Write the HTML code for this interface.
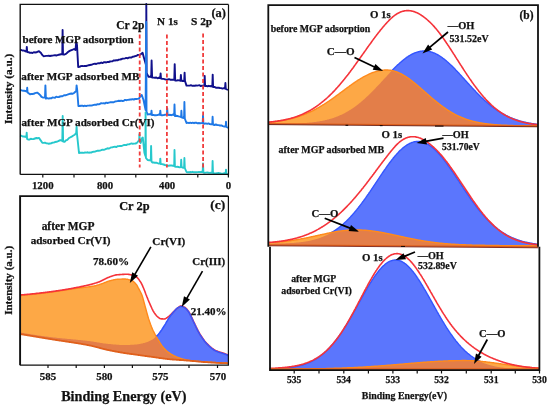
<!DOCTYPE html>
<html><head><meta charset="utf-8"><style>
html,body{margin:0;padding:0;background:#fff;}
svg{display:block;will-change:transform;}
text{font-family:"Liberation Serif",serif;font-weight:bold;fill:#111;stroke:#111;stroke-width:0.25px;}
</style></head><body>
<svg width="550" height="408" viewBox="0 0 550 408">
<rect width="550" height="408" fill="#fff"/>
<g>
<polygon points="268.5,124.2 268.5,123.7 269.0,123.7 269.5,123.7 270.0,123.7 270.5,123.7 271.0,123.7 271.5,123.7 272.0,123.7 272.5,123.7 273.0,123.7 273.5,123.7 274.0,123.7 274.5,123.7 275.0,123.7 275.5,123.7 276.0,123.7 276.5,123.7 277.0,123.7 277.5,123.7 278.0,123.7 278.5,123.7 279.0,123.7 279.5,123.7 280.0,123.7 280.5,123.7 281.0,123.7 281.5,123.7 282.0,123.7 282.5,123.7 283.0,123.7 283.5,123.7 284.0,123.7 284.5,123.7 285.0,123.7 285.5,123.7 286.0,123.7 286.5,123.7 287.0,123.7 287.5,123.6 288.0,123.6 288.5,123.6 289.0,123.6 289.5,123.6 290.0,123.6 290.5,123.6 291.0,123.6 291.5,123.6 292.0,123.6 292.5,123.5 293.0,123.5 293.5,123.5 294.0,123.5 294.5,123.5 295.0,123.5 295.5,123.5 296.0,123.4 296.5,123.4 297.0,123.4 297.5,123.4 298.0,123.4 298.5,123.3 299.0,123.3 299.5,123.3 300.0,123.3 300.5,123.2 301.0,123.2 301.5,123.2 302.0,123.2 302.5,123.1 303.0,123.1 303.5,123.1 304.0,123.0 304.5,123.0 305.0,123.0 305.5,122.9 306.0,122.9 306.5,122.9 307.0,122.8 307.5,122.8 308.0,122.7 308.5,122.7 309.0,122.7 309.5,122.6 310.0,122.6 310.5,122.5 311.0,122.5 311.5,122.4 312.0,122.4 312.5,122.3 313.0,122.2 313.5,122.2 314.0,122.1 314.5,122.1 315.0,122.0 315.5,121.9 316.0,121.9 316.5,121.8 317.0,121.7 317.5,121.6 318.0,121.6 318.5,121.5 319.0,121.4 319.5,121.3 320.0,121.2 320.5,121.1 321.0,121.1 321.5,121.0 322.0,120.9 322.5,120.8 323.0,120.7 323.5,120.6 324.0,120.5 324.5,120.4 325.0,120.2 325.5,120.1 326.0,120.0 326.5,119.9 327.0,119.8 327.5,119.6 328.0,119.5 328.5,119.4 329.0,119.2 329.5,119.1 330.0,119.0 330.5,118.8 331.0,118.7 331.5,118.5 332.0,118.4 332.5,118.2 333.0,118.0 333.5,117.9 334.0,117.7 334.5,117.5 335.0,117.3 335.5,117.2 336.0,117.0 336.5,116.8 337.0,116.6 337.5,116.4 338.0,116.2 338.5,116.0 339.0,115.8 339.5,115.6 340.0,115.3 340.5,115.1 341.0,114.9 341.5,114.7 342.0,114.4 342.5,114.2 343.0,113.9 343.5,113.7 344.0,113.4 344.5,113.2 345.0,112.9 345.5,112.6 346.0,112.4 346.5,112.1 347.0,111.8 347.5,111.5 348.0,111.2 348.5,110.9 349.0,110.6 349.5,110.3 350.0,110.0 350.5,109.7 351.0,109.4 351.5,109.1 352.0,108.7 352.5,108.4 353.0,108.1 353.5,107.7 354.0,107.4 354.5,107.0 355.0,106.7 355.5,106.3 356.0,105.9 356.5,105.6 357.0,105.2 357.5,104.8 358.0,104.4 358.5,104.0 359.0,103.6 359.5,103.2 360.0,102.8 360.5,102.4 361.0,102.0 361.5,101.6 362.0,101.1 362.5,100.7 363.0,100.3 363.5,99.8 364.0,99.4 364.5,98.9 365.0,98.5 365.5,98.0 366.0,97.6 366.5,97.1 367.0,96.6 367.5,96.2 368.0,95.7 368.5,95.2 369.0,94.7 369.5,94.3 370.0,93.8 370.5,93.3 371.0,92.8 371.5,92.3 372.0,91.8 372.5,91.3 373.0,90.8 373.5,90.2 374.0,89.7 374.5,89.2 375.0,88.7 375.5,88.2 376.0,87.6 376.5,87.1 377.0,86.6 377.5,86.1 378.0,85.5 378.5,85.0 379.0,84.5 379.5,83.9 380.0,83.4 380.5,82.9 381.0,82.3 381.5,81.8 382.0,81.2 382.5,80.7 383.0,80.2 383.5,79.6 384.0,79.1 384.5,78.5 385.0,78.0 385.5,77.4 386.0,76.9 386.5,76.4 387.0,75.8 387.5,75.3 388.0,74.8 388.5,74.2 389.0,73.7 389.5,73.2 390.0,72.6 390.5,72.1 391.0,71.6 391.5,71.1 392.0,70.6 392.5,70.0 393.0,69.5 393.5,69.0 394.0,68.5 394.5,68.0 395.0,67.5 395.5,67.0 396.0,66.5 396.5,66.1 397.0,65.6 397.5,65.1 398.0,64.6 398.5,64.2 399.0,63.7 399.5,63.3 400.0,62.8 400.5,62.4 401.0,61.9 401.5,61.5 402.0,61.1 402.5,60.7 403.0,60.3 403.5,59.9 404.0,59.5 404.5,59.1 405.0,58.7 405.5,58.3 406.0,57.9 406.5,57.6 407.0,57.2 407.5,56.9 408.0,56.6 408.5,56.2 409.0,55.9 409.5,55.6 410.0,55.3 410.5,55.0 411.0,54.7 411.5,54.5 412.0,54.2 412.5,54.0 413.0,53.7 413.5,53.5 414.0,53.3 414.5,53.0 415.0,52.8 415.5,52.6 416.0,52.5 416.5,52.3 417.0,52.1 417.5,52.0 418.0,51.8 418.5,51.7 419.0,51.6 419.5,51.5 420.0,51.4 420.5,51.3 421.0,51.2 421.5,51.1 422.0,51.1 422.5,51.0 423.0,51.0 423.5,51.0 424.0,51.0 424.5,51.0 425.0,51.0 425.5,51.0 426.0,51.0 426.5,51.1 427.0,51.1 427.5,51.2 428.0,51.2 428.5,51.3 429.0,51.4 429.5,51.5 430.0,51.6 430.5,51.8 431.0,51.9 431.5,52.1 432.0,52.2 432.5,52.4 433.0,52.6 433.5,52.8 434.0,53.0 434.5,53.2 435.0,53.4 435.5,53.6 436.0,53.9 436.5,54.1 437.0,54.4 437.5,54.7 438.0,55.0 438.5,55.2 439.0,55.5 439.5,55.9 440.0,56.2 440.5,56.5 441.0,56.8 441.5,57.2 442.0,57.5 442.5,57.9 443.0,58.3 443.5,58.6 444.0,59.0 444.5,59.4 445.0,59.8 445.5,60.2 446.0,60.6 446.5,61.1 447.0,61.5 447.5,61.9 448.0,62.4 448.5,62.8 449.0,63.3 449.5,63.7 450.0,64.2 450.5,64.7 451.0,65.1 451.5,65.6 452.0,66.1 452.5,66.6 453.0,67.1 453.5,67.6 454.0,68.1 454.5,68.6 455.0,69.1 455.5,69.6 456.0,70.2 456.5,70.7 457.0,71.2 457.5,71.7 458.0,72.3 458.5,72.8 459.0,73.3 459.5,73.9 460.0,74.4 460.5,75.0 461.0,75.5 461.5,76.1 462.0,76.6 462.5,77.2 463.0,77.7 463.5,78.3 464.0,78.8 464.5,79.4 465.0,79.9 465.5,80.5 466.0,81.0 466.5,81.6 467.0,82.1 467.5,82.7 468.0,83.2 468.5,83.8 469.0,84.3 469.5,84.9 470.0,85.4 470.5,86.0 471.0,86.5 471.5,87.1 472.0,87.6 472.5,88.2 473.0,88.7 473.5,89.2 474.0,89.8 474.5,90.3 475.0,90.8 475.5,91.3 476.0,91.9 476.5,92.4 477.0,92.9 477.5,93.4 478.0,93.9 478.5,94.4 479.0,94.9 479.5,95.4 480.0,95.9 480.5,96.4 481.0,96.9 481.5,97.4 482.0,97.9 482.5,98.3 483.0,98.8 483.5,99.3 484.0,99.8 484.5,100.2 485.0,100.7 485.5,101.1 486.0,101.6 486.5,102.0 487.0,102.4 487.5,102.9 488.0,103.3 488.5,103.7 489.0,104.1 489.5,104.6 490.0,105.0 490.5,105.4 491.0,105.8 491.5,106.2 492.0,106.6 492.5,106.9 493.0,107.3 493.5,107.7 494.0,108.1 494.5,108.4 495.0,108.8 495.5,109.2 496.0,109.5 496.5,109.9 497.0,110.2 497.5,110.5 498.0,110.9 498.5,111.2 499.0,111.5 499.5,111.8 500.0,112.1 500.5,112.4 501.0,112.7 501.5,113.0 502.0,113.3 502.5,113.6 503.0,113.9 503.5,114.2 504.0,114.5 504.5,114.7 505.0,115.0 505.5,115.2 506.0,115.5 506.5,115.8 507.0,116.0 507.5,116.2 508.0,116.5 508.5,116.7 509.0,116.9 509.5,117.2 510.0,117.4 510.5,117.6 511.0,117.8 511.5,118.0 512.0,118.2 512.5,118.4 513.0,118.6 513.5,118.8 514.0,119.0 514.5,119.2 515.0,119.4 515.5,119.5 516.0,119.7 516.5,119.9 517.0,120.0 517.5,120.2 518.0,120.4 518.5,120.5 519.0,120.7 519.5,120.8 520.0,121.0 520.5,121.1 521.0,121.2 521.5,121.4 522.0,121.5 522.5,121.6 523.0,121.8 523.5,121.9 524.0,122.0 524.5,122.1 525.0,122.2 525.5,122.3 526.0,122.4 526.5,122.6 527.0,122.7 527.5,122.8 528.0,122.9 528.5,123.0 529.0,123.1 529.5,123.1 530.0,123.2 530.5,123.3 531.0,123.4 531.5,123.5 532.0,123.6 532.5,123.6 533.0,123.7 533.5,123.8 534.0,123.9 534.5,123.9 535.0,124.0 535.5,124.1 536.0,124.1 536.5,124.2 537.0,124.3 537.5,124.3 537.8,126.4" fill="#5B76FD"/>
<polyline points="268.5,123.7 269.0,123.7 269.5,123.7 270.0,123.7 270.5,123.7 271.0,123.7 271.5,123.7 272.0,123.7 272.5,123.7 273.0,123.7 273.5,123.7 274.0,123.7 274.5,123.7 275.0,123.7 275.5,123.7 276.0,123.7 276.5,123.7 277.0,123.7 277.5,123.7 278.0,123.7 278.5,123.7 279.0,123.7 279.5,123.7 280.0,123.7 280.5,123.7 281.0,123.7 281.5,123.7 282.0,123.7 282.5,123.7 283.0,123.7 283.5,123.7 284.0,123.7 284.5,123.7 285.0,123.7 285.5,123.7 286.0,123.7 286.5,123.7 287.0,123.7 287.5,123.6 288.0,123.6 288.5,123.6 289.0,123.6 289.5,123.6 290.0,123.6 290.5,123.6 291.0,123.6 291.5,123.6 292.0,123.6 292.5,123.5 293.0,123.5 293.5,123.5 294.0,123.5 294.5,123.5 295.0,123.5 295.5,123.5 296.0,123.4 296.5,123.4 297.0,123.4 297.5,123.4 298.0,123.4 298.5,123.3 299.0,123.3 299.5,123.3 300.0,123.3 300.5,123.2 301.0,123.2 301.5,123.2 302.0,123.2 302.5,123.1 303.0,123.1 303.5,123.1 304.0,123.0 304.5,123.0 305.0,123.0 305.5,122.9 306.0,122.9 306.5,122.9 307.0,122.8 307.5,122.8 308.0,122.7 308.5,122.7 309.0,122.7 309.5,122.6 310.0,122.6 310.5,122.5 311.0,122.5 311.5,122.4 312.0,122.4 312.5,122.3 313.0,122.2 313.5,122.2 314.0,122.1 314.5,122.1 315.0,122.0 315.5,121.9 316.0,121.9 316.5,121.8 317.0,121.7 317.5,121.6 318.0,121.6 318.5,121.5 319.0,121.4 319.5,121.3 320.0,121.2 320.5,121.1 321.0,121.1 321.5,121.0 322.0,120.9 322.5,120.8 323.0,120.7 323.5,120.6 324.0,120.5 324.5,120.4 325.0,120.2 325.5,120.1 326.0,120.0 326.5,119.9 327.0,119.8 327.5,119.6 328.0,119.5 328.5,119.4 329.0,119.2 329.5,119.1 330.0,119.0 330.5,118.8 331.0,118.7 331.5,118.5 332.0,118.4 332.5,118.2 333.0,118.0 333.5,117.9 334.0,117.7 334.5,117.5 335.0,117.3 335.5,117.2 336.0,117.0 336.5,116.8 337.0,116.6 337.5,116.4 338.0,116.2 338.5,116.0 339.0,115.8 339.5,115.6 340.0,115.3 340.5,115.1 341.0,114.9 341.5,114.7 342.0,114.4 342.5,114.2 343.0,113.9 343.5,113.7 344.0,113.4 344.5,113.2 345.0,112.9 345.5,112.6 346.0,112.4 346.5,112.1 347.0,111.8 347.5,111.5 348.0,111.2 348.5,110.9 349.0,110.6 349.5,110.3 350.0,110.0 350.5,109.7 351.0,109.4 351.5,109.1 352.0,108.7 352.5,108.4 353.0,108.1 353.5,107.7 354.0,107.4 354.5,107.0 355.0,106.7 355.5,106.3 356.0,105.9 356.5,105.6 357.0,105.2 357.5,104.8 358.0,104.4 358.5,104.0 359.0,103.6 359.5,103.2 360.0,102.8 360.5,102.4 361.0,102.0 361.5,101.6 362.0,101.1 362.5,100.7 363.0,100.3 363.5,99.8 364.0,99.4 364.5,98.9 365.0,98.5 365.5,98.0 366.0,97.6 366.5,97.1 367.0,96.6 367.5,96.2 368.0,95.7 368.5,95.2 369.0,94.7 369.5,94.3 370.0,93.8 370.5,93.3 371.0,92.8 371.5,92.3 372.0,91.8 372.5,91.3 373.0,90.8 373.5,90.2 374.0,89.7 374.5,89.2 375.0,88.7 375.5,88.2 376.0,87.6 376.5,87.1 377.0,86.6 377.5,86.1 378.0,85.5 378.5,85.0 379.0,84.5 379.5,83.9 380.0,83.4 380.5,82.9 381.0,82.3 381.5,81.8 382.0,81.2 382.5,80.7 383.0,80.2 383.5,79.6 384.0,79.1 384.5,78.5 385.0,78.0 385.5,77.4 386.0,76.9 386.5,76.4 387.0,75.8 387.5,75.3 388.0,74.8 388.5,74.2 389.0,73.7 389.5,73.2 390.0,72.6 390.5,72.1 391.0,71.6 391.5,71.1 392.0,70.6 392.5,70.0 393.0,69.5 393.5,69.0 394.0,68.5 394.5,68.0 395.0,67.5 395.5,67.0 396.0,66.5 396.5,66.1 397.0,65.6 397.5,65.1 398.0,64.6 398.5,64.2 399.0,63.7 399.5,63.3 400.0,62.8 400.5,62.4 401.0,61.9 401.5,61.5 402.0,61.1 402.5,60.7 403.0,60.3 403.5,59.9 404.0,59.5 404.5,59.1 405.0,58.7 405.5,58.3 406.0,57.9 406.5,57.6 407.0,57.2 407.5,56.9 408.0,56.6 408.5,56.2 409.0,55.9 409.5,55.6 410.0,55.3 410.5,55.0 411.0,54.7 411.5,54.5 412.0,54.2 412.5,54.0 413.0,53.7 413.5,53.5 414.0,53.3 414.5,53.0 415.0,52.8 415.5,52.6 416.0,52.5 416.5,52.3 417.0,52.1 417.5,52.0 418.0,51.8 418.5,51.7 419.0,51.6 419.5,51.5 420.0,51.4 420.5,51.3 421.0,51.2 421.5,51.1 422.0,51.1 422.5,51.0 423.0,51.0 423.5,51.0 424.0,51.0 424.5,51.0 425.0,51.0 425.5,51.0 426.0,51.0 426.5,51.1 427.0,51.1 427.5,51.2 428.0,51.2 428.5,51.3 429.0,51.4 429.5,51.5 430.0,51.6 430.5,51.8 431.0,51.9 431.5,52.1 432.0,52.2 432.5,52.4 433.0,52.6 433.5,52.8 434.0,53.0 434.5,53.2 435.0,53.4 435.5,53.6 436.0,53.9 436.5,54.1 437.0,54.4 437.5,54.7 438.0,55.0 438.5,55.2 439.0,55.5 439.5,55.9 440.0,56.2 440.5,56.5 441.0,56.8 441.5,57.2 442.0,57.5 442.5,57.9 443.0,58.3 443.5,58.6 444.0,59.0 444.5,59.4 445.0,59.8 445.5,60.2 446.0,60.6 446.5,61.1 447.0,61.5 447.5,61.9 448.0,62.4 448.5,62.8 449.0,63.3 449.5,63.7 450.0,64.2 450.5,64.7 451.0,65.1 451.5,65.6 452.0,66.1 452.5,66.6 453.0,67.1 453.5,67.6 454.0,68.1 454.5,68.6 455.0,69.1 455.5,69.6 456.0,70.2 456.5,70.7 457.0,71.2 457.5,71.7 458.0,72.3 458.5,72.8 459.0,73.3 459.5,73.9 460.0,74.4 460.5,75.0 461.0,75.5 461.5,76.1 462.0,76.6 462.5,77.2 463.0,77.7 463.5,78.3 464.0,78.8 464.5,79.4 465.0,79.9 465.5,80.5 466.0,81.0 466.5,81.6 467.0,82.1 467.5,82.7 468.0,83.2 468.5,83.8 469.0,84.3 469.5,84.9 470.0,85.4 470.5,86.0 471.0,86.5 471.5,87.1 472.0,87.6 472.5,88.2 473.0,88.7 473.5,89.2 474.0,89.8 474.5,90.3 475.0,90.8 475.5,91.3 476.0,91.9 476.5,92.4 477.0,92.9 477.5,93.4 478.0,93.9 478.5,94.4 479.0,94.9 479.5,95.4 480.0,95.9 480.5,96.4 481.0,96.9 481.5,97.4 482.0,97.9 482.5,98.3 483.0,98.8 483.5,99.3 484.0,99.8 484.5,100.2 485.0,100.7 485.5,101.1 486.0,101.6 486.5,102.0 487.0,102.4 487.5,102.9 488.0,103.3 488.5,103.7 489.0,104.1 489.5,104.6 490.0,105.0 490.5,105.4 491.0,105.8 491.5,106.2 492.0,106.6 492.5,106.9 493.0,107.3 493.5,107.7 494.0,108.1 494.5,108.4 495.0,108.8 495.5,109.2 496.0,109.5 496.5,109.9 497.0,110.2 497.5,110.5 498.0,110.9 498.5,111.2 499.0,111.5 499.5,111.8 500.0,112.1 500.5,112.4 501.0,112.7 501.5,113.0 502.0,113.3 502.5,113.6 503.0,113.9 503.5,114.2 504.0,114.5 504.5,114.7 505.0,115.0 505.5,115.2 506.0,115.5 506.5,115.8 507.0,116.0 507.5,116.2 508.0,116.5 508.5,116.7 509.0,116.9 509.5,117.2 510.0,117.4 510.5,117.6 511.0,117.8 511.5,118.0 512.0,118.2 512.5,118.4 513.0,118.6 513.5,118.8 514.0,119.0 514.5,119.2 515.0,119.4 515.5,119.5 516.0,119.7 516.5,119.9 517.0,120.0 517.5,120.2 518.0,120.4 518.5,120.5 519.0,120.7 519.5,120.8 520.0,121.0 520.5,121.1 521.0,121.2 521.5,121.4 522.0,121.5 522.5,121.6 523.0,121.8 523.5,121.9 524.0,122.0 524.5,122.1 525.0,122.2 525.5,122.3 526.0,122.4 526.5,122.6 527.0,122.7 527.5,122.8 528.0,122.9 528.5,123.0 529.0,123.1 529.5,123.1 530.0,123.2 530.5,123.3 531.0,123.4 531.5,123.5 532.0,123.6 532.5,123.6 533.0,123.7 533.5,123.8 534.0,123.9 534.5,123.9 535.0,124.0 535.5,124.1 536.0,124.1 536.5,124.2 537.0,124.3 537.5,124.3" fill="none" stroke="#3355FF" stroke-width="1.4"/>
<polygon points="268.5,124.2 268.5,122.3 269.0,122.2 269.5,122.2 270.0,122.1 270.5,122.1 271.0,122.0 271.5,122.0 272.0,121.9 272.5,121.9 273.0,121.8 273.5,121.8 274.0,121.7 274.5,121.7 275.0,121.6 275.5,121.5 276.0,121.5 276.5,121.4 277.0,121.4 277.5,121.3 278.0,121.2 278.5,121.1 279.0,121.1 279.5,121.0 280.0,120.9 280.5,120.8 281.0,120.8 281.5,120.7 282.0,120.6 282.5,120.5 283.0,120.4 283.5,120.3 284.0,120.2 284.5,120.2 285.0,120.1 285.5,120.0 286.0,119.9 286.5,119.8 287.0,119.7 287.5,119.5 288.0,119.4 288.5,119.3 289.0,119.2 289.5,119.1 290.0,119.0 290.5,118.9 291.0,118.7 291.5,118.6 292.0,118.5 292.5,118.4 293.0,118.2 293.5,118.1 294.0,117.9 294.5,117.8 295.0,117.7 295.5,117.5 296.0,117.4 296.5,117.2 297.0,117.1 297.5,116.9 298.0,116.7 298.5,116.6 299.0,116.4 299.5,116.2 300.0,116.1 300.5,115.9 301.0,115.7 301.5,115.5 302.0,115.4 302.5,115.2 303.0,115.0 303.5,114.8 304.0,114.6 304.5,114.4 305.0,114.2 305.5,114.0 306.0,113.8 306.5,113.6 307.0,113.4 307.5,113.1 308.0,112.9 308.5,112.7 309.0,112.5 309.5,112.3 310.0,112.0 310.5,111.8 311.0,111.5 311.5,111.3 312.0,111.1 312.5,110.8 313.0,110.6 313.5,110.3 314.0,110.0 314.5,109.8 315.0,109.5 315.5,109.3 316.0,109.0 316.5,108.7 317.0,108.4 317.5,108.2 318.0,107.9 318.5,107.6 319.0,107.3 319.5,107.0 320.0,106.7 320.5,106.4 321.0,106.1 321.5,105.8 322.0,105.5 322.5,105.2 323.0,104.9 323.5,104.6 324.0,104.3 324.5,104.0 325.0,103.6 325.5,103.3 326.0,103.0 326.5,102.7 327.0,102.3 327.5,102.0 328.0,101.7 328.5,101.3 329.0,101.0 329.5,100.6 330.0,100.3 330.5,100.0 331.0,99.6 331.5,99.3 332.0,98.9 332.5,98.6 333.0,98.2 333.5,97.8 334.0,97.5 334.5,97.1 335.0,96.8 335.5,96.4 336.0,96.0 336.5,95.7 337.0,95.3 337.5,94.9 338.0,94.6 338.5,94.2 339.0,93.8 339.5,93.5 340.0,93.1 340.5,92.7 341.0,92.4 341.5,92.0 342.0,91.6 342.5,91.3 343.0,90.9 343.5,90.5 344.0,90.1 344.5,89.8 345.0,89.4 345.5,89.0 346.0,88.7 346.5,88.3 347.0,87.9 347.5,87.5 348.0,87.2 348.5,86.8 349.0,86.5 349.5,86.1 350.0,85.7 350.5,85.4 351.0,85.0 351.5,84.7 352.0,84.3 352.5,83.9 353.0,83.6 353.5,83.2 354.0,82.9 354.5,82.6 355.0,82.2 355.5,81.9 356.0,81.5 356.5,81.2 357.0,80.9 357.5,80.6 358.0,80.2 358.5,79.9 359.0,79.6 359.5,79.3 360.0,79.0 360.5,78.7 361.0,78.4 361.5,78.1 362.0,77.8 362.5,77.5 363.0,77.2 363.5,76.9 364.0,76.6 364.5,76.4 365.0,76.1 365.5,75.8 366.0,75.6 366.5,75.3 367.0,75.1 367.5,74.8 368.0,74.6 368.5,74.3 369.0,74.1 369.5,73.9 370.0,73.7 370.5,73.5 371.0,73.3 371.5,73.0 372.0,72.9 372.5,72.7 373.0,72.5 373.5,72.3 374.0,72.1 374.5,72.0 375.0,71.8 375.5,71.7 376.0,71.5 376.5,71.4 377.0,71.2 377.5,71.1 378.0,71.0 378.5,70.9 379.0,70.8 379.5,70.7 380.0,70.6 380.5,70.5 381.0,70.4 381.5,70.3 382.0,70.3 382.5,70.2 383.0,70.2 383.5,70.1 384.0,70.1 384.5,70.0 385.0,70.0 385.5,70.0 386.0,70.0 386.5,70.0 387.0,70.0 387.5,70.0 388.0,70.0 388.5,70.1 389.0,70.1 389.5,70.1 390.0,70.2 390.5,70.3 391.0,70.4 391.5,70.4 392.0,70.5 392.5,70.6 393.0,70.8 393.5,70.9 394.0,71.0 394.5,71.2 395.0,71.3 395.5,71.5 396.0,71.6 396.5,71.8 397.0,72.0 397.5,72.2 398.0,72.4 398.5,72.6 399.0,72.8 399.5,73.1 400.0,73.3 400.5,73.5 401.0,73.8 401.5,74.0 402.0,74.3 402.5,74.6 403.0,74.9 403.5,75.2 404.0,75.5 404.5,75.8 405.0,76.1 405.5,76.4 406.0,76.7 406.5,77.0 407.0,77.4 407.5,77.7 408.0,78.0 408.5,78.4 409.0,78.7 409.5,79.1 410.0,79.5 410.5,79.8 411.0,80.2 411.5,80.6 412.0,81.0 412.5,81.4 413.0,81.8 413.5,82.2 414.0,82.6 414.5,83.0 415.0,83.4 415.5,83.8 416.0,84.2 416.5,84.6 417.0,85.0 417.5,85.5 418.0,85.9 418.5,86.3 419.0,86.7 419.5,87.2 420.0,87.6 420.5,88.0 421.0,88.5 421.5,88.9 422.0,89.4 422.5,89.8 423.0,90.2 423.5,90.7 424.0,91.1 424.5,91.6 425.0,92.0 425.5,92.4 426.0,92.9 426.5,93.3 427.0,93.8 427.5,94.2 428.0,94.6 428.5,95.1 429.0,95.5 429.5,95.9 430.0,96.4 430.5,96.8 431.0,97.2 431.5,97.7 432.0,98.1 432.5,98.5 433.0,98.9 433.5,99.4 434.0,99.8 434.5,100.2 435.0,100.6 435.5,101.0 436.0,101.4 436.5,101.8 437.0,102.2 437.5,102.6 438.0,103.0 438.5,103.4 439.0,103.8 439.5,104.2 440.0,104.6 440.5,105.0 441.0,105.4 441.5,105.7 442.0,106.1 442.5,106.5 443.0,106.8 443.5,107.2 444.0,107.5 444.5,107.9 445.0,108.2 445.5,108.6 446.0,108.9 446.5,109.3 447.0,109.6 447.5,109.9 448.0,110.3 448.5,110.6 449.0,110.9 449.5,111.2 450.0,111.5 450.5,111.8 451.0,112.1 451.5,112.4 452.0,112.7 452.5,113.0 453.0,113.3 453.5,113.5 454.0,113.8 454.5,114.1 455.0,114.3 455.5,114.6 456.0,114.9 456.5,115.1 457.0,115.4 457.5,115.6 458.0,115.8 458.5,116.1 459.0,116.3 459.5,116.5 460.0,116.8 460.5,117.0 461.0,117.2 461.5,117.4 462.0,117.6 462.5,117.8 463.0,118.0 463.5,118.2 464.0,118.4 464.5,118.6 465.0,118.8 465.5,119.0 466.0,119.1 466.5,119.3 467.0,119.5 467.5,119.6 468.0,119.8 468.5,120.0 469.0,120.1 469.5,120.3 470.0,120.4 470.5,120.6 471.0,120.7 471.5,120.9 472.0,121.0 472.5,121.1 473.0,121.3 473.5,121.4 474.0,121.5 474.5,121.6 475.0,121.7 475.5,121.9 476.0,122.0 476.5,122.1 477.0,122.2 477.5,122.3 478.0,122.4 478.5,122.5 479.0,122.6 479.5,122.7 480.0,122.8 480.5,122.9 481.0,123.0 481.5,123.0 482.0,123.1 482.5,123.2 483.0,123.3 483.5,123.4 484.0,123.4 484.5,123.5 485.0,123.6 485.5,123.7 486.0,123.7 486.5,123.8 487.0,123.9 487.5,123.9 488.0,124.0 488.5,124.0 489.0,124.1 489.5,124.2 490.0,124.2 490.5,124.3 491.0,124.3 491.5,124.4 492.0,124.4 492.5,124.5 493.0,124.5 493.5,124.5 494.0,124.6 494.5,124.6 495.0,124.7 495.5,124.7 496.0,124.7 496.5,124.8 497.0,124.8 497.5,124.9 498.0,124.9 498.5,124.9 499.0,124.9 499.5,125.0 500.0,125.0 500.5,125.0 501.0,125.1 501.5,125.1 502.0,125.1 502.5,125.1 503.0,125.2 503.5,125.2 504.0,125.2 504.5,125.2 505.0,125.3 505.5,125.3 506.0,125.3 506.5,125.3 507.0,125.3 507.5,125.4 508.0,125.4 508.5,125.4 509.0,125.4 509.5,125.4 510.0,125.5 510.5,125.5 511.0,125.5 511.5,125.5 512.0,125.5 512.5,125.5 513.0,125.5 513.5,125.6 514.0,125.6 514.5,125.6 515.0,125.6 515.5,125.6 516.0,125.6 516.5,125.6 517.0,125.6 517.5,125.7 518.0,125.7 518.5,125.7 519.0,125.7 519.5,125.7 520.0,125.7 520.5,125.7 521.0,125.7 521.5,125.7 522.0,125.7 522.5,125.7 523.0,125.8 523.5,125.8 524.0,125.8 524.5,125.8 525.0,125.8 525.5,125.8 526.0,125.8 526.5,125.8 527.0,125.8 527.5,125.8 528.0,125.8 528.5,125.8 529.0,125.8 529.5,125.9 530.0,125.9 530.5,125.9 531.0,125.9 531.5,125.9 532.0,125.9 532.5,125.9 533.0,125.9 533.5,125.9 534.0,125.9 534.5,125.9 535.0,125.9 535.5,125.9 536.0,125.9 536.5,125.9 537.0,125.9 537.5,125.9 537.8,126.4" fill="#FDA846"/>
<polygon points="268.5,124.2 268.5,123.7 269.0,123.7 269.5,123.7 270.0,123.7 270.5,123.7 271.0,123.7 271.5,123.7 272.0,123.7 272.5,123.7 273.0,123.7 273.5,123.7 274.0,123.7 274.5,123.7 275.0,123.7 275.5,123.7 276.0,123.7 276.5,123.7 277.0,123.7 277.5,123.7 278.0,123.7 278.5,123.7 279.0,123.7 279.5,123.7 280.0,123.7 280.5,123.7 281.0,123.7 281.5,123.7 282.0,123.7 282.5,123.7 283.0,123.7 283.5,123.7 284.0,123.7 284.5,123.7 285.0,123.7 285.5,123.7 286.0,123.7 286.5,123.7 287.0,123.7 287.5,123.6 288.0,123.6 288.5,123.6 289.0,123.6 289.5,123.6 290.0,123.6 290.5,123.6 291.0,123.6 291.5,123.6 292.0,123.6 292.5,123.5 293.0,123.5 293.5,123.5 294.0,123.5 294.5,123.5 295.0,123.5 295.5,123.5 296.0,123.4 296.5,123.4 297.0,123.4 297.5,123.4 298.0,123.4 298.5,123.3 299.0,123.3 299.5,123.3 300.0,123.3 300.5,123.2 301.0,123.2 301.5,123.2 302.0,123.2 302.5,123.1 303.0,123.1 303.5,123.1 304.0,123.0 304.5,123.0 305.0,123.0 305.5,122.9 306.0,122.9 306.5,122.9 307.0,122.8 307.5,122.8 308.0,122.7 308.5,122.7 309.0,122.7 309.5,122.6 310.0,122.6 310.5,122.5 311.0,122.5 311.5,122.4 312.0,122.4 312.5,122.3 313.0,122.2 313.5,122.2 314.0,122.1 314.5,122.1 315.0,122.0 315.5,121.9 316.0,121.9 316.5,121.8 317.0,121.7 317.5,121.6 318.0,121.6 318.5,121.5 319.0,121.4 319.5,121.3 320.0,121.2 320.5,121.1 321.0,121.1 321.5,121.0 322.0,120.9 322.5,120.8 323.0,120.7 323.5,120.6 324.0,120.5 324.5,120.4 325.0,120.2 325.5,120.1 326.0,120.0 326.5,119.9 327.0,119.8 327.5,119.6 328.0,119.5 328.5,119.4 329.0,119.2 329.5,119.1 330.0,119.0 330.5,118.8 331.0,118.7 331.5,118.5 332.0,118.4 332.5,118.2 333.0,118.0 333.5,117.9 334.0,117.7 334.5,117.5 335.0,117.3 335.5,117.2 336.0,117.0 336.5,116.8 337.0,116.6 337.5,116.4 338.0,116.2 338.5,116.0 339.0,115.8 339.5,115.6 340.0,115.3 340.5,115.1 341.0,114.9 341.5,114.7 342.0,114.4 342.5,114.2 343.0,113.9 343.5,113.7 344.0,113.4 344.5,113.2 345.0,112.9 345.5,112.6 346.0,112.4 346.5,112.1 347.0,111.8 347.5,111.5 348.0,111.2 348.5,110.9 349.0,110.6 349.5,110.3 350.0,110.0 350.5,109.7 351.0,109.4 351.5,109.1 352.0,108.7 352.5,108.4 353.0,108.1 353.5,107.7 354.0,107.4 354.5,107.0 355.0,106.7 355.5,106.3 356.0,105.9 356.5,105.6 357.0,105.2 357.5,104.8 358.0,104.4 358.5,104.0 359.0,103.6 359.5,103.2 360.0,102.8 360.5,102.4 361.0,102.0 361.5,101.6 362.0,101.1 362.5,100.7 363.0,100.3 363.5,99.8 364.0,99.4 364.5,98.9 365.0,98.5 365.5,98.0 366.0,97.6 366.5,97.1 367.0,96.6 367.5,96.2 368.0,95.7 368.5,95.2 369.0,94.7 369.5,94.3 370.0,93.8 370.5,93.3 371.0,92.8 371.5,92.3 372.0,91.8 372.5,91.3 373.0,90.8 373.5,90.2 374.0,89.7 374.5,89.2 375.0,88.7 375.5,88.2 376.0,87.6 376.5,87.1 377.0,86.6 377.5,86.1 378.0,85.5 378.5,85.0 379.0,84.5 379.5,83.9 380.0,83.4 380.5,82.9 381.0,82.3 381.5,81.8 382.0,81.2 382.5,80.7 383.0,80.2 383.5,79.6 384.0,79.1 384.5,78.5 385.0,78.0 385.5,77.4 386.0,76.9 386.5,76.4 387.0,75.8 387.5,75.3 388.0,74.8 388.5,74.2 389.0,73.7 389.5,73.2 390.0,72.6 390.5,72.1 391.0,71.6 391.5,71.1 392.0,70.6 392.5,70.6 393.0,70.8 393.5,70.9 394.0,71.0 394.5,71.2 395.0,71.3 395.5,71.5 396.0,71.6 396.5,71.8 397.0,72.0 397.5,72.2 398.0,72.4 398.5,72.6 399.0,72.8 399.5,73.1 400.0,73.3 400.5,73.5 401.0,73.8 401.5,74.0 402.0,74.3 402.5,74.6 403.0,74.9 403.5,75.2 404.0,75.5 404.5,75.8 405.0,76.1 405.5,76.4 406.0,76.7 406.5,77.0 407.0,77.4 407.5,77.7 408.0,78.0 408.5,78.4 409.0,78.7 409.5,79.1 410.0,79.5 410.5,79.8 411.0,80.2 411.5,80.6 412.0,81.0 412.5,81.4 413.0,81.8 413.5,82.2 414.0,82.6 414.5,83.0 415.0,83.4 415.5,83.8 416.0,84.2 416.5,84.6 417.0,85.0 417.5,85.5 418.0,85.9 418.5,86.3 419.0,86.7 419.5,87.2 420.0,87.6 420.5,88.0 421.0,88.5 421.5,88.9 422.0,89.4 422.5,89.8 423.0,90.2 423.5,90.7 424.0,91.1 424.5,91.6 425.0,92.0 425.5,92.4 426.0,92.9 426.5,93.3 427.0,93.8 427.5,94.2 428.0,94.6 428.5,95.1 429.0,95.5 429.5,95.9 430.0,96.4 430.5,96.8 431.0,97.2 431.5,97.7 432.0,98.1 432.5,98.5 433.0,98.9 433.5,99.4 434.0,99.8 434.5,100.2 435.0,100.6 435.5,101.0 436.0,101.4 436.5,101.8 437.0,102.2 437.5,102.6 438.0,103.0 438.5,103.4 439.0,103.8 439.5,104.2 440.0,104.6 440.5,105.0 441.0,105.4 441.5,105.7 442.0,106.1 442.5,106.5 443.0,106.8 443.5,107.2 444.0,107.5 444.5,107.9 445.0,108.2 445.5,108.6 446.0,108.9 446.5,109.3 447.0,109.6 447.5,109.9 448.0,110.3 448.5,110.6 449.0,110.9 449.5,111.2 450.0,111.5 450.5,111.8 451.0,112.1 451.5,112.4 452.0,112.7 452.5,113.0 453.0,113.3 453.5,113.5 454.0,113.8 454.5,114.1 455.0,114.3 455.5,114.6 456.0,114.9 456.5,115.1 457.0,115.4 457.5,115.6 458.0,115.8 458.5,116.1 459.0,116.3 459.5,116.5 460.0,116.8 460.5,117.0 461.0,117.2 461.5,117.4 462.0,117.6 462.5,117.8 463.0,118.0 463.5,118.2 464.0,118.4 464.5,118.6 465.0,118.8 465.5,119.0 466.0,119.1 466.5,119.3 467.0,119.5 467.5,119.6 468.0,119.8 468.5,120.0 469.0,120.1 469.5,120.3 470.0,120.4 470.5,120.6 471.0,120.7 471.5,120.9 472.0,121.0 472.5,121.1 473.0,121.3 473.5,121.4 474.0,121.5 474.5,121.6 475.0,121.7 475.5,121.9 476.0,122.0 476.5,122.1 477.0,122.2 477.5,122.3 478.0,122.4 478.5,122.5 479.0,122.6 479.5,122.7 480.0,122.8 480.5,122.9 481.0,123.0 481.5,123.0 482.0,123.1 482.5,123.2 483.0,123.3 483.5,123.4 484.0,123.4 484.5,123.5 485.0,123.6 485.5,123.7 486.0,123.7 486.5,123.8 487.0,123.9 487.5,123.9 488.0,124.0 488.5,124.0 489.0,124.1 489.5,124.2 490.0,124.2 490.5,124.3 491.0,124.3 491.5,124.4 492.0,124.4 492.5,124.5 493.0,124.5 493.5,124.5 494.0,124.6 494.5,124.6 495.0,124.7 495.5,124.7 496.0,124.7 496.5,124.8 497.0,124.8 497.5,124.9 498.0,124.9 498.5,124.9 499.0,124.9 499.5,125.0 500.0,125.0 500.5,125.0 501.0,125.1 501.5,125.1 502.0,125.1 502.5,125.1 503.0,125.2 503.5,125.2 504.0,125.2 504.5,125.2 505.0,125.3 505.5,125.3 506.0,125.3 506.5,125.3 507.0,125.3 507.5,125.4 508.0,125.4 508.5,125.4 509.0,125.4 509.5,125.4 510.0,125.5 510.5,125.5 511.0,125.5 511.5,125.5 512.0,125.5 512.5,125.5 513.0,125.5 513.5,125.6 514.0,125.6 514.5,125.6 515.0,125.6 515.5,125.6 516.0,125.6 516.5,125.6 517.0,125.6 517.5,125.7 518.0,125.7 518.5,125.7 519.0,125.7 519.5,125.7 520.0,125.7 520.5,125.7 521.0,125.7 521.5,125.7 522.0,125.7 522.5,125.7 523.0,125.8 523.5,125.8 524.0,125.8 524.5,125.8 525.0,125.8 525.5,125.8 526.0,125.8 526.5,125.8 527.0,125.8 527.5,125.8 528.0,125.8 528.5,125.8 529.0,125.8 529.5,125.9 530.0,125.9 530.5,125.9 531.0,125.9 531.5,125.9 532.0,125.9 532.5,125.9 533.0,125.9 533.5,125.9 534.0,125.9 534.5,125.9 535.0,125.9 535.5,125.9 536.0,125.9 536.5,125.9 537.0,125.9 537.5,125.9 537.8,126.4" fill="#E37E49"/>
<polyline points="268.5,122.3 269.0,122.2 269.5,122.2 270.0,122.1 270.5,122.1 271.0,122.0 271.5,122.0 272.0,121.9 272.5,121.9 273.0,121.8 273.5,121.8 274.0,121.7 274.5,121.7 275.0,121.6 275.5,121.5 276.0,121.5 276.5,121.4 277.0,121.4 277.5,121.3 278.0,121.2 278.5,121.1 279.0,121.1 279.5,121.0 280.0,120.9 280.5,120.8 281.0,120.8 281.5,120.7 282.0,120.6 282.5,120.5 283.0,120.4 283.5,120.3 284.0,120.2 284.5,120.2 285.0,120.1 285.5,120.0 286.0,119.9 286.5,119.8 287.0,119.7 287.5,119.5 288.0,119.4 288.5,119.3 289.0,119.2 289.5,119.1 290.0,119.0 290.5,118.9 291.0,118.7 291.5,118.6 292.0,118.5 292.5,118.4 293.0,118.2 293.5,118.1 294.0,117.9 294.5,117.8 295.0,117.7 295.5,117.5 296.0,117.4 296.5,117.2 297.0,117.1 297.5,116.9 298.0,116.7 298.5,116.6 299.0,116.4 299.5,116.2 300.0,116.1 300.5,115.9 301.0,115.7 301.5,115.5 302.0,115.4 302.5,115.2 303.0,115.0 303.5,114.8 304.0,114.6 304.5,114.4 305.0,114.2 305.5,114.0 306.0,113.8 306.5,113.6 307.0,113.4 307.5,113.1 308.0,112.9 308.5,112.7 309.0,112.5 309.5,112.3 310.0,112.0 310.5,111.8 311.0,111.5 311.5,111.3 312.0,111.1 312.5,110.8 313.0,110.6 313.5,110.3 314.0,110.0 314.5,109.8 315.0,109.5 315.5,109.3 316.0,109.0 316.5,108.7 317.0,108.4 317.5,108.2 318.0,107.9 318.5,107.6 319.0,107.3 319.5,107.0 320.0,106.7 320.5,106.4 321.0,106.1 321.5,105.8 322.0,105.5 322.5,105.2 323.0,104.9 323.5,104.6 324.0,104.3 324.5,104.0 325.0,103.6 325.5,103.3 326.0,103.0 326.5,102.7 327.0,102.3 327.5,102.0 328.0,101.7 328.5,101.3 329.0,101.0 329.5,100.6 330.0,100.3 330.5,100.0 331.0,99.6 331.5,99.3 332.0,98.9 332.5,98.6 333.0,98.2 333.5,97.8 334.0,97.5 334.5,97.1 335.0,96.8 335.5,96.4 336.0,96.0 336.5,95.7 337.0,95.3 337.5,94.9 338.0,94.6 338.5,94.2 339.0,93.8 339.5,93.5 340.0,93.1 340.5,92.7 341.0,92.4 341.5,92.0 342.0,91.6 342.5,91.3 343.0,90.9 343.5,90.5 344.0,90.1 344.5,89.8 345.0,89.4 345.5,89.0 346.0,88.7 346.5,88.3 347.0,87.9 347.5,87.5 348.0,87.2 348.5,86.8 349.0,86.5 349.5,86.1 350.0,85.7 350.5,85.4 351.0,85.0 351.5,84.7 352.0,84.3 352.5,83.9 353.0,83.6 353.5,83.2 354.0,82.9 354.5,82.6 355.0,82.2 355.5,81.9 356.0,81.5 356.5,81.2 357.0,80.9 357.5,80.6 358.0,80.2 358.5,79.9 359.0,79.6 359.5,79.3 360.0,79.0 360.5,78.7 361.0,78.4 361.5,78.1 362.0,77.8 362.5,77.5 363.0,77.2 363.5,76.9 364.0,76.6 364.5,76.4 365.0,76.1 365.5,75.8 366.0,75.6 366.5,75.3 367.0,75.1 367.5,74.8 368.0,74.6 368.5,74.3 369.0,74.1 369.5,73.9 370.0,73.7 370.5,73.5 371.0,73.3 371.5,73.0 372.0,72.9 372.5,72.7 373.0,72.5 373.5,72.3 374.0,72.1 374.5,72.0 375.0,71.8 375.5,71.7 376.0,71.5 376.5,71.4 377.0,71.2 377.5,71.1 378.0,71.0 378.5,70.9 379.0,70.8 379.5,70.7 380.0,70.6 380.5,70.5 381.0,70.4 381.5,70.3 382.0,70.3 382.5,70.2 383.0,70.2 383.5,70.1 384.0,70.1 384.5,70.0 385.0,70.0 385.5,70.0 386.0,70.0 386.5,70.0 387.0,70.0 387.5,70.0 388.0,70.0 388.5,70.1 389.0,70.1 389.5,70.1 390.0,70.2 390.5,70.3 391.0,70.4 391.5,70.4 392.0,70.5 392.5,70.6 393.0,70.8 393.5,70.9 394.0,71.0 394.5,71.2 395.0,71.3 395.5,71.5 396.0,71.6 396.5,71.8 397.0,72.0 397.5,72.2 398.0,72.4 398.5,72.6 399.0,72.8 399.5,73.1 400.0,73.3 400.5,73.5 401.0,73.8 401.5,74.0 402.0,74.3 402.5,74.6 403.0,74.9 403.5,75.2 404.0,75.5 404.5,75.8 405.0,76.1 405.5,76.4 406.0,76.7 406.5,77.0 407.0,77.4 407.5,77.7 408.0,78.0 408.5,78.4 409.0,78.7 409.5,79.1 410.0,79.5 410.5,79.8 411.0,80.2 411.5,80.6 412.0,81.0 412.5,81.4 413.0,81.8 413.5,82.2 414.0,82.6 414.5,83.0 415.0,83.4 415.5,83.8 416.0,84.2 416.5,84.6 417.0,85.0 417.5,85.5 418.0,85.9 418.5,86.3 419.0,86.7 419.5,87.2 420.0,87.6 420.5,88.0 421.0,88.5 421.5,88.9 422.0,89.4 422.5,89.8 423.0,90.2 423.5,90.7 424.0,91.1 424.5,91.6 425.0,92.0 425.5,92.4 426.0,92.9 426.5,93.3 427.0,93.8 427.5,94.2 428.0,94.6 428.5,95.1 429.0,95.5 429.5,95.9 430.0,96.4 430.5,96.8 431.0,97.2 431.5,97.7 432.0,98.1 432.5,98.5 433.0,98.9 433.5,99.4 434.0,99.8 434.5,100.2 435.0,100.6 435.5,101.0 436.0,101.4 436.5,101.8 437.0,102.2 437.5,102.6 438.0,103.0 438.5,103.4 439.0,103.8 439.5,104.2 440.0,104.6 440.5,105.0 441.0,105.4 441.5,105.7 442.0,106.1 442.5,106.5 443.0,106.8 443.5,107.2 444.0,107.5 444.5,107.9 445.0,108.2 445.5,108.6 446.0,108.9 446.5,109.3 447.0,109.6 447.5,109.9 448.0,110.3 448.5,110.6 449.0,110.9 449.5,111.2 450.0,111.5 450.5,111.8 451.0,112.1 451.5,112.4 452.0,112.7 452.5,113.0 453.0,113.3 453.5,113.5 454.0,113.8 454.5,114.1 455.0,114.3 455.5,114.6 456.0,114.9 456.5,115.1 457.0,115.4 457.5,115.6 458.0,115.8 458.5,116.1 459.0,116.3 459.5,116.5 460.0,116.8 460.5,117.0 461.0,117.2 461.5,117.4 462.0,117.6 462.5,117.8 463.0,118.0 463.5,118.2 464.0,118.4 464.5,118.6 465.0,118.8 465.5,119.0 466.0,119.1 466.5,119.3 467.0,119.5 467.5,119.6 468.0,119.8 468.5,120.0 469.0,120.1 469.5,120.3 470.0,120.4 470.5,120.6 471.0,120.7 471.5,120.9 472.0,121.0 472.5,121.1 473.0,121.3 473.5,121.4 474.0,121.5 474.5,121.6 475.0,121.7 475.5,121.9 476.0,122.0 476.5,122.1 477.0,122.2 477.5,122.3 478.0,122.4 478.5,122.5 479.0,122.6 479.5,122.7 480.0,122.8 480.5,122.9 481.0,123.0 481.5,123.0 482.0,123.1 482.5,123.2 483.0,123.3 483.5,123.4 484.0,123.4 484.5,123.5 485.0,123.6 485.5,123.7 486.0,123.7 486.5,123.8 487.0,123.9 487.5,123.9 488.0,124.0 488.5,124.0 489.0,124.1 489.5,124.2 490.0,124.2 490.5,124.3 491.0,124.3 491.5,124.4 492.0,124.4 492.5,124.5 493.0,124.5 493.5,124.5 494.0,124.6 494.5,124.6 495.0,124.7 495.5,124.7 496.0,124.7 496.5,124.8 497.0,124.8 497.5,124.9 498.0,124.9 498.5,124.9 499.0,124.9 499.5,125.0 500.0,125.0 500.5,125.0 501.0,125.1 501.5,125.1 502.0,125.1 502.5,125.1 503.0,125.2 503.5,125.2 504.0,125.2 504.5,125.2 505.0,125.3 505.5,125.3 506.0,125.3 506.5,125.3 507.0,125.3 507.5,125.4 508.0,125.4 508.5,125.4 509.0,125.4 509.5,125.4 510.0,125.5 510.5,125.5 511.0,125.5 511.5,125.5 512.0,125.5 512.5,125.5 513.0,125.5 513.5,125.6 514.0,125.6 514.5,125.6 515.0,125.6 515.5,125.6 516.0,125.6 516.5,125.6 517.0,125.6 517.5,125.7 518.0,125.7 518.5,125.7 519.0,125.7 519.5,125.7 520.0,125.7 520.5,125.7 521.0,125.7 521.5,125.7 522.0,125.7 522.5,125.7 523.0,125.8 523.5,125.8 524.0,125.8 524.5,125.8 525.0,125.8 525.5,125.8 526.0,125.8 526.5,125.8 527.0,125.8 527.5,125.8 528.0,125.8 528.5,125.8 529.0,125.8 529.5,125.9 530.0,125.9 530.5,125.9 531.0,125.9 531.5,125.9 532.0,125.9 532.5,125.9 533.0,125.9 533.5,125.9 534.0,125.9 534.5,125.9 535.0,125.9 535.5,125.9 536.0,125.9 536.5,125.9 537.0,125.9 537.5,125.9" fill="none" stroke="#FF8A1C" stroke-width="1.4"/>
<polyline points="268.5,122.2 269.0,122.1 269.5,122.1 270.0,122.0 270.5,122.0 271.0,121.9 271.5,121.9 272.0,121.8 272.5,121.7 273.0,121.7 273.5,121.6 274.0,121.6 274.5,121.5 275.0,121.4 275.5,121.4 276.0,121.3 276.5,121.2 277.0,121.2 277.5,121.1 278.0,121.0 278.5,120.9 279.0,120.9 279.5,120.8 280.0,120.7 280.5,120.6 281.0,120.5 281.5,120.4 282.0,120.4 282.5,120.3 283.0,120.2 283.5,120.1 284.0,120.0 284.5,119.9 285.0,119.8 285.5,119.6 286.0,119.5 286.5,119.4 287.0,119.3 287.5,119.2 288.0,119.1 288.5,118.9 289.0,118.8 289.5,118.7 290.0,118.6 290.5,118.4 291.0,118.3 291.5,118.1 292.0,118.0 292.5,117.9 293.0,117.7 293.5,117.6 294.0,117.4 294.5,117.2 295.0,117.1 295.5,116.9 296.0,116.7 296.5,116.6 297.0,116.4 297.5,116.2 298.0,116.0 298.5,115.8 299.0,115.7 299.5,115.5 300.0,115.3 300.5,115.1 301.0,114.9 301.5,114.6 302.0,114.4 302.5,114.2 303.0,114.0 303.5,113.8 304.0,113.5 304.5,113.3 305.0,113.1 305.5,112.8 306.0,112.6 306.5,112.3 307.0,112.1 307.5,111.8 308.0,111.5 308.5,111.3 309.0,111.0 309.5,110.7 310.0,110.4 310.5,110.2 311.0,109.9 311.5,109.6 312.0,109.3 312.5,109.0 313.0,108.7 313.5,108.3 314.0,108.0 314.5,107.7 315.0,107.4 315.5,107.0 316.0,106.7 316.5,106.4 317.0,106.0 317.5,105.7 318.0,105.3 318.5,104.9 319.0,104.6 319.5,104.2 320.0,103.8 320.5,103.4 321.0,103.0 321.5,102.6 322.0,102.2 322.5,101.8 323.0,101.4 323.5,101.0 324.0,100.6 324.5,100.2 325.0,99.7 325.5,99.3 326.0,98.9 326.5,98.4 327.0,98.0 327.5,97.5 328.0,97.0 328.5,96.6 329.0,96.1 329.5,95.6 330.0,95.1 330.5,94.6 331.0,94.2 331.5,93.7 332.0,93.2 332.5,92.6 333.0,92.1 333.5,91.6 334.0,91.1 334.5,90.6 335.0,90.0 335.5,89.5 336.0,88.9 336.5,88.4 337.0,87.8 337.5,87.3 338.0,86.7 338.5,86.1 339.0,85.6 339.5,85.0 340.0,84.4 340.5,83.8 341.0,83.2 341.5,82.6 342.0,82.0 342.5,81.4 343.0,80.8 343.5,80.2 344.0,79.6 344.5,79.0 345.0,78.3 345.5,77.7 346.0,77.1 346.5,76.4 347.0,75.8 347.5,75.2 348.0,74.5 348.5,73.9 349.0,73.2 349.5,72.5 350.0,71.9 350.5,71.2 351.0,70.6 351.5,69.9 352.0,69.2 352.5,68.5 353.0,67.9 353.5,67.2 354.0,66.5 354.5,65.8 355.0,65.1 355.5,64.4 356.0,63.7 356.5,63.0 357.0,62.3 357.5,61.6 358.0,60.9 358.5,60.2 359.0,59.5 359.5,58.8 360.0,58.1 360.5,57.4 361.0,56.7 361.5,56.0 362.0,55.3 362.5,54.6 363.0,53.9 363.5,53.2 364.0,52.5 364.5,51.8 365.0,51.1 365.5,50.4 366.0,49.7 366.5,48.9 367.0,48.2 367.5,47.5 368.0,46.8 368.5,46.1 369.0,45.4 369.5,44.7 370.0,44.0 370.5,43.4 371.0,42.7 371.5,42.0 372.0,41.3 372.5,40.6 373.0,39.9 373.5,39.2 374.0,38.6 374.5,37.9 375.0,37.2 375.5,36.6 376.0,35.9 376.5,35.2 377.0,34.6 377.5,33.9 378.0,33.3 378.5,32.6 379.0,32.0 379.5,31.4 380.0,30.7 380.5,30.1 381.0,29.5 381.5,28.9 382.0,28.3 382.5,27.7 383.0,27.1 383.5,26.5 384.0,25.9 384.5,25.3 385.0,24.8 385.5,24.2 386.0,23.6 386.5,23.1 387.0,22.5 387.5,22.0 388.0,21.5 388.5,21.0 389.0,20.4 389.5,19.9 390.0,19.4 390.5,18.9 391.0,18.5 391.5,18.0 392.0,17.6 392.5,17.1 393.0,16.7 393.5,16.3 394.0,15.9 394.5,15.5 395.0,15.1 395.5,14.8 396.0,14.5 396.5,14.1 397.0,13.8 397.5,13.5 398.0,13.2 398.5,13.0 399.0,12.7 399.5,12.5 400.0,12.2 400.5,12.0 401.0,11.8 401.5,11.7 402.0,11.5 402.5,11.3 403.0,11.2 403.5,11.1 404.0,11.0 404.5,10.9 405.0,10.8 405.5,10.7 406.0,10.7 406.5,10.6 407.0,10.6 407.5,10.6 408.0,10.6 408.5,10.6 409.0,10.6 409.5,10.7 410.0,10.7 410.5,10.8 411.0,10.9 411.5,11.0 412.0,11.1 412.5,11.2 413.0,11.3 413.5,11.5 414.0,11.6 414.5,11.8 415.0,12.0 415.5,12.2 416.0,12.4 416.5,12.6 417.0,12.8 417.5,13.1 418.0,13.3 418.5,13.6 419.0,13.8 419.5,14.1 420.0,14.4 420.5,14.7 421.0,15.0 421.5,15.4 422.0,15.7 422.5,16.0 423.0,16.4 423.5,16.8 424.0,17.1 424.5,17.5 425.0,17.9 425.5,18.3 426.0,18.7 426.5,19.1 427.0,19.5 427.5,20.0 428.0,20.4 428.5,20.9 429.0,21.3 429.5,21.8 430.0,22.2 430.5,22.7 431.0,23.2 431.5,23.7 432.0,24.2 432.5,24.8 433.0,25.3 433.5,25.9 434.0,26.4 434.5,27.0 435.0,27.6 435.5,28.1 436.0,28.7 436.5,29.3 437.0,29.9 437.5,30.6 438.0,31.2 438.5,31.8 439.0,32.5 439.5,33.1 440.0,33.8 440.5,34.5 441.0,35.1 441.5,35.8 442.0,36.5 442.5,37.2 443.0,37.9 443.5,38.6 444.0,39.3 444.5,40.0 445.0,40.8 445.5,41.5 446.0,42.2 446.5,43.0 447.0,43.7 447.5,44.4 448.0,45.2 448.5,45.9 449.0,46.7 449.5,47.5 450.0,48.2 450.5,49.0 451.0,49.8 451.5,50.5 452.0,51.3 452.5,52.1 453.0,52.9 453.5,53.7 454.0,54.4 454.5,55.2 455.0,56.0 455.5,56.8 456.0,57.6 456.5,58.4 457.0,59.2 457.5,59.9 458.0,60.7 458.5,61.5 459.0,62.3 459.5,63.1 460.0,63.9 460.5,64.7 461.0,65.4 461.5,66.2 462.0,67.0 462.5,67.8 463.0,68.5 463.5,69.3 464.0,70.1 464.5,70.9 465.0,71.6 465.5,72.4 466.0,73.1 466.5,73.9 467.0,74.7 467.5,75.4 468.0,76.1 468.5,76.9 469.0,77.6 469.5,78.4 470.0,79.1 470.5,79.8 471.0,80.5 471.5,81.2 472.0,82.0 472.5,82.7 473.0,83.4 473.5,84.1 474.0,84.8 474.5,85.4 475.0,86.1 475.5,86.8 476.0,87.5 476.5,88.1 477.0,88.8 477.5,89.4 478.0,90.1 478.5,90.7 479.0,91.4 479.5,92.0 480.0,92.6 480.5,93.2 481.0,93.8 481.5,94.4 482.0,95.0 482.5,95.6 483.0,96.2 483.5,96.8 484.0,97.3 484.5,97.9 485.0,98.4 485.5,99.0 486.0,99.5 486.5,100.1 487.0,100.6 487.5,101.1 488.0,101.6 488.5,102.1 489.0,102.6 489.5,103.1 490.0,103.6 490.5,104.1 491.0,104.6 491.5,105.0 492.0,105.5 492.5,105.9 493.0,106.4 493.5,106.8 494.0,107.3 494.5,107.7 495.0,108.1 495.5,108.5 496.0,108.9 496.5,109.3 497.0,109.7 497.5,110.1 498.0,110.5 498.5,110.8 499.0,111.2 499.5,111.6 500.0,111.9 500.5,112.3 501.0,112.6 501.5,112.9 502.0,113.3 502.5,113.6 503.0,113.9 503.5,114.2 504.0,114.5 504.5,114.8 505.0,115.1 505.5,115.4 506.0,115.6 506.5,115.9 507.0,116.2 507.5,116.5 508.0,116.7 508.5,117.0 509.0,117.2 509.5,117.4 510.0,117.7 510.5,117.9 511.0,118.1 511.5,118.4 512.0,118.6 512.5,118.8 513.0,119.0 513.5,119.2 514.0,119.4 514.5,119.6 515.0,119.8 515.5,119.9 516.0,120.1 516.5,120.3 517.0,120.5 517.5,120.6 518.0,120.8 518.5,121.0 519.0,121.1 519.5,121.3 520.0,121.4 520.5,121.5 521.0,121.7 521.5,121.8 522.0,121.9 522.5,122.1 523.0,122.2 523.5,122.3 524.0,122.4 524.5,122.6 525.0,122.7 525.5,122.8 526.0,122.9 526.5,123.0 527.0,123.1 527.5,123.2 528.0,123.3 528.5,123.4 529.0,123.5 529.5,123.6 530.0,123.6 530.5,123.7 531.0,123.8 531.5,123.9 532.0,124.0 532.5,124.0 533.0,124.1 533.5,124.2 534.0,124.2 534.5,124.3 535.0,124.4 535.5,124.4 536.0,124.5 536.5,124.5 537.0,124.6 537.5,124.7" fill="none" stroke="#F5333A" stroke-width="1.6"/>
<line x1="268.5" y1="123.69" x2="537.8" y2="125.87" stroke="#E0601C" stroke-width="1.3"/>
<line x1="268.5" y1="124.59" x2="537.8" y2="126.77" stroke="#6a1d10" stroke-width="0.9"/>

<polygon points="268.5,245.3 268.5,243.7 269.0,243.7 269.5,243.7 270.0,243.7 270.5,243.7 271.0,243.7 271.5,243.7 272.0,243.7 272.5,243.7 273.0,243.7 273.5,243.7 274.0,243.7 274.5,243.6 275.0,243.6 275.5,243.6 276.0,243.6 276.5,243.6 277.0,243.6 277.5,243.6 278.0,243.6 278.5,243.6 279.0,243.6 279.5,243.6 280.0,243.5 280.5,243.5 281.0,243.5 281.5,243.5 282.0,243.5 282.5,243.5 283.0,243.4 283.5,243.4 284.0,243.4 284.5,243.4 285.0,243.4 285.5,243.4 286.0,243.3 286.5,243.3 287.0,243.3 287.5,243.3 288.0,243.2 288.5,243.2 289.0,243.2 289.5,243.2 290.0,243.1 290.5,243.1 291.0,243.1 291.5,243.0 292.0,243.0 292.5,243.0 293.0,242.9 293.5,242.9 294.0,242.9 294.5,242.8 295.0,242.8 295.5,242.7 296.0,242.7 296.5,242.6 297.0,242.6 297.5,242.5 298.0,242.5 298.5,242.4 299.0,242.4 299.5,242.3 300.0,242.3 300.5,242.2 301.0,242.2 301.5,242.1 302.0,242.0 302.5,242.0 303.0,241.9 303.5,241.8 304.0,241.7 304.5,241.7 305.0,241.6 305.5,241.5 306.0,241.4 306.5,241.3 307.0,241.2 307.5,241.2 308.0,241.1 308.5,241.0 309.0,240.9 309.5,240.8 310.0,240.7 310.5,240.6 311.0,240.4 311.5,240.3 312.0,240.2 312.5,240.1 313.0,240.0 313.5,239.8 314.0,239.7 314.5,239.6 315.0,239.4 315.5,239.3 316.0,239.2 316.5,239.0 317.0,238.9 317.5,238.7 318.0,238.5 318.5,238.4 319.0,238.2 319.5,238.0 320.0,237.9 320.5,237.7 321.0,237.5 321.5,237.3 322.0,237.1 322.5,236.9 323.0,236.7 323.5,236.5 324.0,236.3 324.5,236.1 325.0,235.9 325.5,235.6 326.0,235.4 326.5,235.2 327.0,234.9 327.5,234.7 328.0,234.4 328.5,234.2 329.0,233.9 329.5,233.6 330.0,233.4 330.5,233.1 331.0,232.8 331.5,232.5 332.0,232.2 332.5,231.9 333.0,231.6 333.5,231.3 334.0,231.0 334.5,230.7 335.0,230.3 335.5,230.0 336.0,229.6 336.5,229.3 337.0,228.9 337.5,228.6 338.0,228.2 338.5,227.8 339.0,227.5 339.5,227.1 340.0,226.7 340.5,226.3 341.0,225.9 341.5,225.5 342.0,225.0 342.5,224.6 343.0,224.2 343.5,223.7 344.0,223.3 344.5,222.8 345.0,222.4 345.5,221.9 346.0,221.4 346.5,221.0 347.0,220.5 347.5,220.0 348.0,219.5 348.5,219.0 349.0,218.5 349.5,217.9 350.0,217.4 350.5,216.9 351.0,216.3 351.5,215.8 352.0,215.2 352.5,214.7 353.0,214.1 353.5,213.5 354.0,213.0 354.5,212.4 355.0,211.8 355.5,211.2 356.0,210.6 356.5,210.0 357.0,209.4 357.5,208.7 358.0,208.1 358.5,207.5 359.0,206.8 359.5,206.2 360.0,205.5 360.5,204.9 361.0,204.2 361.5,203.6 362.0,202.9 362.5,202.2 363.0,201.5 363.5,200.9 364.0,200.2 364.5,199.5 365.0,198.8 365.5,198.1 366.0,197.4 366.5,196.6 367.0,195.9 367.5,195.2 368.0,194.5 368.5,193.8 369.0,193.0 369.5,192.3 370.0,191.6 370.5,190.8 371.0,190.1 371.5,189.4 372.0,188.6 372.5,187.9 373.0,187.1 373.5,186.4 374.0,185.6 374.5,184.9 375.0,184.1 375.5,183.4 376.0,182.6 376.5,181.9 377.0,181.1 377.5,180.4 378.0,179.6 378.5,178.9 379.0,178.1 379.5,177.4 380.0,176.6 380.5,175.9 381.0,175.1 381.5,174.4 382.0,173.7 382.5,172.9 383.0,172.2 383.5,171.5 384.0,170.7 384.5,170.0 385.0,169.3 385.5,168.6 386.0,167.8 386.5,167.1 387.0,166.4 387.5,165.7 388.0,165.0 388.5,164.4 389.0,163.7 389.5,163.0 390.0,162.3 390.5,161.7 391.0,161.0 391.5,160.4 392.0,159.7 392.5,159.1 393.0,158.5 393.5,157.8 394.0,157.2 394.5,156.6 395.0,156.0 395.5,155.4 396.0,154.9 396.5,154.3 397.0,153.8 397.5,153.2 398.0,152.7 398.5,152.1 399.0,151.6 399.5,151.1 400.0,150.6 400.5,150.1 401.0,149.7 401.5,149.2 402.0,148.8 402.5,148.3 403.0,147.9 403.5,147.5 404.0,147.1 404.5,146.7 405.0,146.3 405.5,146.0 406.0,145.6 406.5,145.3 407.0,144.9 407.5,144.6 408.0,144.3 408.5,144.1 409.0,143.8 409.5,143.5 410.0,143.3 410.5,143.1 411.0,142.9 411.5,142.7 412.0,142.5 412.5,142.3 413.0,142.2 413.5,142.0 414.0,141.9 414.5,141.8 415.0,141.7 415.5,141.6 416.0,141.5 416.5,141.5 417.0,141.5 417.5,141.4 418.0,141.4 418.5,141.4 419.0,141.5 419.5,141.5 420.0,141.6 420.5,141.6 421.0,141.7 421.5,141.8 422.0,141.9 422.5,142.1 423.0,142.2 423.5,142.4 424.0,142.5 424.5,142.7 425.0,142.9 425.5,143.1 426.0,143.4 426.5,143.6 427.0,143.9 427.5,144.1 428.0,144.4 428.5,144.7 429.0,145.0 429.5,145.4 430.0,145.7 430.5,146.1 431.0,146.4 431.5,146.8 432.0,147.2 432.5,147.6 433.0,148.0 433.5,148.4 434.0,148.9 434.5,149.3 435.0,149.8 435.5,150.3 436.0,150.8 436.5,151.3 437.0,151.8 437.5,152.3 438.0,152.8 438.5,153.4 439.0,153.9 439.5,154.5 440.0,155.0 440.5,155.6 441.0,156.2 441.5,156.8 442.0,157.4 442.5,158.0 443.0,158.6 443.5,159.3 444.0,159.9 444.5,160.6 445.0,161.2 445.5,161.9 446.0,162.5 446.5,163.2 447.0,163.9 447.5,164.6 448.0,165.3 448.5,166.0 449.0,166.7 449.5,167.4 450.0,168.1 450.5,168.8 451.0,169.5 451.5,170.2 452.0,171.0 452.5,171.7 453.0,172.4 453.5,173.2 454.0,173.9 454.5,174.7 455.0,175.4 455.5,176.2 456.0,176.9 456.5,177.7 457.0,178.4 457.5,179.2 458.0,179.9 458.5,180.7 459.0,181.4 459.5,182.2 460.0,183.0 460.5,183.7 461.0,184.5 461.5,185.2 462.0,186.0 462.5,186.7 463.0,187.5 463.5,188.3 464.0,189.0 464.5,189.8 465.0,190.5 465.5,191.2 466.0,192.0 466.5,192.7 467.0,193.5 467.5,194.2 468.0,194.9 468.5,195.7 469.0,196.4 469.5,197.1 470.0,197.8 470.5,198.5 471.0,199.3 471.5,200.0 472.0,200.7 472.5,201.4 473.0,202.0 473.5,202.7 474.0,203.4 474.5,204.1 475.0,204.8 475.5,205.4 476.0,206.1 476.5,206.8 477.0,207.4 477.5,208.1 478.0,208.7 478.5,209.3 479.0,210.0 479.5,210.6 480.0,211.2 480.5,211.8 481.0,212.4 481.5,213.0 482.0,213.6 482.5,214.2 483.0,214.8 483.5,215.4 484.0,215.9 484.5,216.5 485.0,217.1 485.5,217.6 486.0,218.2 486.5,218.7 487.0,219.2 487.5,219.7 488.0,220.3 488.5,220.8 489.0,221.3 489.5,221.8 490.0,222.3 490.5,222.7 491.0,223.2 491.5,223.7 492.0,224.2 492.5,224.6 493.0,225.1 493.5,225.5 494.0,225.9 494.5,226.4 495.0,226.8 495.5,227.2 496.0,227.6 496.5,228.0 497.0,228.4 497.5,228.8 498.0,229.2 498.5,229.6 499.0,229.9 499.5,230.3 500.0,230.7 500.5,231.0 501.0,231.4 501.5,231.7 502.0,232.1 502.5,232.4 503.0,232.7 503.5,233.0 504.0,233.3 504.5,233.6 505.0,233.9 505.5,234.2 506.0,234.5 506.5,234.8 507.0,235.1 507.5,235.4 508.0,235.6 508.5,235.9 509.0,236.1 509.5,236.4 510.0,236.6 510.5,236.9 511.0,237.1 511.5,237.3 512.0,237.6 512.5,237.8 513.0,238.0 513.5,238.2 514.0,238.4 514.5,238.6 515.0,238.8 515.5,239.0 516.0,239.2 516.5,239.4 517.0,239.6 517.5,239.8 518.0,239.9 518.5,240.1 519.0,240.3 519.5,240.4 520.0,240.6 520.5,240.7 521.0,240.9 521.5,241.0 522.0,241.2 522.5,241.3 523.0,241.5 523.5,241.6 524.0,241.7 524.5,241.8 525.0,242.0 525.5,242.1 526.0,242.2 526.5,242.3 527.0,242.4 527.5,242.5 528.0,242.6 528.5,242.7 529.0,242.8 529.5,242.9 530.0,243.0 530.5,243.1 531.0,243.2 531.5,243.3 532.0,243.4 532.5,243.5 533.0,243.6 533.5,243.6 534.0,243.7 534.5,243.8 535.0,243.9 535.5,243.9 536.0,244.0 536.5,244.1 537.0,244.1 537.5,244.2 538.0,244.3 538.3,247.3" fill="#5B76FD"/>
<polyline points="268.5,243.7 269.0,243.7 269.5,243.7 270.0,243.7 270.5,243.7 271.0,243.7 271.5,243.7 272.0,243.7 272.5,243.7 273.0,243.7 273.5,243.7 274.0,243.7 274.5,243.6 275.0,243.6 275.5,243.6 276.0,243.6 276.5,243.6 277.0,243.6 277.5,243.6 278.0,243.6 278.5,243.6 279.0,243.6 279.5,243.6 280.0,243.5 280.5,243.5 281.0,243.5 281.5,243.5 282.0,243.5 282.5,243.5 283.0,243.4 283.5,243.4 284.0,243.4 284.5,243.4 285.0,243.4 285.5,243.4 286.0,243.3 286.5,243.3 287.0,243.3 287.5,243.3 288.0,243.2 288.5,243.2 289.0,243.2 289.5,243.2 290.0,243.1 290.5,243.1 291.0,243.1 291.5,243.0 292.0,243.0 292.5,243.0 293.0,242.9 293.5,242.9 294.0,242.9 294.5,242.8 295.0,242.8 295.5,242.7 296.0,242.7 296.5,242.6 297.0,242.6 297.5,242.5 298.0,242.5 298.5,242.4 299.0,242.4 299.5,242.3 300.0,242.3 300.5,242.2 301.0,242.2 301.5,242.1 302.0,242.0 302.5,242.0 303.0,241.9 303.5,241.8 304.0,241.7 304.5,241.7 305.0,241.6 305.5,241.5 306.0,241.4 306.5,241.3 307.0,241.2 307.5,241.2 308.0,241.1 308.5,241.0 309.0,240.9 309.5,240.8 310.0,240.7 310.5,240.6 311.0,240.4 311.5,240.3 312.0,240.2 312.5,240.1 313.0,240.0 313.5,239.8 314.0,239.7 314.5,239.6 315.0,239.4 315.5,239.3 316.0,239.2 316.5,239.0 317.0,238.9 317.5,238.7 318.0,238.5 318.5,238.4 319.0,238.2 319.5,238.0 320.0,237.9 320.5,237.7 321.0,237.5 321.5,237.3 322.0,237.1 322.5,236.9 323.0,236.7 323.5,236.5 324.0,236.3 324.5,236.1 325.0,235.9 325.5,235.6 326.0,235.4 326.5,235.2 327.0,234.9 327.5,234.7 328.0,234.4 328.5,234.2 329.0,233.9 329.5,233.6 330.0,233.4 330.5,233.1 331.0,232.8 331.5,232.5 332.0,232.2 332.5,231.9 333.0,231.6 333.5,231.3 334.0,231.0 334.5,230.7 335.0,230.3 335.5,230.0 336.0,229.6 336.5,229.3 337.0,228.9 337.5,228.6 338.0,228.2 338.5,227.8 339.0,227.5 339.5,227.1 340.0,226.7 340.5,226.3 341.0,225.9 341.5,225.5 342.0,225.0 342.5,224.6 343.0,224.2 343.5,223.7 344.0,223.3 344.5,222.8 345.0,222.4 345.5,221.9 346.0,221.4 346.5,221.0 347.0,220.5 347.5,220.0 348.0,219.5 348.5,219.0 349.0,218.5 349.5,217.9 350.0,217.4 350.5,216.9 351.0,216.3 351.5,215.8 352.0,215.2 352.5,214.7 353.0,214.1 353.5,213.5 354.0,213.0 354.5,212.4 355.0,211.8 355.5,211.2 356.0,210.6 356.5,210.0 357.0,209.4 357.5,208.7 358.0,208.1 358.5,207.5 359.0,206.8 359.5,206.2 360.0,205.5 360.5,204.9 361.0,204.2 361.5,203.6 362.0,202.9 362.5,202.2 363.0,201.5 363.5,200.9 364.0,200.2 364.5,199.5 365.0,198.8 365.5,198.1 366.0,197.4 366.5,196.6 367.0,195.9 367.5,195.2 368.0,194.5 368.5,193.8 369.0,193.0 369.5,192.3 370.0,191.6 370.5,190.8 371.0,190.1 371.5,189.4 372.0,188.6 372.5,187.9 373.0,187.1 373.5,186.4 374.0,185.6 374.5,184.9 375.0,184.1 375.5,183.4 376.0,182.6 376.5,181.9 377.0,181.1 377.5,180.4 378.0,179.6 378.5,178.9 379.0,178.1 379.5,177.4 380.0,176.6 380.5,175.9 381.0,175.1 381.5,174.4 382.0,173.7 382.5,172.9 383.0,172.2 383.5,171.5 384.0,170.7 384.5,170.0 385.0,169.3 385.5,168.6 386.0,167.8 386.5,167.1 387.0,166.4 387.5,165.7 388.0,165.0 388.5,164.4 389.0,163.7 389.5,163.0 390.0,162.3 390.5,161.7 391.0,161.0 391.5,160.4 392.0,159.7 392.5,159.1 393.0,158.5 393.5,157.8 394.0,157.2 394.5,156.6 395.0,156.0 395.5,155.4 396.0,154.9 396.5,154.3 397.0,153.8 397.5,153.2 398.0,152.7 398.5,152.1 399.0,151.6 399.5,151.1 400.0,150.6 400.5,150.1 401.0,149.7 401.5,149.2 402.0,148.8 402.5,148.3 403.0,147.9 403.5,147.5 404.0,147.1 404.5,146.7 405.0,146.3 405.5,146.0 406.0,145.6 406.5,145.3 407.0,144.9 407.5,144.6 408.0,144.3 408.5,144.1 409.0,143.8 409.5,143.5 410.0,143.3 410.5,143.1 411.0,142.9 411.5,142.7 412.0,142.5 412.5,142.3 413.0,142.2 413.5,142.0 414.0,141.9 414.5,141.8 415.0,141.7 415.5,141.6 416.0,141.5 416.5,141.5 417.0,141.5 417.5,141.4 418.0,141.4 418.5,141.4 419.0,141.5 419.5,141.5 420.0,141.6 420.5,141.6 421.0,141.7 421.5,141.8 422.0,141.9 422.5,142.1 423.0,142.2 423.5,142.4 424.0,142.5 424.5,142.7 425.0,142.9 425.5,143.1 426.0,143.4 426.5,143.6 427.0,143.9 427.5,144.1 428.0,144.4 428.5,144.7 429.0,145.0 429.5,145.4 430.0,145.7 430.5,146.1 431.0,146.4 431.5,146.8 432.0,147.2 432.5,147.6 433.0,148.0 433.5,148.4 434.0,148.9 434.5,149.3 435.0,149.8 435.5,150.3 436.0,150.8 436.5,151.3 437.0,151.8 437.5,152.3 438.0,152.8 438.5,153.4 439.0,153.9 439.5,154.5 440.0,155.0 440.5,155.6 441.0,156.2 441.5,156.8 442.0,157.4 442.5,158.0 443.0,158.6 443.5,159.3 444.0,159.9 444.5,160.6 445.0,161.2 445.5,161.9 446.0,162.5 446.5,163.2 447.0,163.9 447.5,164.6 448.0,165.3 448.5,166.0 449.0,166.7 449.5,167.4 450.0,168.1 450.5,168.8 451.0,169.5 451.5,170.2 452.0,171.0 452.5,171.7 453.0,172.4 453.5,173.2 454.0,173.9 454.5,174.7 455.0,175.4 455.5,176.2 456.0,176.9 456.5,177.7 457.0,178.4 457.5,179.2 458.0,179.9 458.5,180.7 459.0,181.4 459.5,182.2 460.0,183.0 460.5,183.7 461.0,184.5 461.5,185.2 462.0,186.0 462.5,186.7 463.0,187.5 463.5,188.3 464.0,189.0 464.5,189.8 465.0,190.5 465.5,191.2 466.0,192.0 466.5,192.7 467.0,193.5 467.5,194.2 468.0,194.9 468.5,195.7 469.0,196.4 469.5,197.1 470.0,197.8 470.5,198.5 471.0,199.3 471.5,200.0 472.0,200.7 472.5,201.4 473.0,202.0 473.5,202.7 474.0,203.4 474.5,204.1 475.0,204.8 475.5,205.4 476.0,206.1 476.5,206.8 477.0,207.4 477.5,208.1 478.0,208.7 478.5,209.3 479.0,210.0 479.5,210.6 480.0,211.2 480.5,211.8 481.0,212.4 481.5,213.0 482.0,213.6 482.5,214.2 483.0,214.8 483.5,215.4 484.0,215.9 484.5,216.5 485.0,217.1 485.5,217.6 486.0,218.2 486.5,218.7 487.0,219.2 487.5,219.7 488.0,220.3 488.5,220.8 489.0,221.3 489.5,221.8 490.0,222.3 490.5,222.7 491.0,223.2 491.5,223.7 492.0,224.2 492.5,224.6 493.0,225.1 493.5,225.5 494.0,225.9 494.5,226.4 495.0,226.8 495.5,227.2 496.0,227.6 496.5,228.0 497.0,228.4 497.5,228.8 498.0,229.2 498.5,229.6 499.0,229.9 499.5,230.3 500.0,230.7 500.5,231.0 501.0,231.4 501.5,231.7 502.0,232.1 502.5,232.4 503.0,232.7 503.5,233.0 504.0,233.3 504.5,233.6 505.0,233.9 505.5,234.2 506.0,234.5 506.5,234.8 507.0,235.1 507.5,235.4 508.0,235.6 508.5,235.9 509.0,236.1 509.5,236.4 510.0,236.6 510.5,236.9 511.0,237.1 511.5,237.3 512.0,237.6 512.5,237.8 513.0,238.0 513.5,238.2 514.0,238.4 514.5,238.6 515.0,238.8 515.5,239.0 516.0,239.2 516.5,239.4 517.0,239.6 517.5,239.8 518.0,239.9 518.5,240.1 519.0,240.3 519.5,240.4 520.0,240.6 520.5,240.7 521.0,240.9 521.5,241.0 522.0,241.2 522.5,241.3 523.0,241.5 523.5,241.6 524.0,241.7 524.5,241.8 525.0,242.0 525.5,242.1 526.0,242.2 526.5,242.3 527.0,242.4 527.5,242.5 528.0,242.6 528.5,242.7 529.0,242.8 529.5,242.9 530.0,243.0 530.5,243.1 531.0,243.2 531.5,243.3 532.0,243.4 532.5,243.5 533.0,243.6 533.5,243.6 534.0,243.7 534.5,243.8 535.0,243.9 535.5,243.9 536.0,244.0 536.5,244.1 537.0,244.1 537.5,244.2 538.0,244.3" fill="none" stroke="#3355FF" stroke-width="1.4"/>
<polygon points="268.5,245.3 268.5,242.8 269.0,242.8 269.5,242.7 270.0,242.7 270.5,242.7 271.0,242.6 271.5,242.6 272.0,242.6 272.5,242.5 273.0,242.5 273.5,242.5 274.0,242.4 274.5,242.4 275.0,242.4 275.5,242.3 276.0,242.3 276.5,242.2 277.0,242.2 277.5,242.1 278.0,242.1 278.5,242.1 279.0,242.0 279.5,242.0 280.0,241.9 280.5,241.9 281.0,241.8 281.5,241.8 282.0,241.7 282.5,241.7 283.0,241.6 283.5,241.5 284.0,241.5 284.5,241.4 285.0,241.4 285.5,241.3 286.0,241.3 286.5,241.2 287.0,241.1 287.5,241.1 288.0,241.0 288.5,240.9 289.0,240.9 289.5,240.8 290.0,240.7 290.5,240.7 291.0,240.6 291.5,240.5 292.0,240.4 292.5,240.4 293.0,240.3 293.5,240.2 294.0,240.1 294.5,240.1 295.0,240.0 295.5,239.9 296.0,239.8 296.5,239.7 297.0,239.7 297.5,239.6 298.0,239.5 298.5,239.4 299.0,239.3 299.5,239.2 300.0,239.1 300.5,239.0 301.0,238.9 301.5,238.8 302.0,238.8 302.5,238.7 303.0,238.6 303.5,238.5 304.0,238.4 304.5,238.3 305.0,238.2 305.5,238.1 306.0,238.0 306.5,237.9 307.0,237.8 307.5,237.7 308.0,237.6 308.5,237.5 309.0,237.4 309.5,237.2 310.0,237.1 310.5,237.0 311.0,236.9 311.5,236.8 312.0,236.7 312.5,236.6 313.0,236.5 313.5,236.4 314.0,236.3 314.5,236.2 315.0,236.1 315.5,235.9 316.0,235.8 316.5,235.7 317.0,235.6 317.5,235.5 318.0,235.4 318.5,235.3 319.0,235.2 319.5,235.1 320.0,234.9 320.5,234.8 321.0,234.7 321.5,234.6 322.0,234.5 322.5,234.4 323.0,234.3 323.5,234.2 324.0,234.1 324.5,234.0 325.0,233.9 325.5,233.8 326.0,233.6 326.5,233.5 327.0,233.4 327.5,233.3 328.0,233.2 328.5,233.1 329.0,233.0 329.5,232.9 330.0,232.8 330.5,232.7 331.0,232.6 331.5,232.5 332.0,232.4 332.5,232.3 333.0,232.2 333.5,232.2 334.0,232.1 334.5,232.0 335.0,231.9 335.5,231.8 336.0,231.7 336.5,231.6 337.0,231.5 337.5,231.5 338.0,231.4 338.5,231.3 339.0,231.2 339.5,231.2 340.0,231.1 340.5,231.0 341.0,231.0 341.5,230.9 342.0,230.8 342.5,230.8 343.0,230.7 343.5,230.6 344.0,230.6 344.5,230.5 345.0,230.5 345.5,230.4 346.0,230.4 346.5,230.3 347.0,230.3 347.5,230.3 348.0,230.2 348.5,230.2 349.0,230.1 349.5,230.1 350.0,230.1 350.5,230.1 351.0,230.0 351.5,230.0 352.0,230.0 352.5,230.0 353.0,229.9 353.5,229.9 354.0,229.9 354.5,229.9 355.0,229.9 355.5,229.9 356.0,229.9 356.5,229.9 357.0,229.9 357.5,229.9 358.0,229.9 358.5,229.9 359.0,229.9 359.5,230.0 360.0,230.0 360.5,230.0 361.0,230.0 361.5,230.0 362.0,230.1 362.5,230.1 363.0,230.1 363.5,230.1 364.0,230.2 364.5,230.2 365.0,230.2 365.5,230.3 366.0,230.3 366.5,230.4 367.0,230.4 367.5,230.5 368.0,230.5 368.5,230.6 369.0,230.6 369.5,230.7 370.0,230.7 370.5,230.8 371.0,230.8 371.5,230.9 372.0,231.0 372.5,231.0 373.0,231.1 373.5,231.2 374.0,231.2 374.5,231.3 375.0,231.4 375.5,231.4 376.0,231.5 376.5,231.6 377.0,231.7 377.5,231.7 378.0,231.8 378.5,231.9 379.0,232.0 379.5,232.1 380.0,232.2 380.5,232.3 381.0,232.3 381.5,232.4 382.0,232.5 382.5,232.6 383.0,232.7 383.5,232.8 384.0,232.9 384.5,233.0 385.0,233.1 385.5,233.2 386.0,233.3 386.5,233.4 387.0,233.5 387.5,233.6 388.0,233.7 388.5,233.8 389.0,233.9 389.5,234.0 390.0,234.1 390.5,234.2 391.0,234.3 391.5,234.4 392.0,234.5 392.5,234.6 393.0,234.7 393.5,234.9 394.0,235.0 394.5,235.1 395.0,235.2 395.5,235.3 396.0,235.4 396.5,235.5 397.0,235.6 397.5,235.7 398.0,235.8 398.5,235.9 399.0,236.1 399.5,236.2 400.0,236.3 400.5,236.4 401.0,236.5 401.5,236.6 402.0,236.7 402.5,236.8 403.0,236.9 403.5,237.0 404.0,237.1 404.5,237.3 405.0,237.4 405.5,237.5 406.0,237.6 406.5,237.7 407.0,237.8 407.5,237.9 408.0,238.0 408.5,238.1 409.0,238.2 409.5,238.3 410.0,238.4 410.5,238.5 411.0,238.6 411.5,238.7 412.0,238.8 412.5,238.9 413.0,239.0 413.5,239.1 414.0,239.2 414.5,239.3 415.0,239.4 415.5,239.5 416.0,239.6 416.5,239.7 417.0,239.8 417.5,239.9 418.0,240.0 418.5,240.1 419.0,240.1 419.5,240.2 420.0,240.3 420.5,240.4 421.0,240.5 421.5,240.6 422.0,240.7 422.5,240.8 423.0,240.8 423.5,240.9 424.0,241.0 424.5,241.1 425.0,241.2 425.5,241.2 426.0,241.3 426.5,241.4 427.0,241.5 427.5,241.5 428.0,241.6 428.5,241.7 429.0,241.8 429.5,241.8 430.0,241.9 430.5,242.0 431.0,242.0 431.5,242.1 432.0,242.2 432.5,242.2 433.0,242.3 433.5,242.4 434.0,242.4 434.5,242.5 435.0,242.6 435.5,242.6 436.0,242.7 436.5,242.7 437.0,242.8 437.5,242.9 438.0,242.9 438.5,243.0 439.0,243.0 439.5,243.1 440.0,243.1 440.5,243.2 441.0,243.2 441.5,243.3 442.0,243.3 442.5,243.4 443.0,243.4 443.5,243.5 444.0,243.5 444.5,243.6 445.0,243.6 445.5,243.6 446.0,243.7 446.5,243.7 447.0,243.8 447.5,243.8 448.0,243.9 448.5,243.9 449.0,243.9 449.5,244.0 450.0,244.0 450.5,244.0 451.0,244.1 451.5,244.1 452.0,244.1 452.5,244.2 453.0,244.2 453.5,244.2 454.0,244.3 454.5,244.3 455.0,244.3 455.5,244.4 456.0,244.4 456.5,244.4 457.0,244.4 457.5,244.5 458.0,244.5 458.5,244.5 459.0,244.6 459.5,244.6 460.0,244.6 460.5,244.6 461.0,244.6 461.5,244.7 462.0,244.7 462.5,244.7 463.0,244.7 463.5,244.8 464.0,244.8 464.5,244.8 465.0,244.8 465.5,244.8 466.0,244.9 466.5,244.9 467.0,244.9 467.5,244.9 468.0,244.9 468.5,245.0 469.0,245.0 469.5,245.0 470.0,245.0 470.5,245.0 471.0,245.0 471.5,245.0 472.0,245.1 472.5,245.1 473.0,245.1 473.5,245.1 474.0,245.1 474.5,245.1 475.0,245.1 475.5,245.2 476.0,245.2 476.5,245.2 477.0,245.2 477.5,245.2 478.0,245.2 478.5,245.2 479.0,245.2 479.5,245.2 480.0,245.3 480.5,245.3 481.0,245.3 481.5,245.3 482.0,245.3 482.5,245.3 483.0,245.3 483.5,245.3 484.0,245.3 484.5,245.3 485.0,245.4 485.5,245.4 486.0,245.4 486.5,245.4 487.0,245.4 487.5,245.4 488.0,245.4 488.5,245.4 489.0,245.4 489.5,245.4 490.0,245.4 490.5,245.4 491.0,245.4 491.5,245.5 492.0,245.5 492.5,245.5 493.0,245.5 493.5,245.5 494.0,245.5 494.5,245.5 495.0,245.5 495.5,245.5 496.0,245.5 496.5,245.5 497.0,245.5 497.5,245.5 498.0,245.5 498.5,245.5 499.0,245.5 499.5,245.6 500.0,245.6 500.5,245.6 501.0,245.6 501.5,245.6 502.0,245.6 502.5,245.6 503.0,245.6 503.5,245.6 504.0,245.6 504.5,245.6 505.0,245.6 505.5,245.6 506.0,245.6 506.5,245.6 507.0,245.6 507.5,245.6 508.0,245.6 508.5,245.6 509.0,245.6 509.5,245.7 510.0,245.7 510.5,245.7 511.0,245.7 511.5,245.7 512.0,245.7 512.5,245.7 513.0,245.7 513.5,245.7 514.0,245.7 514.5,245.7 515.0,245.7 515.5,245.7 516.0,245.7 516.5,245.7 517.0,245.7 517.5,245.7 518.0,245.7 518.5,245.7 519.0,245.7 519.5,245.7 520.0,245.7 520.5,245.7 521.0,245.8 521.5,245.8 522.0,245.8 522.5,245.8 523.0,245.8 523.5,245.8 524.0,245.8 524.5,245.8 525.0,245.8 525.5,245.8 526.0,245.8 526.5,245.8 527.0,245.8 527.5,245.8 528.0,245.8 528.5,245.8 529.0,245.8 529.5,245.8 530.0,245.8 530.5,245.8 531.0,245.8 531.5,245.8 532.0,245.8 532.5,245.8 533.0,245.8 533.5,245.9 534.0,245.9 534.5,245.9 535.0,245.9 535.5,245.9 536.0,245.9 536.5,245.9 537.0,245.9 537.5,245.9 538.0,245.9 538.3,247.3" fill="#FDA846"/>
<polygon points="268.5,245.3 268.5,243.7 269.0,243.7 269.5,243.7 270.0,243.7 270.5,243.7 271.0,243.7 271.5,243.7 272.0,243.7 272.5,243.7 273.0,243.7 273.5,243.7 274.0,243.7 274.5,243.6 275.0,243.6 275.5,243.6 276.0,243.6 276.5,243.6 277.0,243.6 277.5,243.6 278.0,243.6 278.5,243.6 279.0,243.6 279.5,243.6 280.0,243.5 280.5,243.5 281.0,243.5 281.5,243.5 282.0,243.5 282.5,243.5 283.0,243.4 283.5,243.4 284.0,243.4 284.5,243.4 285.0,243.4 285.5,243.4 286.0,243.3 286.5,243.3 287.0,243.3 287.5,243.3 288.0,243.2 288.5,243.2 289.0,243.2 289.5,243.2 290.0,243.1 290.5,243.1 291.0,243.1 291.5,243.0 292.0,243.0 292.5,243.0 293.0,242.9 293.5,242.9 294.0,242.9 294.5,242.8 295.0,242.8 295.5,242.7 296.0,242.7 296.5,242.6 297.0,242.6 297.5,242.5 298.0,242.5 298.5,242.4 299.0,242.4 299.5,242.3 300.0,242.3 300.5,242.2 301.0,242.2 301.5,242.1 302.0,242.0 302.5,242.0 303.0,241.9 303.5,241.8 304.0,241.7 304.5,241.7 305.0,241.6 305.5,241.5 306.0,241.4 306.5,241.3 307.0,241.2 307.5,241.2 308.0,241.1 308.5,241.0 309.0,240.9 309.5,240.8 310.0,240.7 310.5,240.6 311.0,240.4 311.5,240.3 312.0,240.2 312.5,240.1 313.0,240.0 313.5,239.8 314.0,239.7 314.5,239.6 315.0,239.4 315.5,239.3 316.0,239.2 316.5,239.0 317.0,238.9 317.5,238.7 318.0,238.5 318.5,238.4 319.0,238.2 319.5,238.0 320.0,237.9 320.5,237.7 321.0,237.5 321.5,237.3 322.0,237.1 322.5,236.9 323.0,236.7 323.5,236.5 324.0,236.3 324.5,236.1 325.0,235.9 325.5,235.6 326.0,235.4 326.5,235.2 327.0,234.9 327.5,234.7 328.0,234.4 328.5,234.2 329.0,233.9 329.5,233.6 330.0,233.4 330.5,233.1 331.0,232.8 331.5,232.5 332.0,232.4 332.5,232.3 333.0,232.2 333.5,232.2 334.0,232.1 334.5,232.0 335.0,231.9 335.5,231.8 336.0,231.7 336.5,231.6 337.0,231.5 337.5,231.5 338.0,231.4 338.5,231.3 339.0,231.2 339.5,231.2 340.0,231.1 340.5,231.0 341.0,231.0 341.5,230.9 342.0,230.8 342.5,230.8 343.0,230.7 343.5,230.6 344.0,230.6 344.5,230.5 345.0,230.5 345.5,230.4 346.0,230.4 346.5,230.3 347.0,230.3 347.5,230.3 348.0,230.2 348.5,230.2 349.0,230.1 349.5,230.1 350.0,230.1 350.5,230.1 351.0,230.0 351.5,230.0 352.0,230.0 352.5,230.0 353.0,229.9 353.5,229.9 354.0,229.9 354.5,229.9 355.0,229.9 355.5,229.9 356.0,229.9 356.5,229.9 357.0,229.9 357.5,229.9 358.0,229.9 358.5,229.9 359.0,229.9 359.5,230.0 360.0,230.0 360.5,230.0 361.0,230.0 361.5,230.0 362.0,230.1 362.5,230.1 363.0,230.1 363.5,230.1 364.0,230.2 364.5,230.2 365.0,230.2 365.5,230.3 366.0,230.3 366.5,230.4 367.0,230.4 367.5,230.5 368.0,230.5 368.5,230.6 369.0,230.6 369.5,230.7 370.0,230.7 370.5,230.8 371.0,230.8 371.5,230.9 372.0,231.0 372.5,231.0 373.0,231.1 373.5,231.2 374.0,231.2 374.5,231.3 375.0,231.4 375.5,231.4 376.0,231.5 376.5,231.6 377.0,231.7 377.5,231.7 378.0,231.8 378.5,231.9 379.0,232.0 379.5,232.1 380.0,232.2 380.5,232.3 381.0,232.3 381.5,232.4 382.0,232.5 382.5,232.6 383.0,232.7 383.5,232.8 384.0,232.9 384.5,233.0 385.0,233.1 385.5,233.2 386.0,233.3 386.5,233.4 387.0,233.5 387.5,233.6 388.0,233.7 388.5,233.8 389.0,233.9 389.5,234.0 390.0,234.1 390.5,234.2 391.0,234.3 391.5,234.4 392.0,234.5 392.5,234.6 393.0,234.7 393.5,234.9 394.0,235.0 394.5,235.1 395.0,235.2 395.5,235.3 396.0,235.4 396.5,235.5 397.0,235.6 397.5,235.7 398.0,235.8 398.5,235.9 399.0,236.1 399.5,236.2 400.0,236.3 400.5,236.4 401.0,236.5 401.5,236.6 402.0,236.7 402.5,236.8 403.0,236.9 403.5,237.0 404.0,237.1 404.5,237.3 405.0,237.4 405.5,237.5 406.0,237.6 406.5,237.7 407.0,237.8 407.5,237.9 408.0,238.0 408.5,238.1 409.0,238.2 409.5,238.3 410.0,238.4 410.5,238.5 411.0,238.6 411.5,238.7 412.0,238.8 412.5,238.9 413.0,239.0 413.5,239.1 414.0,239.2 414.5,239.3 415.0,239.4 415.5,239.5 416.0,239.6 416.5,239.7 417.0,239.8 417.5,239.9 418.0,240.0 418.5,240.1 419.0,240.1 419.5,240.2 420.0,240.3 420.5,240.4 421.0,240.5 421.5,240.6 422.0,240.7 422.5,240.8 423.0,240.8 423.5,240.9 424.0,241.0 424.5,241.1 425.0,241.2 425.5,241.2 426.0,241.3 426.5,241.4 427.0,241.5 427.5,241.5 428.0,241.6 428.5,241.7 429.0,241.8 429.5,241.8 430.0,241.9 430.5,242.0 431.0,242.0 431.5,242.1 432.0,242.2 432.5,242.2 433.0,242.3 433.5,242.4 434.0,242.4 434.5,242.5 435.0,242.6 435.5,242.6 436.0,242.7 436.5,242.7 437.0,242.8 437.5,242.9 438.0,242.9 438.5,243.0 439.0,243.0 439.5,243.1 440.0,243.1 440.5,243.2 441.0,243.2 441.5,243.3 442.0,243.3 442.5,243.4 443.0,243.4 443.5,243.5 444.0,243.5 444.5,243.6 445.0,243.6 445.5,243.6 446.0,243.7 446.5,243.7 447.0,243.8 447.5,243.8 448.0,243.9 448.5,243.9 449.0,243.9 449.5,244.0 450.0,244.0 450.5,244.0 451.0,244.1 451.5,244.1 452.0,244.1 452.5,244.2 453.0,244.2 453.5,244.2 454.0,244.3 454.5,244.3 455.0,244.3 455.5,244.4 456.0,244.4 456.5,244.4 457.0,244.4 457.5,244.5 458.0,244.5 458.5,244.5 459.0,244.6 459.5,244.6 460.0,244.6 460.5,244.6 461.0,244.6 461.5,244.7 462.0,244.7 462.5,244.7 463.0,244.7 463.5,244.8 464.0,244.8 464.5,244.8 465.0,244.8 465.5,244.8 466.0,244.9 466.5,244.9 467.0,244.9 467.5,244.9 468.0,244.9 468.5,245.0 469.0,245.0 469.5,245.0 470.0,245.0 470.5,245.0 471.0,245.0 471.5,245.0 472.0,245.1 472.5,245.1 473.0,245.1 473.5,245.1 474.0,245.1 474.5,245.1 475.0,245.1 475.5,245.2 476.0,245.2 476.5,245.2 477.0,245.2 477.5,245.2 478.0,245.2 478.5,245.2 479.0,245.2 479.5,245.2 480.0,245.3 480.5,245.3 481.0,245.3 481.5,245.3 482.0,245.3 482.5,245.3 483.0,245.3 483.5,245.3 484.0,245.3 484.5,245.3 485.0,245.4 485.5,245.4 486.0,245.4 486.5,245.4 487.0,245.4 487.5,245.4 488.0,245.4 488.5,245.4 489.0,245.4 489.5,245.4 490.0,245.4 490.5,245.4 491.0,245.4 491.5,245.5 492.0,245.5 492.5,245.5 493.0,245.5 493.5,245.5 494.0,245.5 494.5,245.5 495.0,245.5 495.5,245.5 496.0,245.5 496.5,245.5 497.0,245.5 497.5,245.5 498.0,245.5 498.5,245.5 499.0,245.5 499.5,245.6 500.0,245.6 500.5,245.6 501.0,245.6 501.5,245.6 502.0,245.6 502.5,245.6 503.0,245.6 503.5,245.6 504.0,245.6 504.5,245.6 505.0,245.6 505.5,245.6 506.0,245.6 506.5,245.6 507.0,245.6 507.5,245.6 508.0,245.6 508.5,245.6 509.0,245.6 509.5,245.7 510.0,245.7 510.5,245.7 511.0,245.7 511.5,245.7 512.0,245.7 512.5,245.7 513.0,245.7 513.5,245.7 514.0,245.7 514.5,245.7 515.0,245.7 515.5,245.7 516.0,245.7 516.5,245.7 517.0,245.7 517.5,245.7 518.0,245.7 518.5,245.7 519.0,245.7 519.5,245.7 520.0,245.7 520.5,245.7 521.0,245.8 521.5,245.8 522.0,245.8 522.5,245.8 523.0,245.8 523.5,245.8 524.0,245.8 524.5,245.8 525.0,245.8 525.5,245.8 526.0,245.8 526.5,245.8 527.0,245.8 527.5,245.8 528.0,245.8 528.5,245.8 529.0,245.8 529.5,245.8 530.0,245.8 530.5,245.8 531.0,245.8 531.5,245.8 532.0,245.8 532.5,245.8 533.0,245.8 533.5,245.9 534.0,245.9 534.5,245.9 535.0,245.9 535.5,245.9 536.0,245.9 536.5,245.9 537.0,245.9 537.5,245.9 538.0,245.9 538.3,247.3" fill="#E37E49"/>
<polyline points="268.5,242.8 269.0,242.8 269.5,242.7 270.0,242.7 270.5,242.7 271.0,242.6 271.5,242.6 272.0,242.6 272.5,242.5 273.0,242.5 273.5,242.5 274.0,242.4 274.5,242.4 275.0,242.4 275.5,242.3 276.0,242.3 276.5,242.2 277.0,242.2 277.5,242.1 278.0,242.1 278.5,242.1 279.0,242.0 279.5,242.0 280.0,241.9 280.5,241.9 281.0,241.8 281.5,241.8 282.0,241.7 282.5,241.7 283.0,241.6 283.5,241.5 284.0,241.5 284.5,241.4 285.0,241.4 285.5,241.3 286.0,241.3 286.5,241.2 287.0,241.1 287.5,241.1 288.0,241.0 288.5,240.9 289.0,240.9 289.5,240.8 290.0,240.7 290.5,240.7 291.0,240.6 291.5,240.5 292.0,240.4 292.5,240.4 293.0,240.3 293.5,240.2 294.0,240.1 294.5,240.1 295.0,240.0 295.5,239.9 296.0,239.8 296.5,239.7 297.0,239.7 297.5,239.6 298.0,239.5 298.5,239.4 299.0,239.3 299.5,239.2 300.0,239.1 300.5,239.0 301.0,238.9 301.5,238.8 302.0,238.8 302.5,238.7 303.0,238.6 303.5,238.5 304.0,238.4 304.5,238.3 305.0,238.2 305.5,238.1 306.0,238.0 306.5,237.9 307.0,237.8 307.5,237.7 308.0,237.6 308.5,237.5 309.0,237.4 309.5,237.2 310.0,237.1 310.5,237.0 311.0,236.9 311.5,236.8 312.0,236.7 312.5,236.6 313.0,236.5 313.5,236.4 314.0,236.3 314.5,236.2 315.0,236.1 315.5,235.9 316.0,235.8 316.5,235.7 317.0,235.6 317.5,235.5 318.0,235.4 318.5,235.3 319.0,235.2 319.5,235.1 320.0,234.9 320.5,234.8 321.0,234.7 321.5,234.6 322.0,234.5 322.5,234.4 323.0,234.3 323.5,234.2 324.0,234.1 324.5,234.0 325.0,233.9 325.5,233.8 326.0,233.6 326.5,233.5 327.0,233.4 327.5,233.3 328.0,233.2 328.5,233.1 329.0,233.0 329.5,232.9 330.0,232.8 330.5,232.7 331.0,232.6 331.5,232.5 332.0,232.4 332.5,232.3 333.0,232.2 333.5,232.2 334.0,232.1 334.5,232.0 335.0,231.9 335.5,231.8 336.0,231.7 336.5,231.6 337.0,231.5 337.5,231.5 338.0,231.4 338.5,231.3 339.0,231.2 339.5,231.2 340.0,231.1 340.5,231.0 341.0,231.0 341.5,230.9 342.0,230.8 342.5,230.8 343.0,230.7 343.5,230.6 344.0,230.6 344.5,230.5 345.0,230.5 345.5,230.4 346.0,230.4 346.5,230.3 347.0,230.3 347.5,230.3 348.0,230.2 348.5,230.2 349.0,230.1 349.5,230.1 350.0,230.1 350.5,230.1 351.0,230.0 351.5,230.0 352.0,230.0 352.5,230.0 353.0,229.9 353.5,229.9 354.0,229.9 354.5,229.9 355.0,229.9 355.5,229.9 356.0,229.9 356.5,229.9 357.0,229.9 357.5,229.9 358.0,229.9 358.5,229.9 359.0,229.9 359.5,230.0 360.0,230.0 360.5,230.0 361.0,230.0 361.5,230.0 362.0,230.1 362.5,230.1 363.0,230.1 363.5,230.1 364.0,230.2 364.5,230.2 365.0,230.2 365.5,230.3 366.0,230.3 366.5,230.4 367.0,230.4 367.5,230.5 368.0,230.5 368.5,230.6 369.0,230.6 369.5,230.7 370.0,230.7 370.5,230.8 371.0,230.8 371.5,230.9 372.0,231.0 372.5,231.0 373.0,231.1 373.5,231.2 374.0,231.2 374.5,231.3 375.0,231.4 375.5,231.4 376.0,231.5 376.5,231.6 377.0,231.7 377.5,231.7 378.0,231.8 378.5,231.9 379.0,232.0 379.5,232.1 380.0,232.2 380.5,232.3 381.0,232.3 381.5,232.4 382.0,232.5 382.5,232.6 383.0,232.7 383.5,232.8 384.0,232.9 384.5,233.0 385.0,233.1 385.5,233.2 386.0,233.3 386.5,233.4 387.0,233.5 387.5,233.6 388.0,233.7 388.5,233.8 389.0,233.9 389.5,234.0 390.0,234.1 390.5,234.2 391.0,234.3 391.5,234.4 392.0,234.5 392.5,234.6 393.0,234.7 393.5,234.9 394.0,235.0 394.5,235.1 395.0,235.2 395.5,235.3 396.0,235.4 396.5,235.5 397.0,235.6 397.5,235.7 398.0,235.8 398.5,235.9 399.0,236.1 399.5,236.2 400.0,236.3 400.5,236.4 401.0,236.5 401.5,236.6 402.0,236.7 402.5,236.8 403.0,236.9 403.5,237.0 404.0,237.1 404.5,237.3 405.0,237.4 405.5,237.5 406.0,237.6 406.5,237.7 407.0,237.8 407.5,237.9 408.0,238.0 408.5,238.1 409.0,238.2 409.5,238.3 410.0,238.4 410.5,238.5 411.0,238.6 411.5,238.7 412.0,238.8 412.5,238.9 413.0,239.0 413.5,239.1 414.0,239.2 414.5,239.3 415.0,239.4 415.5,239.5 416.0,239.6 416.5,239.7 417.0,239.8 417.5,239.9 418.0,240.0 418.5,240.1 419.0,240.1 419.5,240.2 420.0,240.3 420.5,240.4 421.0,240.5 421.5,240.6 422.0,240.7 422.5,240.8 423.0,240.8 423.5,240.9 424.0,241.0 424.5,241.1 425.0,241.2 425.5,241.2 426.0,241.3 426.5,241.4 427.0,241.5 427.5,241.5 428.0,241.6 428.5,241.7 429.0,241.8 429.5,241.8 430.0,241.9 430.5,242.0 431.0,242.0 431.5,242.1 432.0,242.2 432.5,242.2 433.0,242.3 433.5,242.4 434.0,242.4 434.5,242.5 435.0,242.6 435.5,242.6 436.0,242.7 436.5,242.7 437.0,242.8 437.5,242.9 438.0,242.9 438.5,243.0 439.0,243.0 439.5,243.1 440.0,243.1 440.5,243.2 441.0,243.2 441.5,243.3 442.0,243.3 442.5,243.4 443.0,243.4 443.5,243.5 444.0,243.5 444.5,243.6 445.0,243.6 445.5,243.6 446.0,243.7 446.5,243.7 447.0,243.8 447.5,243.8 448.0,243.9 448.5,243.9 449.0,243.9 449.5,244.0 450.0,244.0 450.5,244.0 451.0,244.1 451.5,244.1 452.0,244.1 452.5,244.2 453.0,244.2 453.5,244.2 454.0,244.3 454.5,244.3 455.0,244.3 455.5,244.4 456.0,244.4 456.5,244.4 457.0,244.4 457.5,244.5 458.0,244.5 458.5,244.5 459.0,244.6 459.5,244.6 460.0,244.6 460.5,244.6 461.0,244.6 461.5,244.7 462.0,244.7 462.5,244.7 463.0,244.7 463.5,244.8 464.0,244.8 464.5,244.8 465.0,244.8 465.5,244.8 466.0,244.9 466.5,244.9 467.0,244.9 467.5,244.9 468.0,244.9 468.5,245.0 469.0,245.0 469.5,245.0 470.0,245.0 470.5,245.0 471.0,245.0 471.5,245.0 472.0,245.1 472.5,245.1 473.0,245.1 473.5,245.1 474.0,245.1 474.5,245.1 475.0,245.1 475.5,245.2 476.0,245.2 476.5,245.2 477.0,245.2 477.5,245.2 478.0,245.2 478.5,245.2 479.0,245.2 479.5,245.2 480.0,245.3 480.5,245.3 481.0,245.3 481.5,245.3 482.0,245.3 482.5,245.3 483.0,245.3 483.5,245.3 484.0,245.3 484.5,245.3 485.0,245.4 485.5,245.4 486.0,245.4 486.5,245.4 487.0,245.4 487.5,245.4 488.0,245.4 488.5,245.4 489.0,245.4 489.5,245.4 490.0,245.4 490.5,245.4 491.0,245.4 491.5,245.5 492.0,245.5 492.5,245.5 493.0,245.5 493.5,245.5 494.0,245.5 494.5,245.5 495.0,245.5 495.5,245.5 496.0,245.5 496.5,245.5 497.0,245.5 497.5,245.5 498.0,245.5 498.5,245.5 499.0,245.5 499.5,245.6 500.0,245.6 500.5,245.6 501.0,245.6 501.5,245.6 502.0,245.6 502.5,245.6 503.0,245.6 503.5,245.6 504.0,245.6 504.5,245.6 505.0,245.6 505.5,245.6 506.0,245.6 506.5,245.6 507.0,245.6 507.5,245.6 508.0,245.6 508.5,245.6 509.0,245.6 509.5,245.7 510.0,245.7 510.5,245.7 511.0,245.7 511.5,245.7 512.0,245.7 512.5,245.7 513.0,245.7 513.5,245.7 514.0,245.7 514.5,245.7 515.0,245.7 515.5,245.7 516.0,245.7 516.5,245.7 517.0,245.7 517.5,245.7 518.0,245.7 518.5,245.7 519.0,245.7 519.5,245.7 520.0,245.7 520.5,245.7 521.0,245.8 521.5,245.8 522.0,245.8 522.5,245.8 523.0,245.8 523.5,245.8 524.0,245.8 524.5,245.8 525.0,245.8 525.5,245.8 526.0,245.8 526.5,245.8 527.0,245.8 527.5,245.8 528.0,245.8 528.5,245.8 529.0,245.8 529.5,245.8 530.0,245.8 530.5,245.8 531.0,245.8 531.5,245.8 532.0,245.8 532.5,245.8 533.0,245.8 533.5,245.9 534.0,245.9 534.5,245.9 535.0,245.9 535.5,245.9 536.0,245.9 536.5,245.9 537.0,245.9 537.5,245.9 538.0,245.9" fill="none" stroke="#FF8A1C" stroke-width="1.4"/>
<polyline points="268.5,242.5 269.0,242.5 269.5,242.4 270.0,242.4 270.5,242.3 271.0,242.3 271.5,242.3 272.0,242.2 272.5,242.2 273.0,242.1 273.5,242.1 274.0,242.0 274.5,242.0 275.0,241.9 275.5,241.9 276.0,241.8 276.5,241.8 277.0,241.7 277.5,241.6 278.0,241.6 278.5,241.5 279.0,241.5 279.5,241.4 280.0,241.3 280.5,241.3 281.0,241.2 281.5,241.1 282.0,241.0 282.5,241.0 283.0,240.9 283.5,240.8 284.0,240.7 284.5,240.7 285.0,240.6 285.5,240.5 286.0,240.4 286.5,240.3 287.0,240.2 287.5,240.1 288.0,240.0 288.5,239.9 289.0,239.8 289.5,239.7 290.0,239.6 290.5,239.5 291.0,239.4 291.5,239.3 292.0,239.2 292.5,239.1 293.0,239.0 293.5,238.8 294.0,238.7 294.5,238.6 295.0,238.5 295.5,238.3 296.0,238.2 296.5,238.1 297.0,237.9 297.5,237.8 298.0,237.6 298.5,237.5 299.0,237.3 299.5,237.2 300.0,237.0 300.5,236.9 301.0,236.7 301.5,236.6 302.0,236.4 302.5,236.2 303.0,236.1 303.5,235.9 304.0,235.7 304.5,235.5 305.0,235.3 305.5,235.2 306.0,235.0 306.5,234.8 307.0,234.6 307.5,234.4 308.0,234.2 308.5,234.0 309.0,233.8 309.5,233.5 310.0,233.3 310.5,233.1 311.0,232.9 311.5,232.7 312.0,232.4 312.5,232.2 313.0,232.0 313.5,231.7 314.0,231.5 314.5,231.2 315.0,231.0 315.5,230.7 316.0,230.4 316.5,230.2 317.0,229.9 317.5,229.6 318.0,229.4 318.5,229.1 319.0,228.8 319.5,228.5 320.0,228.2 320.5,227.9 321.0,227.6 321.5,227.3 322.0,227.0 322.5,226.7 323.0,226.4 323.5,226.1 324.0,225.8 324.5,225.4 325.0,225.1 325.5,224.8 326.0,224.4 326.5,224.1 327.0,223.7 327.5,223.4 328.0,223.0 328.5,222.7 329.0,222.3 329.5,221.9 330.0,221.6 330.5,221.2 331.0,220.8 331.5,220.4 332.0,220.0 332.5,219.6 333.0,219.2 333.5,218.8 334.0,218.4 334.5,218.0 335.0,217.6 335.5,217.2 336.0,216.8 336.5,216.3 337.0,215.9 337.5,215.5 338.0,215.0 338.5,214.6 339.0,214.1 339.5,213.7 340.0,213.2 340.5,212.7 341.0,212.3 341.5,211.8 342.0,211.3 342.5,210.9 343.0,210.4 343.5,209.9 344.0,209.4 344.5,208.9 345.0,208.4 345.5,207.9 346.0,207.4 346.5,206.9 347.0,206.4 347.5,205.8 348.0,205.3 348.5,204.8 349.0,204.2 349.5,203.7 350.0,203.2 350.5,202.6 351.0,202.1 351.5,201.5 352.0,201.0 352.5,200.4 353.0,199.8 353.5,199.3 354.0,198.7 354.5,198.1 355.0,197.6 355.5,197.0 356.0,196.4 356.5,195.8 357.0,195.2 357.5,194.6 358.0,194.0 358.5,193.4 359.0,192.8 359.5,192.2 360.0,191.6 360.5,191.0 361.0,190.4 361.5,189.7 362.0,189.1 362.5,188.5 363.0,187.9 363.5,187.2 364.0,186.6 364.5,186.0 365.0,185.3 365.5,184.7 366.0,184.0 366.5,183.4 367.0,182.7 367.5,182.1 368.0,181.4 368.5,180.8 369.0,180.1 369.5,179.5 370.0,178.8 370.5,178.1 371.0,177.5 371.5,176.8 372.0,176.2 372.5,175.5 373.0,174.8 373.5,174.2 374.0,173.5 374.5,172.8 375.0,172.2 375.5,171.5 376.0,170.8 376.5,170.1 377.0,169.5 377.5,168.8 378.0,168.1 378.5,167.5 379.0,166.8 379.5,166.1 380.0,165.5 380.5,164.8 381.0,164.1 381.5,163.5 382.0,162.8 382.5,162.1 383.0,161.5 383.5,160.8 384.0,160.2 384.5,159.5 385.0,158.8 385.5,158.2 386.0,157.5 386.5,156.9 387.0,156.3 387.5,155.6 388.0,155.0 388.5,154.3 389.0,153.7 389.5,153.1 390.0,152.5 390.5,151.8 391.0,151.2 391.5,150.6 392.0,150.0 392.5,149.4 393.0,148.8 393.5,148.2 394.0,147.6 394.5,147.1 395.0,146.5 395.5,145.9 396.0,145.4 396.5,144.9 397.0,144.4 397.5,143.9 398.0,143.4 398.5,143.0 399.0,142.5 399.5,142.1 400.0,141.7 400.5,141.3 401.0,140.9 401.5,140.6 402.0,140.2 402.5,139.9 403.0,139.6 403.5,139.3 404.0,139.0 404.5,138.7 405.0,138.5 405.5,138.3 406.0,138.0 406.5,137.8 407.0,137.7 407.5,137.5 408.0,137.3 408.5,137.2 409.0,137.1 409.5,137.0 410.0,136.9 410.5,136.8 411.0,136.8 411.5,136.7 412.0,136.7 412.5,136.7 413.0,136.7 413.5,136.7 414.0,136.7 414.5,136.8 415.0,136.8 415.5,136.9 416.0,137.0 416.5,137.1 417.0,137.2 417.5,137.3 418.0,137.4 418.5,137.6 419.0,137.8 419.5,137.9 420.0,138.1 420.5,138.3 421.0,138.5 421.5,138.8 422.0,139.0 422.5,139.2 423.0,139.5 423.5,139.8 424.0,140.0 424.5,140.3 425.0,140.6 425.5,140.9 426.0,141.3 426.5,141.6 427.0,141.9 427.5,142.3 428.0,142.6 428.5,143.0 429.0,143.4 429.5,143.8 430.0,144.2 430.5,144.6 431.0,145.0 431.5,145.4 432.0,145.8 432.5,146.3 433.0,146.7 433.5,147.2 434.0,147.6 434.5,148.1 435.0,148.5 435.5,149.0 436.0,149.5 436.5,150.0 437.0,150.5 437.5,151.0 438.0,151.6 438.5,152.1 439.0,152.6 439.5,153.2 440.0,153.7 440.5,154.3 441.0,154.9 441.5,155.4 442.0,156.0 442.5,156.6 443.0,157.2 443.5,157.8 444.0,158.5 444.5,159.1 445.0,159.7 445.5,160.4 446.0,161.0 446.5,161.6 447.0,162.3 447.5,163.0 448.0,163.6 448.5,164.3 449.0,165.0 449.5,165.7 450.0,166.4 450.5,167.1 451.0,167.8 451.5,168.5 452.0,169.2 452.5,169.9 453.0,170.6 453.5,171.3 454.0,172.0 454.5,172.8 455.0,173.5 455.5,174.2 456.0,175.0 456.5,175.7 457.0,176.5 457.5,177.2 458.0,177.9 458.5,178.7 459.0,179.4 459.5,180.2 460.0,181.0 460.5,181.7 461.0,182.5 461.5,183.2 462.0,184.0 462.5,184.7 463.0,185.5 463.5,186.2 464.0,187.0 464.5,187.8 465.0,188.5 465.5,189.3 466.0,190.0 466.5,190.8 467.0,191.5 467.5,192.3 468.0,193.0 468.5,193.8 469.0,194.5 469.5,195.3 470.0,196.0 470.5,196.7 471.0,197.5 471.5,198.2 472.0,198.9 472.5,199.7 473.0,200.4 473.5,201.1 474.0,201.8 474.5,202.5 475.0,203.2 475.5,203.9 476.0,204.6 476.5,205.3 477.0,206.0 477.5,206.7 478.0,207.4 478.5,208.0 479.0,208.7 479.5,209.4 480.0,210.0 480.5,210.7 481.0,211.3 481.5,212.0 482.0,212.6 482.5,213.2 483.0,213.9 483.5,214.5 484.0,215.1 484.5,215.7 485.0,216.3 485.5,216.9 486.0,217.5 486.5,218.0 487.0,218.6 487.5,219.2 488.0,219.7 488.5,220.3 489.0,220.8 489.5,221.4 490.0,221.9 490.5,222.4 491.0,222.9 491.5,223.4 492.0,223.9 492.5,224.4 493.0,224.9 493.5,225.4 494.0,225.9 494.5,226.3 495.0,226.8 495.5,227.2 496.0,227.7 496.5,228.1 497.0,228.5 497.5,229.0 498.0,229.4 498.5,229.8 499.0,230.2 499.5,230.6 500.0,231.0 500.5,231.3 501.0,231.7 501.5,232.1 502.0,232.4 502.5,232.8 503.0,233.1 503.5,233.5 504.0,233.8 504.5,234.1 505.0,234.4 505.5,234.8 506.0,235.1 506.5,235.4 507.0,235.6 507.5,235.9 508.0,236.2 508.5,236.5 509.0,236.8 509.5,237.0 510.0,237.3 510.5,237.5 511.0,237.8 511.5,238.0 512.0,238.2 512.5,238.5 513.0,238.7 513.5,238.9 514.0,239.1 514.5,239.3 515.0,239.5 515.5,239.7 516.0,239.9 516.5,240.1 517.0,240.3 517.5,240.5 518.0,240.6 518.5,240.8 519.0,241.0 519.5,241.1 520.0,241.3 520.5,241.4 521.0,241.6 521.5,241.7 522.0,241.9 522.5,242.0 523.0,242.1 523.5,242.3 524.0,242.4 524.5,242.5 525.0,242.6 525.5,242.8 526.0,242.9 526.5,243.0 527.0,243.1 527.5,243.2 528.0,243.3 528.5,243.4 529.0,243.5 529.5,243.6 530.0,243.6 530.5,243.7 531.0,243.8 531.5,243.9 532.0,244.0 532.5,244.0 533.0,244.1 533.5,244.2 534.0,244.3 534.5,244.3 535.0,244.4 535.5,244.4 536.0,244.5 536.5,244.6 537.0,244.6 537.5,244.7 538.0,244.7" fill="none" stroke="#F5333A" stroke-width="1.6"/>
<line x1="268.5" y1="244.87" x2="538.3" y2="246.89" stroke="#E0601C" stroke-width="1.3"/>
<line x1="268.5" y1="245.77" x2="538.3" y2="247.79" stroke="#7a1d10" stroke-width="0.9"/>

<polygon points="269.6,369.6 269.6,368.9 270.1,368.9 270.6,368.9 271.1,368.9 271.6,368.9 272.1,368.8 272.6,368.8 273.1,368.8 273.6,368.8 274.1,368.8 274.6,368.8 275.1,368.7 275.6,368.7 276.1,368.7 276.6,368.7 277.1,368.6 277.6,368.6 278.1,368.6 278.6,368.6 279.1,368.5 279.6,368.5 280.1,368.5 280.6,368.4 281.1,368.4 281.6,368.4 282.1,368.3 282.6,368.3 283.1,368.2 283.6,368.2 284.1,368.2 284.6,368.1 285.1,368.1 285.6,368.0 286.1,368.0 286.6,367.9 287.1,367.9 287.6,367.8 288.1,367.7 288.6,367.7 289.1,367.6 289.6,367.6 290.1,367.5 290.6,367.4 291.1,367.4 291.6,367.3 292.1,367.2 292.6,367.1 293.1,367.0 293.6,367.0 294.1,366.9 294.6,366.8 295.1,366.7 295.6,366.6 296.1,366.5 296.6,366.4 297.1,366.3 297.6,366.2 298.1,366.1 298.6,365.9 299.1,365.8 299.6,365.7 300.1,365.6 300.6,365.4 301.1,365.3 301.6,365.2 302.1,365.0 302.6,364.9 303.1,364.7 303.6,364.6 304.1,364.4 304.6,364.2 305.1,364.1 305.6,363.9 306.1,363.7 306.6,363.5 307.1,363.3 307.6,363.1 308.1,362.9 308.6,362.7 309.1,362.5 309.6,362.3 310.1,362.1 310.6,361.8 311.1,361.6 311.6,361.3 312.1,361.1 312.6,360.8 313.1,360.6 313.6,360.3 314.1,360.0 314.6,359.7 315.1,359.5 315.6,359.2 316.1,358.9 316.6,358.5 317.1,358.2 317.6,357.9 318.1,357.6 318.6,357.2 319.1,356.9 319.6,356.5 320.1,356.2 320.6,355.8 321.1,355.4 321.6,355.0 322.1,354.6 322.6,354.2 323.1,353.8 323.6,353.4 324.1,353.0 324.6,352.5 325.1,352.1 325.6,351.6 326.1,351.2 326.6,350.7 327.1,350.2 327.6,349.7 328.1,349.2 328.6,348.7 329.1,348.2 329.6,347.7 330.1,347.1 330.6,346.6 331.1,346.0 331.6,345.5 332.1,344.9 332.6,344.3 333.1,343.7 333.6,343.1 334.1,342.5 334.6,341.9 335.1,341.3 335.6,340.6 336.1,340.0 336.6,339.3 337.1,338.7 337.6,338.0 338.1,337.3 338.6,336.6 339.1,335.9 339.6,335.2 340.1,334.5 340.6,333.8 341.1,333.1 341.6,332.3 342.1,331.6 342.6,330.8 343.1,330.1 343.6,329.3 344.1,328.5 344.6,327.7 345.1,326.9 345.6,326.1 346.1,325.3 346.6,324.5 347.1,323.7 347.6,322.9 348.1,322.0 348.6,321.2 349.1,320.4 349.6,319.5 350.1,318.6 350.6,317.8 351.1,316.9 351.6,316.1 352.1,315.2 352.6,314.3 353.1,313.4 353.6,312.5 354.1,311.6 354.6,310.8 355.1,309.9 355.6,309.0 356.1,308.1 356.6,307.2 357.1,306.3 357.6,305.4 358.1,304.4 358.6,303.5 359.1,302.6 359.6,301.7 360.1,300.8 360.6,299.9 361.1,299.0 361.6,298.1 362.1,297.2 362.6,296.3 363.1,295.4 363.6,294.5 364.1,293.6 364.6,292.8 365.1,291.9 365.6,291.0 366.1,290.1 366.6,289.3 367.1,288.4 367.6,287.5 368.1,286.7 368.6,285.9 369.1,285.0 369.6,284.2 370.1,283.4 370.6,282.6 371.1,281.8 371.6,281.0 372.1,280.2 372.6,279.4 373.1,278.7 373.6,277.9 374.1,277.2 374.6,276.4 375.1,275.7 375.6,275.0 376.1,274.3 376.6,273.6 377.1,273.0 377.6,272.3 378.1,271.7 378.6,271.0 379.1,270.4 379.6,269.8 380.1,269.2 380.6,268.7 381.1,268.1 381.6,267.6 382.1,267.1 382.6,266.6 383.1,266.1 383.6,265.6 384.1,265.2 384.6,264.7 385.1,264.3 385.6,263.9 386.1,263.5 386.6,263.2 387.1,262.8 387.6,262.5 388.1,262.2 388.6,261.9 389.1,261.6 389.6,261.4 390.1,261.2 390.6,261.0 391.1,260.8 391.6,260.6 392.1,260.5 392.6,260.3 393.1,260.2 393.6,260.1 394.1,260.1 394.6,260.0 395.1,260.0 395.6,260.0 396.1,260.0 396.6,260.0 397.1,260.1 397.6,260.2 398.1,260.3 398.6,260.4 399.1,260.5 399.6,260.7 400.1,260.8 400.6,261.0 401.1,261.2 401.6,261.5 402.1,261.7 402.6,262.0 403.1,262.3 403.6,262.6 404.1,262.9 404.6,263.3 405.1,263.6 405.6,264.0 406.1,264.4 406.6,264.8 407.1,265.3 407.6,265.7 408.1,266.2 408.6,266.7 409.1,267.2 409.6,267.7 410.1,268.3 410.6,268.8 411.1,269.4 411.6,270.0 412.1,270.6 412.6,271.2 413.1,271.8 413.6,272.4 414.1,273.1 414.6,273.8 415.1,274.4 415.6,275.1 416.1,275.8 416.6,276.5 417.1,277.3 417.6,278.0 418.1,278.8 418.6,279.5 419.1,280.3 419.6,281.1 420.1,281.9 420.6,282.7 421.1,283.5 421.6,284.3 422.1,285.1 422.6,285.9 423.1,286.8 423.6,287.6 424.1,288.5 424.6,289.3 425.1,290.2 425.6,291.0 426.1,291.9 426.6,292.8 427.1,293.7 427.6,294.5 428.1,295.4 428.6,296.3 429.1,297.2 429.6,298.1 430.1,299.0 430.6,299.9 431.1,300.8 431.6,301.7 432.1,302.6 432.6,303.5 433.1,304.4 433.6,305.3 434.1,306.2 434.6,307.1 435.1,308.0 435.6,308.9 436.1,309.8 436.6,310.7 437.1,311.6 437.6,312.4 438.1,313.3 438.6,314.2 439.1,315.1 439.6,315.9 440.1,316.8 440.6,317.7 441.1,318.5 441.6,319.4 442.1,320.2 442.6,321.1 443.1,321.9 443.6,322.7 444.1,323.5 444.6,324.4 445.1,325.2 445.6,326.0 446.1,326.8 446.6,327.6 447.1,328.3 447.6,329.1 448.1,329.9 448.6,330.6 449.1,331.4 449.6,332.1 450.1,332.9 450.6,333.6 451.1,334.3 451.6,335.0 452.1,335.7 452.6,336.4 453.1,337.1 453.6,337.8 454.1,338.5 454.6,339.1 455.1,339.8 455.6,340.4 456.1,341.1 456.6,341.7 457.1,342.3 457.6,342.9 458.1,343.5 458.6,344.1 459.1,344.7 459.6,345.2 460.1,345.8 460.6,346.4 461.1,346.9 461.6,347.4 462.1,348.0 462.6,348.5 463.1,349.0 463.6,349.5 464.1,350.0 464.6,350.5 465.1,350.9 465.6,351.4 466.1,351.9 466.6,352.3 467.1,352.7 467.6,353.2 468.1,353.6 468.6,354.0 469.1,354.4 469.6,354.8 470.1,355.2 470.6,355.6 471.1,356.0 471.6,356.3 472.1,356.7 472.6,357.0 473.1,357.4 473.6,357.7 474.1,358.0 474.6,358.4 475.1,358.7 475.6,359.0 476.1,359.3 476.6,359.6 477.1,359.9 477.6,360.1 478.1,360.4 478.6,360.7 479.1,360.9 479.6,361.2 480.1,361.4 480.6,361.7 481.1,361.9 481.6,362.1 482.1,362.4 482.6,362.6 483.1,362.8 483.6,363.0 484.1,363.2 484.6,363.4 485.1,363.6 485.6,363.8 486.1,363.9 486.6,364.1 487.1,364.3 487.6,364.4 488.1,364.6 488.6,364.8 489.1,364.9 489.6,365.1 490.1,365.2 490.6,365.3 491.1,365.5 491.6,365.6 492.1,365.7 492.6,365.8 493.1,366.0 493.6,366.1 494.1,366.2 494.6,366.3 495.1,366.4 495.6,366.5 496.1,366.6 496.6,366.7 497.1,366.8 497.6,366.9 498.1,367.0 498.6,367.1 499.1,367.1 499.6,367.2 500.1,367.3 500.6,367.4 501.1,367.4 501.6,367.5 502.1,367.6 502.6,367.6 503.1,367.7 503.6,367.8 504.1,367.8 504.6,367.9 505.1,367.9 505.6,368.0 506.1,368.0 506.6,368.1 507.1,368.1 507.6,368.2 508.1,368.2 508.6,368.2 509.1,368.3 509.6,368.3 510.1,368.4 510.6,368.4 511.1,368.4 511.6,368.5 512.1,368.5 512.6,368.5 513.1,368.6 513.6,368.6 514.1,368.6 514.6,368.6 515.1,368.7 515.6,368.7 516.1,368.7 516.6,368.7 517.1,368.7 517.6,368.8 518.1,368.8 518.6,368.8 519.1,368.8 519.6,368.8 520.1,368.9 520.6,368.9 521.1,368.9 521.6,368.9 522.1,368.9 522.6,368.9 523.1,368.9 523.6,369.0 524.1,369.0 524.6,369.0 525.1,369.0 525.6,369.0 526.1,369.0 526.6,369.0 527.1,369.0 527.6,369.0 528.1,369.0 528.6,369.1 529.1,369.1 529.6,369.1 530.1,369.1 530.6,369.1 531.1,369.1 531.6,369.1 532.1,369.1 532.6,369.1 533.1,369.1 533.6,369.1 534.1,369.1 534.6,369.1 535.1,369.1 535.6,369.1 536.1,369.1 536.6,369.1 537.1,369.1 537.6,369.2 538.1,369.2 538.6,369.2 539.1,369.2 539.4,369.6" fill="#5B76FD"/>
<polyline points="269.6,368.9 270.1,368.9 270.6,368.9 271.1,368.9 271.6,368.9 272.1,368.8 272.6,368.8 273.1,368.8 273.6,368.8 274.1,368.8 274.6,368.8 275.1,368.7 275.6,368.7 276.1,368.7 276.6,368.7 277.1,368.6 277.6,368.6 278.1,368.6 278.6,368.6 279.1,368.5 279.6,368.5 280.1,368.5 280.6,368.4 281.1,368.4 281.6,368.4 282.1,368.3 282.6,368.3 283.1,368.2 283.6,368.2 284.1,368.2 284.6,368.1 285.1,368.1 285.6,368.0 286.1,368.0 286.6,367.9 287.1,367.9 287.6,367.8 288.1,367.7 288.6,367.7 289.1,367.6 289.6,367.6 290.1,367.5 290.6,367.4 291.1,367.4 291.6,367.3 292.1,367.2 292.6,367.1 293.1,367.0 293.6,367.0 294.1,366.9 294.6,366.8 295.1,366.7 295.6,366.6 296.1,366.5 296.6,366.4 297.1,366.3 297.6,366.2 298.1,366.1 298.6,365.9 299.1,365.8 299.6,365.7 300.1,365.6 300.6,365.4 301.1,365.3 301.6,365.2 302.1,365.0 302.6,364.9 303.1,364.7 303.6,364.6 304.1,364.4 304.6,364.2 305.1,364.1 305.6,363.9 306.1,363.7 306.6,363.5 307.1,363.3 307.6,363.1 308.1,362.9 308.6,362.7 309.1,362.5 309.6,362.3 310.1,362.1 310.6,361.8 311.1,361.6 311.6,361.3 312.1,361.1 312.6,360.8 313.1,360.6 313.6,360.3 314.1,360.0 314.6,359.7 315.1,359.5 315.6,359.2 316.1,358.9 316.6,358.5 317.1,358.2 317.6,357.9 318.1,357.6 318.6,357.2 319.1,356.9 319.6,356.5 320.1,356.2 320.6,355.8 321.1,355.4 321.6,355.0 322.1,354.6 322.6,354.2 323.1,353.8 323.6,353.4 324.1,353.0 324.6,352.5 325.1,352.1 325.6,351.6 326.1,351.2 326.6,350.7 327.1,350.2 327.6,349.7 328.1,349.2 328.6,348.7 329.1,348.2 329.6,347.7 330.1,347.1 330.6,346.6 331.1,346.0 331.6,345.5 332.1,344.9 332.6,344.3 333.1,343.7 333.6,343.1 334.1,342.5 334.6,341.9 335.1,341.3 335.6,340.6 336.1,340.0 336.6,339.3 337.1,338.7 337.6,338.0 338.1,337.3 338.6,336.6 339.1,335.9 339.6,335.2 340.1,334.5 340.6,333.8 341.1,333.1 341.6,332.3 342.1,331.6 342.6,330.8 343.1,330.1 343.6,329.3 344.1,328.5 344.6,327.7 345.1,326.9 345.6,326.1 346.1,325.3 346.6,324.5 347.1,323.7 347.6,322.9 348.1,322.0 348.6,321.2 349.1,320.4 349.6,319.5 350.1,318.6 350.6,317.8 351.1,316.9 351.6,316.1 352.1,315.2 352.6,314.3 353.1,313.4 353.6,312.5 354.1,311.6 354.6,310.8 355.1,309.9 355.6,309.0 356.1,308.1 356.6,307.2 357.1,306.3 357.6,305.4 358.1,304.4 358.6,303.5 359.1,302.6 359.6,301.7 360.1,300.8 360.6,299.9 361.1,299.0 361.6,298.1 362.1,297.2 362.6,296.3 363.1,295.4 363.6,294.5 364.1,293.6 364.6,292.8 365.1,291.9 365.6,291.0 366.1,290.1 366.6,289.3 367.1,288.4 367.6,287.5 368.1,286.7 368.6,285.9 369.1,285.0 369.6,284.2 370.1,283.4 370.6,282.6 371.1,281.8 371.6,281.0 372.1,280.2 372.6,279.4 373.1,278.7 373.6,277.9 374.1,277.2 374.6,276.4 375.1,275.7 375.6,275.0 376.1,274.3 376.6,273.6 377.1,273.0 377.6,272.3 378.1,271.7 378.6,271.0 379.1,270.4 379.6,269.8 380.1,269.2 380.6,268.7 381.1,268.1 381.6,267.6 382.1,267.1 382.6,266.6 383.1,266.1 383.6,265.6 384.1,265.2 384.6,264.7 385.1,264.3 385.6,263.9 386.1,263.5 386.6,263.2 387.1,262.8 387.6,262.5 388.1,262.2 388.6,261.9 389.1,261.6 389.6,261.4 390.1,261.2 390.6,261.0 391.1,260.8 391.6,260.6 392.1,260.5 392.6,260.3 393.1,260.2 393.6,260.1 394.1,260.1 394.6,260.0 395.1,260.0 395.6,260.0 396.1,260.0 396.6,260.0 397.1,260.1 397.6,260.2 398.1,260.3 398.6,260.4 399.1,260.5 399.6,260.7 400.1,260.8 400.6,261.0 401.1,261.2 401.6,261.5 402.1,261.7 402.6,262.0 403.1,262.3 403.6,262.6 404.1,262.9 404.6,263.3 405.1,263.6 405.6,264.0 406.1,264.4 406.6,264.8 407.1,265.3 407.6,265.7 408.1,266.2 408.6,266.7 409.1,267.2 409.6,267.7 410.1,268.3 410.6,268.8 411.1,269.4 411.6,270.0 412.1,270.6 412.6,271.2 413.1,271.8 413.6,272.4 414.1,273.1 414.6,273.8 415.1,274.4 415.6,275.1 416.1,275.8 416.6,276.5 417.1,277.3 417.6,278.0 418.1,278.8 418.6,279.5 419.1,280.3 419.6,281.1 420.1,281.9 420.6,282.7 421.1,283.5 421.6,284.3 422.1,285.1 422.6,285.9 423.1,286.8 423.6,287.6 424.1,288.5 424.6,289.3 425.1,290.2 425.6,291.0 426.1,291.9 426.6,292.8 427.1,293.7 427.6,294.5 428.1,295.4 428.6,296.3 429.1,297.2 429.6,298.1 430.1,299.0 430.6,299.9 431.1,300.8 431.6,301.7 432.1,302.6 432.6,303.5 433.1,304.4 433.6,305.3 434.1,306.2 434.6,307.1 435.1,308.0 435.6,308.9 436.1,309.8 436.6,310.7 437.1,311.6 437.6,312.4 438.1,313.3 438.6,314.2 439.1,315.1 439.6,315.9 440.1,316.8 440.6,317.7 441.1,318.5 441.6,319.4 442.1,320.2 442.6,321.1 443.1,321.9 443.6,322.7 444.1,323.5 444.6,324.4 445.1,325.2 445.6,326.0 446.1,326.8 446.6,327.6 447.1,328.3 447.6,329.1 448.1,329.9 448.6,330.6 449.1,331.4 449.6,332.1 450.1,332.9 450.6,333.6 451.1,334.3 451.6,335.0 452.1,335.7 452.6,336.4 453.1,337.1 453.6,337.8 454.1,338.5 454.6,339.1 455.1,339.8 455.6,340.4 456.1,341.1 456.6,341.7 457.1,342.3 457.6,342.9 458.1,343.5 458.6,344.1 459.1,344.7 459.6,345.2 460.1,345.8 460.6,346.4 461.1,346.9 461.6,347.4 462.1,348.0 462.6,348.5 463.1,349.0 463.6,349.5 464.1,350.0 464.6,350.5 465.1,350.9 465.6,351.4 466.1,351.9 466.6,352.3 467.1,352.7 467.6,353.2 468.1,353.6 468.6,354.0 469.1,354.4 469.6,354.8 470.1,355.2 470.6,355.6 471.1,356.0 471.6,356.3 472.1,356.7 472.6,357.0 473.1,357.4 473.6,357.7 474.1,358.0 474.6,358.4 475.1,358.7 475.6,359.0 476.1,359.3 476.6,359.6 477.1,359.9 477.6,360.1 478.1,360.4 478.6,360.7 479.1,360.9 479.6,361.2 480.1,361.4 480.6,361.7 481.1,361.9 481.6,362.1 482.1,362.4 482.6,362.6 483.1,362.8 483.6,363.0 484.1,363.2 484.6,363.4 485.1,363.6 485.6,363.8 486.1,363.9 486.6,364.1 487.1,364.3 487.6,364.4 488.1,364.6 488.6,364.8 489.1,364.9 489.6,365.1 490.1,365.2 490.6,365.3 491.1,365.5 491.6,365.6 492.1,365.7 492.6,365.8 493.1,366.0 493.6,366.1 494.1,366.2 494.6,366.3 495.1,366.4 495.6,366.5 496.1,366.6 496.6,366.7 497.1,366.8 497.6,366.9 498.1,367.0 498.6,367.1 499.1,367.1 499.6,367.2 500.1,367.3 500.6,367.4 501.1,367.4 501.6,367.5 502.1,367.6 502.6,367.6 503.1,367.7 503.6,367.8 504.1,367.8 504.6,367.9 505.1,367.9 505.6,368.0 506.1,368.0 506.6,368.1 507.1,368.1 507.6,368.2 508.1,368.2 508.6,368.2 509.1,368.3 509.6,368.3 510.1,368.4 510.6,368.4 511.1,368.4 511.6,368.5 512.1,368.5 512.6,368.5 513.1,368.6 513.6,368.6 514.1,368.6 514.6,368.6 515.1,368.7 515.6,368.7 516.1,368.7 516.6,368.7 517.1,368.7 517.6,368.8 518.1,368.8 518.6,368.8 519.1,368.8 519.6,368.8 520.1,368.9 520.6,368.9 521.1,368.9 521.6,368.9 522.1,368.9 522.6,368.9 523.1,368.9 523.6,369.0 524.1,369.0 524.6,369.0 525.1,369.0 525.6,369.0 526.1,369.0 526.6,369.0 527.1,369.0 527.6,369.0 528.1,369.0 528.6,369.1 529.1,369.1 529.6,369.1 530.1,369.1 530.6,369.1 531.1,369.1 531.6,369.1 532.1,369.1 532.6,369.1 533.1,369.1 533.6,369.1 534.1,369.1 534.6,369.1 535.1,369.1 535.6,369.1 536.1,369.1 536.6,369.1 537.1,369.1 537.6,369.2 538.1,369.2 538.6,369.2 539.1,369.2" fill="none" stroke="#3355FF" stroke-width="1.4"/>
<polygon points="269.6,369.6 269.6,369.2 270.1,369.2 270.6,369.2 271.1,369.2 271.6,369.2 272.1,369.2 272.6,369.2 273.1,369.2 273.6,369.2 274.1,369.1 274.6,369.1 275.1,369.1 275.6,369.1 276.1,369.1 276.6,369.1 277.1,369.1 277.6,369.1 278.1,369.1 278.6,369.1 279.1,369.1 279.6,369.1 280.1,369.1 280.6,369.1 281.1,369.1 281.6,369.1 282.1,369.1 282.6,369.1 283.1,369.1 283.6,369.1 284.1,369.1 284.6,369.1 285.1,369.1 285.6,369.1 286.1,369.1 286.6,369.1 287.1,369.1 287.6,369.1 288.1,369.1 288.6,369.1 289.1,369.1 289.6,369.1 290.1,369.1 290.6,369.1 291.1,369.1 291.6,369.1 292.1,369.1 292.6,369.1 293.1,369.0 293.6,369.0 294.1,369.0 294.6,369.0 295.1,369.0 295.6,369.0 296.1,369.0 296.6,369.0 297.1,369.0 297.6,369.0 298.1,369.0 298.6,369.0 299.1,369.0 299.6,369.0 300.1,369.0 300.6,369.0 301.1,369.0 301.6,369.0 302.1,369.0 302.6,369.0 303.1,369.0 303.6,369.0 304.1,368.9 304.6,368.9 305.1,368.9 305.6,368.9 306.1,368.9 306.6,368.9 307.1,368.9 307.6,368.9 308.1,368.9 308.6,368.9 309.1,368.9 309.6,368.9 310.1,368.9 310.6,368.9 311.1,368.9 311.6,368.8 312.1,368.8 312.6,368.8 313.1,368.8 313.6,368.8 314.1,368.8 314.6,368.8 315.1,368.8 315.6,368.8 316.1,368.8 316.6,368.8 317.1,368.8 317.6,368.7 318.1,368.7 318.6,368.7 319.1,368.7 319.6,368.7 320.1,368.7 320.6,368.7 321.1,368.7 321.6,368.7 322.1,368.7 322.6,368.6 323.1,368.6 323.6,368.6 324.1,368.6 324.6,368.6 325.1,368.6 325.6,368.6 326.1,368.6 326.6,368.5 327.1,368.5 327.6,368.5 328.1,368.5 328.6,368.5 329.1,368.5 329.6,368.5 330.1,368.5 330.6,368.4 331.1,368.4 331.6,368.4 332.1,368.4 332.6,368.4 333.1,368.4 333.6,368.4 334.1,368.3 334.6,368.3 335.1,368.3 335.6,368.3 336.1,368.3 336.6,368.3 337.1,368.2 337.6,368.2 338.1,368.2 338.6,368.2 339.1,368.2 339.6,368.2 340.1,368.1 340.6,368.1 341.1,368.1 341.6,368.1 342.1,368.1 342.6,368.0 343.1,368.0 343.6,368.0 344.1,368.0 344.6,368.0 345.1,367.9 345.6,367.9 346.1,367.9 346.6,367.9 347.1,367.9 347.6,367.8 348.1,367.8 348.6,367.8 349.1,367.8 349.6,367.8 350.1,367.7 350.6,367.7 351.1,367.7 351.6,367.7 352.1,367.6 352.6,367.6 353.1,367.6 353.6,367.6 354.1,367.5 354.6,367.5 355.1,367.5 355.6,367.5 356.1,367.4 356.6,367.4 357.1,367.4 357.6,367.4 358.1,367.3 358.6,367.3 359.1,367.3 359.6,367.3 360.1,367.2 360.6,367.2 361.1,367.2 361.6,367.1 362.1,367.1 362.6,367.1 363.1,367.1 363.6,367.0 364.1,367.0 364.6,367.0 365.1,366.9 365.6,366.9 366.1,366.9 366.6,366.8 367.1,366.8 367.6,366.8 368.1,366.7 368.6,366.7 369.1,366.7 369.6,366.6 370.1,366.6 370.6,366.6 371.1,366.5 371.6,366.5 372.1,366.5 372.6,366.4 373.1,366.4 373.6,366.4 374.1,366.3 374.6,366.3 375.1,366.3 375.6,366.2 376.1,366.2 376.6,366.2 377.1,366.1 377.6,366.1 378.1,366.1 378.6,366.0 379.1,366.0 379.6,365.9 380.1,365.9 380.6,365.9 381.1,365.8 381.6,365.8 382.1,365.8 382.6,365.7 383.1,365.7 383.6,365.6 384.1,365.6 384.6,365.6 385.1,365.5 385.6,365.5 386.1,365.4 386.6,365.4 387.1,365.4 387.6,365.3 388.1,365.3 388.6,365.2 389.1,365.2 389.6,365.2 390.1,365.1 390.6,365.1 391.1,365.0 391.6,365.0 392.1,364.9 392.6,364.9 393.1,364.9 393.6,364.8 394.1,364.8 394.6,364.7 395.1,364.7 395.6,364.7 396.1,364.6 396.6,364.6 397.1,364.5 397.6,364.5 398.1,364.4 398.6,364.4 399.1,364.4 399.6,364.3 400.1,364.3 400.6,364.2 401.1,364.2 401.6,364.1 402.1,364.1 402.6,364.1 403.1,364.0 403.6,364.0 404.1,363.9 404.6,363.9 405.1,363.8 405.6,363.8 406.1,363.7 406.6,363.7 407.1,363.7 407.6,363.6 408.1,363.6 408.6,363.5 409.1,363.5 409.6,363.4 410.1,363.4 410.6,363.4 411.1,363.3 411.6,363.3 412.1,363.2 412.6,363.2 413.1,363.2 413.6,363.1 414.1,363.1 414.6,363.0 415.1,363.0 415.6,362.9 416.1,362.9 416.6,362.9 417.1,362.8 417.6,362.8 418.1,362.7 418.6,362.7 419.1,362.7 419.6,362.6 420.1,362.6 420.6,362.5 421.1,362.5 421.6,362.5 422.1,362.4 422.6,362.4 423.1,362.3 423.6,362.3 424.1,362.3 424.6,362.2 425.1,362.2 425.6,362.2 426.1,362.1 426.6,362.1 427.1,362.0 427.6,362.0 428.1,362.0 428.6,361.9 429.1,361.9 429.6,361.9 430.1,361.8 430.6,361.8 431.1,361.8 431.6,361.7 432.1,361.7 432.6,361.7 433.1,361.6 433.6,361.6 434.1,361.6 434.6,361.5 435.1,361.5 435.6,361.5 436.1,361.4 436.6,361.4 437.1,361.4 437.6,361.4 438.1,361.3 438.6,361.3 439.1,361.3 439.6,361.2 440.1,361.2 440.6,361.2 441.1,361.2 441.6,361.1 442.1,361.1 442.6,361.1 443.1,361.1 443.6,361.0 444.1,361.0 444.6,361.0 445.1,361.0 445.6,361.0 446.1,360.9 446.6,360.9 447.1,360.9 447.6,360.9 448.1,360.9 448.6,360.8 449.1,360.8 449.6,360.8 450.1,360.8 450.6,360.8 451.1,360.8 451.6,360.7 452.1,360.7 452.6,360.7 453.1,360.7 453.6,360.7 454.1,360.7 454.6,360.7 455.1,360.6 455.6,360.6 456.1,360.6 456.6,360.6 457.1,360.6 457.6,360.6 458.1,360.6 458.6,360.6 459.1,360.6 459.6,360.6 460.1,360.6 460.6,360.6 461.1,360.6 461.6,360.5 462.1,360.5 462.6,360.5 463.1,360.5 463.6,360.5 464.1,360.5 464.6,360.5 465.1,360.5 465.6,360.5 466.1,360.5 466.6,360.6 467.1,360.6 467.6,360.6 468.1,360.6 468.6,360.6 469.1,360.6 469.6,360.6 470.1,360.6 470.6,360.6 471.1,360.7 471.6,360.7 472.1,360.7 472.6,360.7 473.1,360.8 473.6,360.8 474.1,360.8 474.6,360.8 475.1,360.9 475.6,360.9 476.1,360.9 476.6,361.0 477.1,361.0 477.6,361.1 478.1,361.1 478.6,361.1 479.1,361.2 479.6,361.2 480.1,361.3 480.6,361.3 481.1,361.4 481.6,361.4 482.1,361.5 482.6,361.5 483.1,361.6 483.6,361.6 484.1,361.7 484.6,361.7 485.1,361.8 485.6,361.8 486.1,361.9 486.6,361.9 487.1,362.0 487.6,362.1 488.1,362.1 488.6,362.2 489.1,362.3 489.6,362.3 490.1,362.4 490.6,362.4 491.1,362.5 491.6,362.6 492.1,362.6 492.6,362.7 493.1,362.8 493.6,362.8 494.1,362.9 494.6,363.0 495.1,363.0 495.6,363.1 496.1,363.2 496.6,363.3 497.1,363.3 497.6,363.4 498.1,363.5 498.6,363.5 499.1,363.6 499.6,363.7 500.1,363.8 500.6,363.8 501.1,363.9 501.6,364.0 502.1,364.0 502.6,364.1 503.1,364.2 503.6,364.3 504.1,364.3 504.6,364.4 505.1,364.5 505.6,364.5 506.1,364.6 506.6,364.7 507.1,364.8 507.6,364.8 508.1,364.9 508.6,365.0 509.1,365.0 509.6,365.1 510.1,365.2 510.6,365.2 511.1,365.3 511.6,365.4 512.1,365.4 512.6,365.5 513.1,365.6 513.6,365.6 514.1,365.7 514.6,365.8 515.1,365.8 515.6,365.9 516.1,365.9 516.6,366.0 517.1,366.1 517.6,366.1 518.1,366.2 518.6,366.3 519.1,366.3 519.6,366.4 520.1,366.4 520.6,366.5 521.1,366.5 521.6,366.6 522.1,366.6 522.6,366.7 523.1,366.8 523.6,366.8 524.1,366.9 524.6,366.9 525.1,367.0 525.6,367.0 526.1,367.1 526.6,367.1 527.1,367.2 527.6,367.2 528.1,367.3 528.6,367.3 529.1,367.3 529.6,367.4 530.1,367.4 530.6,367.5 531.1,367.5 531.6,367.6 532.1,367.6 532.6,367.6 533.1,367.7 533.6,367.7 534.1,367.8 534.6,367.8 535.1,367.8 535.6,367.9 536.1,367.9 536.6,367.9 537.1,368.0 537.6,368.0 538.1,368.0 538.6,368.1 539.1,368.1 539.4,369.6" fill="#FDA846"/>
<polygon points="269.6,369.6 269.6,369.2 270.1,369.2 270.6,369.2 271.1,369.2 271.6,369.2 272.1,369.2 272.6,369.2 273.1,369.2 273.6,369.2 274.1,369.1 274.6,369.1 275.1,369.1 275.6,369.1 276.1,369.1 276.6,369.1 277.1,369.1 277.6,369.1 278.1,369.1 278.6,369.1 279.1,369.1 279.6,369.1 280.1,369.1 280.6,369.1 281.1,369.1 281.6,369.1 282.1,369.1 282.6,369.1 283.1,369.1 283.6,369.1 284.1,369.1 284.6,369.1 285.1,369.1 285.6,369.1 286.1,369.1 286.6,369.1 287.1,369.1 287.6,369.1 288.1,369.1 288.6,369.1 289.1,369.1 289.6,369.1 290.1,369.1 290.6,369.1 291.1,369.1 291.6,369.1 292.1,369.1 292.6,369.1 293.1,369.0 293.6,369.0 294.1,369.0 294.6,369.0 295.1,369.0 295.6,369.0 296.1,369.0 296.6,369.0 297.1,369.0 297.6,369.0 298.1,369.0 298.6,369.0 299.1,369.0 299.6,369.0 300.1,369.0 300.6,369.0 301.1,369.0 301.6,369.0 302.1,369.0 302.6,369.0 303.1,369.0 303.6,369.0 304.1,368.9 304.6,368.9 305.1,368.9 305.6,368.9 306.1,368.9 306.6,368.9 307.1,368.9 307.6,368.9 308.1,368.9 308.6,368.9 309.1,368.9 309.6,368.9 310.1,368.9 310.6,368.9 311.1,368.9 311.6,368.8 312.1,368.8 312.6,368.8 313.1,368.8 313.6,368.8 314.1,368.8 314.6,368.8 315.1,368.8 315.6,368.8 316.1,368.8 316.6,368.8 317.1,368.8 317.6,368.7 318.1,368.7 318.6,368.7 319.1,368.7 319.6,368.7 320.1,368.7 320.6,368.7 321.1,368.7 321.6,368.7 322.1,368.7 322.6,368.6 323.1,368.6 323.6,368.6 324.1,368.6 324.6,368.6 325.1,368.6 325.6,368.6 326.1,368.6 326.6,368.5 327.1,368.5 327.6,368.5 328.1,368.5 328.6,368.5 329.1,368.5 329.6,368.5 330.1,368.5 330.6,368.4 331.1,368.4 331.6,368.4 332.1,368.4 332.6,368.4 333.1,368.4 333.6,368.4 334.1,368.3 334.6,368.3 335.1,368.3 335.6,368.3 336.1,368.3 336.6,368.3 337.1,368.2 337.6,368.2 338.1,368.2 338.6,368.2 339.1,368.2 339.6,368.2 340.1,368.1 340.6,368.1 341.1,368.1 341.6,368.1 342.1,368.1 342.6,368.0 343.1,368.0 343.6,368.0 344.1,368.0 344.6,368.0 345.1,367.9 345.6,367.9 346.1,367.9 346.6,367.9 347.1,367.9 347.6,367.8 348.1,367.8 348.6,367.8 349.1,367.8 349.6,367.8 350.1,367.7 350.6,367.7 351.1,367.7 351.6,367.7 352.1,367.6 352.6,367.6 353.1,367.6 353.6,367.6 354.1,367.5 354.6,367.5 355.1,367.5 355.6,367.5 356.1,367.4 356.6,367.4 357.1,367.4 357.6,367.4 358.1,367.3 358.6,367.3 359.1,367.3 359.6,367.3 360.1,367.2 360.6,367.2 361.1,367.2 361.6,367.1 362.1,367.1 362.6,367.1 363.1,367.1 363.6,367.0 364.1,367.0 364.6,367.0 365.1,366.9 365.6,366.9 366.1,366.9 366.6,366.8 367.1,366.8 367.6,366.8 368.1,366.7 368.6,366.7 369.1,366.7 369.6,366.6 370.1,366.6 370.6,366.6 371.1,366.5 371.6,366.5 372.1,366.5 372.6,366.4 373.1,366.4 373.6,366.4 374.1,366.3 374.6,366.3 375.1,366.3 375.6,366.2 376.1,366.2 376.6,366.2 377.1,366.1 377.6,366.1 378.1,366.1 378.6,366.0 379.1,366.0 379.6,365.9 380.1,365.9 380.6,365.9 381.1,365.8 381.6,365.8 382.1,365.8 382.6,365.7 383.1,365.7 383.6,365.6 384.1,365.6 384.6,365.6 385.1,365.5 385.6,365.5 386.1,365.4 386.6,365.4 387.1,365.4 387.6,365.3 388.1,365.3 388.6,365.2 389.1,365.2 389.6,365.2 390.1,365.1 390.6,365.1 391.1,365.0 391.6,365.0 392.1,364.9 392.6,364.9 393.1,364.9 393.6,364.8 394.1,364.8 394.6,364.7 395.1,364.7 395.6,364.7 396.1,364.6 396.6,364.6 397.1,364.5 397.6,364.5 398.1,364.4 398.6,364.4 399.1,364.4 399.6,364.3 400.1,364.3 400.6,364.2 401.1,364.2 401.6,364.1 402.1,364.1 402.6,364.1 403.1,364.0 403.6,364.0 404.1,363.9 404.6,363.9 405.1,363.8 405.6,363.8 406.1,363.7 406.6,363.7 407.1,363.7 407.6,363.6 408.1,363.6 408.6,363.5 409.1,363.5 409.6,363.4 410.1,363.4 410.6,363.4 411.1,363.3 411.6,363.3 412.1,363.2 412.6,363.2 413.1,363.2 413.6,363.1 414.1,363.1 414.6,363.0 415.1,363.0 415.6,362.9 416.1,362.9 416.6,362.9 417.1,362.8 417.6,362.8 418.1,362.7 418.6,362.7 419.1,362.7 419.6,362.6 420.1,362.6 420.6,362.5 421.1,362.5 421.6,362.5 422.1,362.4 422.6,362.4 423.1,362.3 423.6,362.3 424.1,362.3 424.6,362.2 425.1,362.2 425.6,362.2 426.1,362.1 426.6,362.1 427.1,362.0 427.6,362.0 428.1,362.0 428.6,361.9 429.1,361.9 429.6,361.9 430.1,361.8 430.6,361.8 431.1,361.8 431.6,361.7 432.1,361.7 432.6,361.7 433.1,361.6 433.6,361.6 434.1,361.6 434.6,361.5 435.1,361.5 435.6,361.5 436.1,361.4 436.6,361.4 437.1,361.4 437.6,361.4 438.1,361.3 438.6,361.3 439.1,361.3 439.6,361.2 440.1,361.2 440.6,361.2 441.1,361.2 441.6,361.1 442.1,361.1 442.6,361.1 443.1,361.1 443.6,361.0 444.1,361.0 444.6,361.0 445.1,361.0 445.6,361.0 446.1,360.9 446.6,360.9 447.1,360.9 447.6,360.9 448.1,360.9 448.6,360.8 449.1,360.8 449.6,360.8 450.1,360.8 450.6,360.8 451.1,360.8 451.6,360.7 452.1,360.7 452.6,360.7 453.1,360.7 453.6,360.7 454.1,360.7 454.6,360.7 455.1,360.6 455.6,360.6 456.1,360.6 456.6,360.6 457.1,360.6 457.6,360.6 458.1,360.6 458.6,360.6 459.1,360.6 459.6,360.6 460.1,360.6 460.6,360.6 461.1,360.6 461.6,360.5 462.1,360.5 462.6,360.5 463.1,360.5 463.6,360.5 464.1,360.5 464.6,360.5 465.1,360.5 465.6,360.5 466.1,360.5 466.6,360.6 467.1,360.6 467.6,360.6 468.1,360.6 468.6,360.6 469.1,360.6 469.6,360.6 470.1,360.6 470.6,360.6 471.1,360.7 471.6,360.7 472.1,360.7 472.6,360.7 473.1,360.8 473.6,360.8 474.1,360.8 474.6,360.8 475.1,360.9 475.6,360.9 476.1,360.9 476.6,361.0 477.1,361.0 477.6,361.1 478.1,361.1 478.6,361.1 479.1,361.2 479.6,361.2 480.1,361.4 480.6,361.7 481.1,361.9 481.6,362.1 482.1,362.4 482.6,362.6 483.1,362.8 483.6,363.0 484.1,363.2 484.6,363.4 485.1,363.6 485.6,363.8 486.1,363.9 486.6,364.1 487.1,364.3 487.6,364.4 488.1,364.6 488.6,364.8 489.1,364.9 489.6,365.1 490.1,365.2 490.6,365.3 491.1,365.5 491.6,365.6 492.1,365.7 492.6,365.8 493.1,366.0 493.6,366.1 494.1,366.2 494.6,366.3 495.1,366.4 495.6,366.5 496.1,366.6 496.6,366.7 497.1,366.8 497.6,366.9 498.1,367.0 498.6,367.1 499.1,367.1 499.6,367.2 500.1,367.3 500.6,367.4 501.1,367.4 501.6,367.5 502.1,367.6 502.6,367.6 503.1,367.7 503.6,367.8 504.1,367.8 504.6,367.9 505.1,367.9 505.6,368.0 506.1,368.0 506.6,368.1 507.1,368.1 507.6,368.2 508.1,368.2 508.6,368.2 509.1,368.3 509.6,368.3 510.1,368.4 510.6,368.4 511.1,368.4 511.6,368.5 512.1,368.5 512.6,368.5 513.1,368.6 513.6,368.6 514.1,368.6 514.6,368.6 515.1,368.7 515.6,368.7 516.1,368.7 516.6,368.7 517.1,368.7 517.6,368.8 518.1,368.8 518.6,368.8 519.1,368.8 519.6,368.8 520.1,368.9 520.6,368.9 521.1,368.9 521.6,368.9 522.1,368.9 522.6,368.9 523.1,368.9 523.6,369.0 524.1,369.0 524.6,369.0 525.1,369.0 525.6,369.0 526.1,369.0 526.6,369.0 527.1,369.0 527.6,369.0 528.1,369.0 528.6,369.1 529.1,369.1 529.6,369.1 530.1,369.1 530.6,369.1 531.1,369.1 531.6,369.1 532.1,369.1 532.6,369.1 533.1,369.1 533.6,369.1 534.1,369.1 534.6,369.1 535.1,369.1 535.6,369.1 536.1,369.1 536.6,369.1 537.1,369.1 537.6,369.2 538.1,369.2 538.6,369.2 539.1,369.2 539.4,369.6" fill="#E37E49"/>
<polyline points="269.6,369.2 270.1,369.2 270.6,369.2 271.1,369.2 271.6,369.2 272.1,369.2 272.6,369.2 273.1,369.2 273.6,369.2 274.1,369.1 274.6,369.1 275.1,369.1 275.6,369.1 276.1,369.1 276.6,369.1 277.1,369.1 277.6,369.1 278.1,369.1 278.6,369.1 279.1,369.1 279.6,369.1 280.1,369.1 280.6,369.1 281.1,369.1 281.6,369.1 282.1,369.1 282.6,369.1 283.1,369.1 283.6,369.1 284.1,369.1 284.6,369.1 285.1,369.1 285.6,369.1 286.1,369.1 286.6,369.1 287.1,369.1 287.6,369.1 288.1,369.1 288.6,369.1 289.1,369.1 289.6,369.1 290.1,369.1 290.6,369.1 291.1,369.1 291.6,369.1 292.1,369.1 292.6,369.1 293.1,369.0 293.6,369.0 294.1,369.0 294.6,369.0 295.1,369.0 295.6,369.0 296.1,369.0 296.6,369.0 297.1,369.0 297.6,369.0 298.1,369.0 298.6,369.0 299.1,369.0 299.6,369.0 300.1,369.0 300.6,369.0 301.1,369.0 301.6,369.0 302.1,369.0 302.6,369.0 303.1,369.0 303.6,369.0 304.1,368.9 304.6,368.9 305.1,368.9 305.6,368.9 306.1,368.9 306.6,368.9 307.1,368.9 307.6,368.9 308.1,368.9 308.6,368.9 309.1,368.9 309.6,368.9 310.1,368.9 310.6,368.9 311.1,368.9 311.6,368.8 312.1,368.8 312.6,368.8 313.1,368.8 313.6,368.8 314.1,368.8 314.6,368.8 315.1,368.8 315.6,368.8 316.1,368.8 316.6,368.8 317.1,368.8 317.6,368.7 318.1,368.7 318.6,368.7 319.1,368.7 319.6,368.7 320.1,368.7 320.6,368.7 321.1,368.7 321.6,368.7 322.1,368.7 322.6,368.6 323.1,368.6 323.6,368.6 324.1,368.6 324.6,368.6 325.1,368.6 325.6,368.6 326.1,368.6 326.6,368.5 327.1,368.5 327.6,368.5 328.1,368.5 328.6,368.5 329.1,368.5 329.6,368.5 330.1,368.5 330.6,368.4 331.1,368.4 331.6,368.4 332.1,368.4 332.6,368.4 333.1,368.4 333.6,368.4 334.1,368.3 334.6,368.3 335.1,368.3 335.6,368.3 336.1,368.3 336.6,368.3 337.1,368.2 337.6,368.2 338.1,368.2 338.6,368.2 339.1,368.2 339.6,368.2 340.1,368.1 340.6,368.1 341.1,368.1 341.6,368.1 342.1,368.1 342.6,368.0 343.1,368.0 343.6,368.0 344.1,368.0 344.6,368.0 345.1,367.9 345.6,367.9 346.1,367.9 346.6,367.9 347.1,367.9 347.6,367.8 348.1,367.8 348.6,367.8 349.1,367.8 349.6,367.8 350.1,367.7 350.6,367.7 351.1,367.7 351.6,367.7 352.1,367.6 352.6,367.6 353.1,367.6 353.6,367.6 354.1,367.5 354.6,367.5 355.1,367.5 355.6,367.5 356.1,367.4 356.6,367.4 357.1,367.4 357.6,367.4 358.1,367.3 358.6,367.3 359.1,367.3 359.6,367.3 360.1,367.2 360.6,367.2 361.1,367.2 361.6,367.1 362.1,367.1 362.6,367.1 363.1,367.1 363.6,367.0 364.1,367.0 364.6,367.0 365.1,366.9 365.6,366.9 366.1,366.9 366.6,366.8 367.1,366.8 367.6,366.8 368.1,366.7 368.6,366.7 369.1,366.7 369.6,366.6 370.1,366.6 370.6,366.6 371.1,366.5 371.6,366.5 372.1,366.5 372.6,366.4 373.1,366.4 373.6,366.4 374.1,366.3 374.6,366.3 375.1,366.3 375.6,366.2 376.1,366.2 376.6,366.2 377.1,366.1 377.6,366.1 378.1,366.1 378.6,366.0 379.1,366.0 379.6,365.9 380.1,365.9 380.6,365.9 381.1,365.8 381.6,365.8 382.1,365.8 382.6,365.7 383.1,365.7 383.6,365.6 384.1,365.6 384.6,365.6 385.1,365.5 385.6,365.5 386.1,365.4 386.6,365.4 387.1,365.4 387.6,365.3 388.1,365.3 388.6,365.2 389.1,365.2 389.6,365.2 390.1,365.1 390.6,365.1 391.1,365.0 391.6,365.0 392.1,364.9 392.6,364.9 393.1,364.9 393.6,364.8 394.1,364.8 394.6,364.7 395.1,364.7 395.6,364.7 396.1,364.6 396.6,364.6 397.1,364.5 397.6,364.5 398.1,364.4 398.6,364.4 399.1,364.4 399.6,364.3 400.1,364.3 400.6,364.2 401.1,364.2 401.6,364.1 402.1,364.1 402.6,364.1 403.1,364.0 403.6,364.0 404.1,363.9 404.6,363.9 405.1,363.8 405.6,363.8 406.1,363.7 406.6,363.7 407.1,363.7 407.6,363.6 408.1,363.6 408.6,363.5 409.1,363.5 409.6,363.4 410.1,363.4 410.6,363.4 411.1,363.3 411.6,363.3 412.1,363.2 412.6,363.2 413.1,363.2 413.6,363.1 414.1,363.1 414.6,363.0 415.1,363.0 415.6,362.9 416.1,362.9 416.6,362.9 417.1,362.8 417.6,362.8 418.1,362.7 418.6,362.7 419.1,362.7 419.6,362.6 420.1,362.6 420.6,362.5 421.1,362.5 421.6,362.5 422.1,362.4 422.6,362.4 423.1,362.3 423.6,362.3 424.1,362.3 424.6,362.2 425.1,362.2 425.6,362.2 426.1,362.1 426.6,362.1 427.1,362.0 427.6,362.0 428.1,362.0 428.6,361.9 429.1,361.9 429.6,361.9 430.1,361.8 430.6,361.8 431.1,361.8 431.6,361.7 432.1,361.7 432.6,361.7 433.1,361.6 433.6,361.6 434.1,361.6 434.6,361.5 435.1,361.5 435.6,361.5 436.1,361.4 436.6,361.4 437.1,361.4 437.6,361.4 438.1,361.3 438.6,361.3 439.1,361.3 439.6,361.2 440.1,361.2 440.6,361.2 441.1,361.2 441.6,361.1 442.1,361.1 442.6,361.1 443.1,361.1 443.6,361.0 444.1,361.0 444.6,361.0 445.1,361.0 445.6,361.0 446.1,360.9 446.6,360.9 447.1,360.9 447.6,360.9 448.1,360.9 448.6,360.8 449.1,360.8 449.6,360.8 450.1,360.8 450.6,360.8 451.1,360.8 451.6,360.7 452.1,360.7 452.6,360.7 453.1,360.7 453.6,360.7 454.1,360.7 454.6,360.7 455.1,360.6 455.6,360.6 456.1,360.6 456.6,360.6 457.1,360.6 457.6,360.6 458.1,360.6 458.6,360.6 459.1,360.6 459.6,360.6 460.1,360.6 460.6,360.6 461.1,360.6 461.6,360.5 462.1,360.5 462.6,360.5 463.1,360.5 463.6,360.5 464.1,360.5 464.6,360.5 465.1,360.5 465.6,360.5 466.1,360.5 466.6,360.6 467.1,360.6 467.6,360.6 468.1,360.6 468.6,360.6 469.1,360.6 469.6,360.6 470.1,360.6 470.6,360.6 471.1,360.7 471.6,360.7 472.1,360.7 472.6,360.7 473.1,360.8 473.6,360.8 474.1,360.8 474.6,360.8 475.1,360.9 475.6,360.9 476.1,360.9 476.6,361.0 477.1,361.0 477.6,361.1 478.1,361.1 478.6,361.1 479.1,361.2 479.6,361.2 480.1,361.3 480.6,361.3 481.1,361.4 481.6,361.4 482.1,361.5 482.6,361.5 483.1,361.6 483.6,361.6 484.1,361.7 484.6,361.7 485.1,361.8 485.6,361.8 486.1,361.9 486.6,361.9 487.1,362.0 487.6,362.1 488.1,362.1 488.6,362.2 489.1,362.3 489.6,362.3 490.1,362.4 490.6,362.4 491.1,362.5 491.6,362.6 492.1,362.6 492.6,362.7 493.1,362.8 493.6,362.8 494.1,362.9 494.6,363.0 495.1,363.0 495.6,363.1 496.1,363.2 496.6,363.3 497.1,363.3 497.6,363.4 498.1,363.5 498.6,363.5 499.1,363.6 499.6,363.7 500.1,363.8 500.6,363.8 501.1,363.9 501.6,364.0 502.1,364.0 502.6,364.1 503.1,364.2 503.6,364.3 504.1,364.3 504.6,364.4 505.1,364.5 505.6,364.5 506.1,364.6 506.6,364.7 507.1,364.8 507.6,364.8 508.1,364.9 508.6,365.0 509.1,365.0 509.6,365.1 510.1,365.2 510.6,365.2 511.1,365.3 511.6,365.4 512.1,365.4 512.6,365.5 513.1,365.6 513.6,365.6 514.1,365.7 514.6,365.8 515.1,365.8 515.6,365.9 516.1,365.9 516.6,366.0 517.1,366.1 517.6,366.1 518.1,366.2 518.6,366.3 519.1,366.3 519.6,366.4 520.1,366.4 520.6,366.5 521.1,366.5 521.6,366.6 522.1,366.6 522.6,366.7 523.1,366.8 523.6,366.8 524.1,366.9 524.6,366.9 525.1,367.0 525.6,367.0 526.1,367.1 526.6,367.1 527.1,367.2 527.6,367.2 528.1,367.3 528.6,367.3 529.1,367.3 529.6,367.4 530.1,367.4 530.6,367.5 531.1,367.5 531.6,367.6 532.1,367.6 532.6,367.6 533.1,367.7 533.6,367.7 534.1,367.8 534.6,367.8 535.1,367.8 535.6,367.9 536.1,367.9 536.6,367.9 537.1,368.0 537.6,368.0 538.1,368.0 538.6,368.1 539.1,368.1" fill="none" stroke="#FF8A1C" stroke-width="1.4"/>
<polyline points="269.6,368.4 270.1,368.4 270.6,368.4 271.1,368.3 271.6,368.3 272.1,368.3 272.6,368.3 273.1,368.3 273.6,368.2 274.1,368.2 274.6,368.2 275.1,368.2 275.6,368.1 276.1,368.1 276.6,368.1 277.1,368.0 277.6,368.0 278.1,368.0 278.6,367.9 279.1,367.9 279.6,367.9 280.1,367.8 280.6,367.8 281.1,367.8 281.6,367.7 282.1,367.7 282.6,367.6 283.1,367.6 283.6,367.5 284.1,367.5 284.6,367.5 285.1,367.4 285.6,367.4 286.1,367.3 286.6,367.2 287.1,367.2 287.6,367.1 288.1,367.1 288.6,367.0 289.1,366.9 289.6,366.9 290.1,366.8 290.6,366.7 291.1,366.7 291.6,366.6 292.1,366.5 292.6,366.4 293.1,366.4 293.6,366.3 294.1,366.2 294.6,366.1 295.1,366.0 295.6,365.9 296.1,365.8 296.6,365.7 297.1,365.6 297.6,365.5 298.1,365.4 298.6,365.3 299.1,365.2 299.6,365.0 300.1,364.9 300.6,364.8 301.1,364.7 301.6,364.5 302.1,364.4 302.6,364.2 303.1,364.1 303.6,363.9 304.1,363.8 304.6,363.6 305.1,363.5 305.6,363.3 306.1,363.1 306.6,362.9 307.1,362.8 307.6,362.6 308.1,362.4 308.6,362.2 309.1,362.0 309.6,361.8 310.1,361.5 310.6,361.3 311.1,361.1 311.6,360.9 312.1,360.6 312.6,360.4 313.1,360.1 313.6,359.9 314.1,359.6 314.6,359.3 315.1,359.0 315.6,358.8 316.1,358.5 316.6,358.2 317.1,357.9 317.6,357.6 318.1,357.2 318.6,356.9 319.1,356.6 319.6,356.2 320.1,355.9 320.6,355.5 321.1,355.1 321.6,354.8 322.1,354.4 322.6,354.0 323.1,353.6 323.6,353.2 324.1,352.8 324.6,352.3 325.1,351.9 325.6,351.4 326.1,351.0 326.6,350.5 327.1,350.1 327.6,349.6 328.1,349.1 328.6,348.6 329.1,348.1 329.6,347.6 330.1,347.0 330.6,346.5 331.1,345.9 331.6,345.4 332.1,344.8 332.6,344.2 333.1,343.7 333.6,343.1 334.1,342.5 334.6,341.8 335.1,341.2 335.6,340.6 336.1,339.9 336.6,339.3 337.1,338.6 337.6,338.0 338.1,337.3 338.6,336.6 339.1,335.9 339.6,335.2 340.1,334.4 340.6,333.7 341.1,333.0 341.6,332.2 342.1,331.5 342.6,330.7 343.1,329.9 343.6,329.1 344.1,328.3 344.6,327.5 345.1,326.7 345.6,325.9 346.1,325.1 346.6,324.3 347.1,323.4 347.6,322.6 348.1,321.7 348.6,320.8 349.1,320.0 349.6,319.1 350.1,318.2 350.6,317.3 351.1,316.4 351.6,315.5 352.1,314.6 352.6,313.7 353.1,312.8 353.6,311.9 354.1,310.9 354.6,310.0 355.1,309.1 355.6,308.1 356.1,307.2 356.6,306.2 357.1,305.3 357.6,304.3 358.1,303.4 358.6,302.4 359.1,301.5 359.6,300.5 360.1,299.5 360.6,298.6 361.1,297.6 361.6,296.7 362.1,295.7 362.6,294.8 363.1,293.8 363.6,292.8 364.1,291.9 364.6,290.9 365.1,290.0 365.6,289.1 366.1,288.1 366.6,287.2 367.1,286.3 367.6,285.3 368.1,284.4 368.6,283.5 369.1,282.6 369.6,281.7 370.1,280.8 370.6,279.9 371.1,279.1 371.6,278.2 372.1,277.3 372.6,276.5 373.1,275.6 373.6,274.8 374.1,274.0 374.6,273.2 375.1,272.4 375.6,271.6 376.1,270.8 376.6,270.1 377.1,269.3 377.6,268.6 378.1,267.9 378.6,267.2 379.1,266.5 379.6,265.8 380.1,265.1 380.6,264.5 381.1,263.9 381.6,263.3 382.1,262.7 382.6,262.1 383.1,261.5 383.6,261.0 384.1,260.4 384.6,259.9 385.1,259.4 385.6,259.0 386.1,258.5 386.6,258.1 387.1,257.7 387.6,257.3 388.1,256.9 388.6,256.5 389.1,256.2 389.6,255.9 390.1,255.6 390.6,255.3 391.1,255.0 391.6,254.8 392.1,254.6 392.6,254.4 393.1,254.2 393.6,254.1 394.1,254.0 394.6,253.8 395.1,253.8 395.6,253.7 396.1,253.7 396.6,253.6 397.1,253.6 397.6,253.6 398.1,253.7 398.6,253.8 399.1,253.8 399.6,253.9 400.1,254.1 400.6,254.2 401.1,254.4 401.6,254.6 402.1,254.8 402.6,255.0 403.1,255.3 403.6,255.5 404.1,255.8 404.6,256.1 405.1,256.5 405.6,256.8 406.1,257.2 406.6,257.6 407.1,258.0 407.6,258.4 408.1,258.9 408.6,259.3 409.1,259.8 409.6,260.3 410.1,260.8 410.6,261.3 411.1,261.9 411.6,262.4 412.1,263.0 412.6,263.6 413.1,264.2 413.6,264.8 414.1,265.5 414.6,266.1 415.1,266.8 415.6,267.4 416.1,268.1 416.6,268.8 417.1,269.6 417.6,270.3 418.1,271.0 418.6,271.8 419.1,272.5 419.6,273.3 420.1,274.1 420.6,274.8 421.1,275.6 421.6,276.4 422.1,277.2 422.6,278.1 423.1,278.9 423.6,279.7 424.1,280.5 424.6,281.4 425.1,282.2 425.6,283.1 426.1,283.9 426.6,284.8 427.1,285.7 427.6,286.5 428.1,287.4 428.6,288.3 429.1,289.1 429.6,290.0 430.1,290.9 430.6,291.8 431.1,292.6 431.6,293.5 432.1,294.4 432.6,295.3 433.1,296.2 433.6,297.0 434.1,297.9 434.6,298.8 435.1,299.7 435.6,300.5 436.1,301.4 436.6,302.3 437.1,303.1 437.6,304.0 438.1,304.8 438.6,305.7 439.1,306.5 439.6,307.3 440.1,308.2 440.6,309.0 441.1,309.8 441.6,310.6 442.1,311.5 442.6,312.3 443.1,313.1 443.6,313.9 444.1,314.6 444.6,315.4 445.1,316.2 445.6,317.0 446.1,317.7 446.6,318.5 447.1,319.2 447.6,319.9 448.1,320.7 448.6,321.4 449.1,322.1 449.6,322.8 450.1,323.5 450.6,324.2 451.1,324.8 451.6,325.5 452.1,326.2 452.6,326.8 453.1,327.5 453.6,328.1 454.1,328.7 454.6,329.3 455.1,329.9 455.6,330.5 456.1,331.1 456.6,331.7 457.1,332.3 457.6,332.8 458.1,333.4 458.6,333.9 459.1,334.5 459.6,335.0 460.1,335.5 460.6,336.1 461.1,336.6 461.6,337.1 462.1,337.6 462.6,338.1 463.1,338.6 463.6,339.1 464.1,339.5 464.6,340.0 465.1,340.5 465.6,340.9 466.1,341.4 466.6,341.8 467.1,342.3 467.6,342.7 468.1,343.1 468.6,343.6 469.1,344.0 469.6,344.4 470.1,344.8 470.6,345.2 471.1,345.6 471.6,346.0 472.1,346.4 472.6,346.7 473.1,347.1 473.6,347.5 474.1,347.9 474.6,348.2 475.1,348.6 475.6,348.9 476.1,349.3 476.6,349.6 477.1,349.9 477.6,350.3 478.1,350.6 478.6,350.9 479.1,351.2 479.6,351.5 480.1,351.8 480.6,352.2 481.1,352.5 481.6,352.7 482.1,353.0 482.6,353.3 483.1,353.6 483.6,353.9 484.1,354.2 484.6,354.4 485.1,354.7 485.6,355.0 486.1,355.2 486.6,355.5 487.1,355.7 487.6,356.0 488.1,356.2 488.6,356.5 489.1,356.7 489.6,356.9 490.1,357.2 490.6,357.4 491.1,357.6 491.6,357.9 492.1,358.1 492.6,358.3 493.1,358.5 493.6,358.7 494.1,358.9 494.6,359.1 495.1,359.3 495.6,359.5 496.1,359.7 496.6,359.9 497.1,360.1 497.6,360.3 498.1,360.5 498.6,360.6 499.1,360.8 499.6,361.0 500.1,361.2 500.6,361.3 501.1,361.5 501.6,361.7 502.1,361.8 502.6,362.0 503.1,362.2 503.6,362.3 504.1,362.5 504.6,362.6 505.1,362.8 505.6,362.9 506.1,363.0 506.6,363.2 507.1,363.3 507.6,363.5 508.1,363.6 508.6,363.7 509.1,363.8 509.6,364.0 510.1,364.1 510.6,364.2 511.1,364.3 511.6,364.5 512.1,364.6 512.6,364.7 513.1,364.8 513.6,364.9 514.1,365.0 514.6,365.1 515.1,365.2 515.6,365.3 516.1,365.4 516.6,365.5 517.1,365.6 517.6,365.7 518.1,365.8 518.6,365.9 519.1,366.0 519.6,366.1 520.1,366.1 520.6,366.2 521.1,366.3 521.6,366.4 522.1,366.5 522.6,366.5 523.1,366.6 523.6,366.7 524.1,366.8 524.6,366.8 525.1,366.9 525.6,367.0 526.1,367.0 526.6,367.1 527.1,367.1 527.6,367.2 528.1,367.3 528.6,367.3 529.1,367.4 529.6,367.4 530.1,367.5 530.6,367.5 531.1,367.6 531.6,367.6 532.1,367.7 532.6,367.7 533.1,367.8 533.6,367.8 534.1,367.9 534.6,367.9 535.1,368.0 535.6,368.0 536.1,368.0 536.6,368.1 537.1,368.1 537.6,368.1 538.1,368.2 538.6,368.2 539.1,368.2" fill="none" stroke="#F5333A" stroke-width="1.6"/>
<line x1="269.6" y1="368.81" x2="539.4" y2="368.81" stroke="#E0601C" stroke-width="1.3"/>

<g stroke="#1a0a05" stroke-width="1.1"><line x1="345.5" y1="125.31" x2="348.2" y2="125.31"/><line x1="379.8" y1="125.60" x2="382.6" y2="125.60"/><line x1="435" y1="126.07" x2="443.5" y2="126.07"/><line x1="401" y1="246.47" x2="405" y2="246.47"/></g>
</g>
<polygon points="20.0,332.5 20.5,332.6 21.0,332.7 21.5,332.8 22.0,332.8 22.5,332.9 23.0,333.0 23.5,333.1 24.0,333.2 24.5,333.3 25.0,333.3 25.5,333.4 26.0,333.5 26.5,333.6 27.0,333.7 27.5,333.7 28.0,333.8 28.5,333.9 29.0,334.0 29.5,334.1 30.0,334.1 30.5,334.2 31.0,334.3 31.5,334.4 32.0,334.5 32.5,334.5 33.0,334.6 33.5,334.7 34.0,334.8 34.5,334.8 35.0,334.9 35.5,335.0 36.0,335.1 36.5,335.1 37.0,335.2 37.5,335.3 38.0,335.4 38.5,335.4 39.0,335.5 39.5,335.6 40.0,335.7 40.5,335.7 41.0,335.8 41.5,335.9 42.0,335.9 42.5,336.0 43.0,336.1 43.5,336.1 44.0,336.2 44.5,336.3 45.0,336.4 45.5,336.4 46.0,336.5 46.5,336.6 47.0,336.6 47.5,336.7 48.0,336.7 48.5,336.8 49.0,336.9 49.5,336.9 50.0,337.0 50.5,337.1 51.0,337.1 51.5,337.2 52.0,337.2 52.5,337.3 53.0,337.4 53.5,337.4 54.0,337.5 54.5,337.5 55.0,337.6 55.5,337.6 56.0,337.7 56.5,337.8 57.0,337.8 57.5,337.9 58.0,337.9 58.5,338.0 59.0,338.0 59.5,338.1 60.0,338.1 60.5,338.2 61.0,338.2 61.5,338.3 62.0,338.3 62.5,338.4 63.0,338.4 63.5,338.5 64.0,338.5 64.5,338.6 65.0,338.6 65.5,338.7 66.0,338.7 66.5,338.8 67.0,338.8 67.5,338.9 68.0,338.9 68.5,338.9 69.0,339.0 69.5,339.0 70.0,339.1 70.5,339.1 71.0,339.2 71.5,339.2 72.0,339.3 72.5,339.3 73.0,339.4 73.5,339.4 74.0,339.5 74.5,339.5 75.0,339.6 75.5,339.6 76.0,339.7 76.5,339.7 77.0,339.8 77.5,339.8 78.0,339.9 78.5,339.9 79.0,340.0 79.5,340.0 80.0,340.1 80.5,340.1 81.0,340.2 81.5,340.2 82.0,340.3 82.5,340.3 83.0,340.4 83.5,340.4 84.0,340.5 84.5,340.5 85.0,340.6 85.5,340.7 86.0,340.7 86.5,340.8 87.0,340.8 87.5,340.9 88.0,341.0 88.5,341.0 89.0,341.1 89.5,341.1 90.0,341.2 90.5,341.3 91.0,341.3 91.5,341.4 92.0,341.5 92.5,341.6 93.0,341.6 93.5,341.7 94.0,341.8 94.5,341.9 95.0,342.0 95.5,342.0 96.0,342.1 96.5,342.2 97.0,342.3 97.5,342.4 98.0,342.5 98.5,342.5 99.0,342.6 99.5,342.7 100.0,342.8 100.5,342.9 101.0,343.0 101.5,343.0 102.0,343.1 102.5,343.2 103.0,343.3 103.5,343.4 104.0,343.4 104.5,343.5 105.0,343.6 105.5,343.6 106.0,343.7 106.5,343.7 107.0,343.8 107.5,343.8 108.0,343.9 108.5,343.9 109.0,344.0 109.5,344.0 110.0,344.1 110.5,344.1 111.0,344.2 111.5,344.2 112.0,344.3 112.5,344.3 113.0,344.4 113.5,344.4 114.0,344.5 114.5,344.5 115.0,344.5 115.5,344.6 116.0,344.6 116.5,344.7 117.0,344.7 117.5,344.7 118.0,344.8 118.5,344.8 119.0,344.8 119.5,344.9 120.0,344.9 120.5,344.9 121.0,344.9 121.5,345.0 122.0,345.0 122.5,345.0 123.0,345.0 123.5,345.0 124.0,345.0 124.5,345.0 125.0,345.0 125.5,345.0 126.0,345.0 126.5,345.0 127.0,345.0 127.5,345.0 128.0,344.9 128.5,344.9 129.0,344.9 129.5,344.9 130.0,344.9 130.5,344.8 131.0,344.8 131.5,344.8 132.0,344.8 132.5,344.7 133.0,344.7 133.5,344.7 134.0,344.7 134.5,344.6 135.0,344.6 135.5,344.6 136.0,344.5 136.5,344.5 137.0,344.4 137.5,344.3 138.0,344.3 138.5,344.2 139.0,344.1 139.5,344.0 140.0,343.9 140.5,343.8 141.0,343.7 141.5,343.6 142.0,343.5 142.5,343.4 143.0,343.2 143.5,343.1 144.0,343.0 144.5,342.9 145.0,342.7 145.5,342.6 146.0,342.4 146.5,342.3 147.0,342.1 147.5,341.9 148.0,341.7 148.5,341.5 149.0,341.3 149.5,341.1 150.0,340.8 150.5,340.6 151.0,340.3 151.5,340.1 152.0,339.8 152.5,339.5 153.0,339.2 153.5,338.8 154.0,338.4 154.5,338.0 155.0,337.6 155.5,337.1 156.0,336.7 156.5,336.2 157.0,335.7 157.5,335.2 158.0,334.7 158.5,334.2 159.0,333.5 159.5,332.9 160.0,332.2 160.5,331.5 161.0,330.8 161.5,330.1 162.0,329.3 162.5,328.5 163.0,327.8 163.5,327.0 164.0,326.2 164.5,325.4 165.0,324.6 165.5,323.8 166.0,322.9 166.5,322.0 167.0,321.2 167.5,320.3 168.0,319.5 168.5,318.7 169.0,317.9 169.5,317.2 170.0,316.5 170.5,315.8 171.0,315.1 171.5,314.5 172.0,313.9 172.5,313.3 173.0,312.7 173.5,312.1 174.0,311.5 174.5,311.0 175.0,310.4 175.5,309.9 176.0,309.3 176.5,308.8 177.0,308.3 177.5,307.9 178.0,307.6 178.5,307.3 179.0,307.1 179.5,306.8 180.0,306.6 180.5,306.5 181.0,306.4 181.5,306.4 182.0,306.5 182.5,306.6 183.0,306.8 183.5,307.1 184.0,307.3 184.5,307.6 185.0,307.9 185.5,308.3 186.0,308.7 186.5,309.3 187.0,309.8 187.5,310.4 188.0,311.1 188.5,311.7 189.0,312.5 189.5,313.3 190.0,314.3 190.5,315.3 191.0,316.3 191.5,317.4 192.0,318.5 192.5,319.6 193.0,320.7 193.5,321.8 194.0,322.8 194.5,323.8 195.0,324.9 195.5,325.9 196.0,327.0 196.5,328.0 197.0,329.1 197.5,330.1 198.0,331.1 198.5,332.0 199.0,332.9 199.5,333.8 200.0,334.6 200.5,335.4 201.0,336.2 201.5,336.9 202.0,337.7 202.5,338.4 203.0,339.1 203.5,339.8 204.0,340.5 204.5,341.2 205.0,341.8 205.5,342.4 206.0,342.9 206.5,343.5 207.0,344.0 207.5,344.5 208.0,345.0 208.5,345.5 209.0,346.0 209.5,346.4 210.0,346.9 210.5,347.3 211.0,347.7 211.5,348.2 212.0,348.6 212.5,348.9 213.0,349.3 213.5,349.7 214.0,350.0 214.5,350.3 215.0,350.6 215.5,350.9 216.0,351.1 216.5,351.3 217.0,351.5 217.5,351.7 218.0,351.9 218.5,352.1 219.0,352.3 219.5,352.4 220.0,352.6 220.5,352.7 221.0,352.9 221.5,353.0 222.0,353.1 222.5,353.3 223.0,353.4 223.5,353.6 224.0,353.8 224.5,353.9 225.0,354.1 225.5,354.3 226.0,354.5 226.5,354.8 227.0,355.0 227.5,355.2 228.0,355.5 228.5,355.7 228.5,363.3 228.0,363.3 227.5,363.3 227.0,363.3 226.5,363.2 226.0,363.2 225.5,363.2 225.0,363.2 224.5,363.2 224.0,363.1 223.5,363.1 223.0,363.1 222.5,363.1 222.0,363.1 221.5,363.0 221.0,363.0 220.5,363.0 220.0,363.0 219.5,362.9 219.0,362.9 218.5,362.9 218.0,362.9 217.5,362.8 217.0,362.8 216.5,362.8 216.0,362.8 215.5,362.7 215.0,362.7 214.5,362.7 214.0,362.6 213.5,362.6 213.0,362.6 212.5,362.6 212.0,362.5 211.5,362.5 211.0,362.5 210.5,362.4 210.0,362.4 209.5,362.4 209.0,362.3 208.5,362.3 208.0,362.3 207.5,362.2 207.0,362.2 206.5,362.2 206.0,362.1 205.5,362.1 205.0,362.1 204.5,362.0 204.0,362.0 203.5,362.0 203.0,361.9 202.5,361.9 202.0,361.8 201.5,361.8 201.0,361.7 200.5,361.7 200.0,361.7 199.5,361.6 199.0,361.6 198.5,361.5 198.0,361.5 197.5,361.4 197.0,361.4 196.5,361.3 196.0,361.3 195.5,361.2 195.0,361.2 194.5,361.1 194.0,361.1 193.5,361.0 193.0,361.0 192.5,361.0 192.0,360.9 191.5,360.9 191.0,360.8 190.5,360.8 190.0,360.7 189.5,360.7 189.0,360.6 188.5,360.6 188.0,360.6 187.5,360.5 187.0,360.5 186.5,360.5 186.0,360.4 185.5,360.4 185.0,360.3 184.5,360.3 184.0,360.3 183.5,360.2 183.0,360.2 182.5,360.2 182.0,360.1 181.5,360.1 181.0,360.1 180.5,360.0 180.0,360.0 179.5,360.0 179.0,359.9 178.5,359.9 178.0,359.9 177.5,359.8 177.0,359.8 176.5,359.8 176.0,359.7 175.5,359.7 175.0,359.7 174.5,359.6 174.0,359.6 173.5,359.6 173.0,359.5 172.5,359.5 172.0,359.4 171.5,359.4 171.0,359.3 170.5,359.3 170.0,359.3 169.5,359.2 169.0,359.2 168.5,359.1 168.0,359.1 167.5,359.0 167.0,358.9 166.5,358.9 166.0,358.8 165.5,358.8 165.0,358.7 164.5,358.6 164.0,358.6 163.5,358.5 163.0,358.4 162.5,358.4 162.0,358.3 161.5,358.2 161.0,358.2 160.5,358.1 160.0,358.0 159.5,358.0 159.0,357.9 158.5,357.8 158.0,357.7 157.5,357.7 157.0,357.6 156.5,357.5 156.0,357.4 155.5,357.4 155.0,357.3 154.5,357.2 154.0,357.2 153.5,357.1 153.0,357.0 152.5,356.9 152.0,356.9 151.5,356.8 151.0,356.7 150.5,356.7 150.0,356.6 149.5,356.5 149.0,356.5 148.5,356.4 148.0,356.3 147.5,356.3 147.0,356.2 146.5,356.1 146.0,356.0 145.5,356.0 145.0,355.9 144.5,355.8 144.0,355.8 143.5,355.7 143.0,355.6 142.5,355.6 142.0,355.5 141.5,355.4 141.0,355.3 140.5,355.3 140.0,355.2 139.5,355.1 139.0,355.1 138.5,355.0 138.0,354.9 137.5,354.9 137.0,354.8 136.5,354.7 136.0,354.6 135.5,354.6 135.0,354.5 134.5,354.4 134.0,354.4 133.5,354.3 133.0,354.2 132.5,354.2 132.0,354.1 131.5,354.0 131.0,354.0 130.5,353.9 130.0,353.8 129.5,353.8 129.0,353.7 128.5,353.6 128.0,353.5 127.5,353.5 127.0,353.4 126.5,353.3 126.0,353.3 125.5,353.2 125.0,353.1 124.5,353.0 124.0,353.0 123.5,352.9 123.0,352.8 122.5,352.7 122.0,352.6 121.5,352.5 121.0,352.5 120.5,352.4 120.0,352.3 119.5,352.2 119.0,352.1 118.5,352.0 118.0,351.9 117.5,351.8 117.0,351.8 116.5,351.7 116.0,351.6 115.5,351.5 115.0,351.4 114.5,351.3 114.0,351.2 113.5,351.1 113.0,351.0 112.5,350.9 112.0,350.8 111.5,350.7 111.0,350.6 110.5,350.5 110.0,350.4 109.5,350.3 109.0,350.2 108.5,350.1 108.0,350.0 107.5,349.9 107.0,349.8 106.5,349.6 106.0,349.5 105.5,349.4 105.0,349.3 104.5,349.2 104.0,349.1 103.5,348.9 103.0,348.8 102.5,348.7 102.0,348.5 101.5,348.4 101.0,348.3 100.5,348.1 100.0,348.0 99.5,347.9 99.0,347.7 98.5,347.6 98.0,347.5 97.5,347.3 97.0,347.2 96.5,347.1 96.0,346.9 95.5,346.8 95.0,346.7 94.5,346.5 94.0,346.4 93.5,346.3 93.0,346.2 92.5,346.0 92.0,345.9 91.5,345.8 91.0,345.7 90.5,345.6 90.0,345.5 89.5,345.4 89.0,345.3 88.5,345.2 88.0,345.1 87.5,345.0 87.0,344.9 86.5,344.8 86.0,344.7 85.5,344.6 85.0,344.5 84.5,344.4 84.0,344.4 83.5,344.3 83.0,344.2 82.5,344.1 82.0,344.0 81.5,343.9 81.0,343.8 80.5,343.7 80.0,343.7 79.5,343.6 79.0,343.5 78.5,343.4 78.0,343.3 77.5,343.2 77.0,343.2 76.5,343.1 76.0,343.0 75.5,342.9 75.0,342.8 74.5,342.8 74.0,342.7 73.5,342.6 73.0,342.5 72.5,342.4 72.0,342.4 71.5,342.3 71.0,342.2 70.5,342.1 70.0,342.1 69.5,342.0 69.0,341.9 68.5,341.8 68.0,341.8 67.5,341.7 67.0,341.6 66.5,341.5 66.0,341.5 65.5,341.4 65.0,341.3 64.5,341.2 64.0,341.2 63.5,341.1 63.0,341.0 62.5,340.9 62.0,340.9 61.5,340.8 61.0,340.7 60.5,340.6 60.0,340.6 59.5,340.5 59.0,340.4 58.5,340.3 58.0,340.3 57.5,340.2 57.0,340.1 56.5,340.0 56.0,340.0 55.5,339.9 55.0,339.8 54.5,339.7 54.0,339.6 53.5,339.6 53.0,339.5 52.5,339.4 52.0,339.3 51.5,339.2 51.0,339.2 50.5,339.1 50.0,339.0 49.5,338.9 49.0,338.8 48.5,338.8 48.0,338.7 47.5,338.6 47.0,338.5 46.5,338.4 46.0,338.3 45.5,338.3 45.0,338.2 44.5,338.1 44.0,338.0 43.5,337.9 43.0,337.8 42.5,337.8 42.0,337.7 41.5,337.6 41.0,337.5 40.5,337.4 40.0,337.3 39.5,337.3 39.0,337.2 38.5,337.1 38.0,337.0 37.5,336.9 37.0,336.8 36.5,336.8 36.0,336.7 35.5,336.6 35.0,336.5 34.5,336.4 34.0,336.3 33.5,336.3 33.0,336.2 32.5,336.1 32.0,336.0 31.5,335.9 31.0,335.8 30.5,335.8 30.0,335.7 29.5,335.6 29.0,335.5 28.5,335.4 28.0,335.3 27.5,335.3 27.0,335.2 26.5,335.1 26.0,335.0 25.5,334.9 25.0,334.8 24.5,334.8 24.0,334.7 23.5,334.6 23.0,334.5 22.5,334.4 22.0,334.3 21.5,334.3 21.0,334.2 20.5,334.1 20.0,334.0" fill="#5B76FD"/>
<polygon points="20.0,295.6 20.5,295.6 21.0,295.5 21.5,295.5 22.0,295.4 22.5,295.4 23.0,295.3 23.5,295.3 24.0,295.2 24.5,295.2 25.0,295.1 25.5,295.1 26.0,295.0 26.5,295.0 27.0,294.9 27.5,294.9 28.0,294.9 28.5,294.8 29.0,294.7 29.5,294.7 30.0,294.6 30.5,294.6 31.0,294.5 31.5,294.5 32.0,294.4 32.5,294.4 33.0,294.3 33.5,294.3 34.0,294.2 34.5,294.2 35.0,294.1 35.5,294.1 36.0,294.0 36.5,294.0 37.0,293.9 37.5,293.8 38.0,293.8 38.5,293.7 39.0,293.7 39.5,293.6 40.0,293.6 40.5,293.5 41.0,293.4 41.5,293.4 42.0,293.3 42.5,293.3 43.0,293.2 43.5,293.1 44.0,293.1 44.5,293.0 45.0,293.0 45.5,292.9 46.0,292.8 46.5,292.8 47.0,292.7 47.5,292.7 48.0,292.6 48.5,292.5 49.0,292.5 49.5,292.4 50.0,292.3 50.5,292.3 51.0,292.2 51.5,292.1 52.0,292.1 52.5,292.0 53.0,291.9 53.5,291.8 54.0,291.8 54.5,291.7 55.0,291.6 55.5,291.6 56.0,291.5 56.5,291.4 57.0,291.3 57.5,291.3 58.0,291.2 58.5,291.1 59.0,291.0 59.5,290.9 60.0,290.9 60.5,290.8 61.0,290.7 61.5,290.6 62.0,290.6 62.5,290.5 63.0,290.4 63.5,290.3 64.0,290.3 64.5,290.2 65.0,290.1 65.5,290.0 66.0,289.9 66.5,289.9 67.0,289.8 67.5,289.7 68.0,289.6 68.5,289.6 69.0,289.5 69.5,289.4 70.0,289.3 70.5,289.2 71.0,289.2 71.5,289.1 72.0,289.0 72.5,288.9 73.0,288.9 73.5,288.8 74.0,288.7 74.5,288.6 75.0,288.6 75.5,288.5 76.0,288.4 76.5,288.4 77.0,288.3 77.5,288.2 78.0,288.2 78.5,288.1 79.0,288.0 79.5,288.0 80.0,287.9 80.5,287.8 81.0,287.8 81.5,287.7 82.0,287.7 82.5,287.6 83.0,287.5 83.5,287.5 84.0,287.4 84.5,287.4 85.0,287.3 85.5,287.3 86.0,287.2 86.5,287.1 87.0,287.1 87.5,287.0 88.0,286.9 88.5,286.9 89.0,286.8 89.5,286.7 90.0,286.7 90.5,286.6 91.0,286.5 91.5,286.4 92.0,286.3 92.5,286.3 93.0,286.2 93.5,286.1 94.0,286.0 94.5,285.9 95.0,285.8 95.5,285.7 96.0,285.6 96.5,285.4 97.0,285.3 97.5,285.2 98.0,285.0 98.5,284.8 99.0,284.7 99.5,284.5 100.0,284.3 100.5,284.2 101.0,284.0 101.5,283.8 102.0,283.6 102.5,283.5 103.0,283.3 103.5,283.1 104.0,282.9 104.5,282.7 105.0,282.5 105.5,282.3 106.0,282.1 106.5,281.9 107.0,281.7 107.5,281.5 108.0,281.3 108.5,281.2 109.0,281.0 109.5,280.9 110.0,280.7 110.5,280.6 111.0,280.5 111.5,280.3 112.0,280.2 112.5,280.1 113.0,280.0 113.5,279.8 114.0,279.7 114.5,279.6 115.0,279.6 115.5,279.5 116.0,279.4 116.5,279.4 117.0,279.3 117.5,279.3 118.0,279.2 118.5,279.2 119.0,279.2 119.5,279.2 120.0,279.1 120.5,279.1 121.0,279.1 121.5,279.1 122.0,279.0 122.5,279.0 123.0,279.0 123.5,279.0 124.0,279.0 124.5,279.0 125.0,279.0 125.5,279.0 126.0,279.1 126.5,279.2 127.0,279.2 127.5,279.3 128.0,279.4 128.5,279.6 129.0,279.7 129.5,279.8 130.0,280.0 130.5,280.1 131.0,280.3 131.5,280.5 132.0,280.7 132.5,280.9 133.0,281.2 133.5,281.6 134.0,282.0 134.5,282.5 135.0,283.0 135.5,283.5 136.0,284.1 136.5,284.7 137.0,285.4 137.5,286.3 138.0,287.3 138.5,288.2 139.0,289.2 139.5,290.1 140.0,291.0 140.5,292.0 141.0,293.0 141.5,294.0 142.0,295.3 142.5,296.7 143.0,298.4 143.5,300.2 144.0,302.1 144.5,304.0 145.0,305.9 145.5,307.7 146.0,309.5 146.5,311.4 147.0,313.2 147.5,315.0 148.0,316.7 148.5,318.4 149.0,319.9 149.5,321.4 150.0,322.8 150.5,324.2 151.0,325.5 151.5,326.8 152.0,328.0 152.5,329.2 153.0,330.3 153.5,331.3 154.0,332.3 154.5,333.3 155.0,334.3 155.5,335.2 156.0,336.1 156.5,337.0 157.0,337.9 157.5,338.8 158.0,339.6 158.5,340.4 159.0,341.2 159.5,342.0 160.0,342.8 160.5,343.6 161.0,344.4 161.5,345.2 162.0,345.9 162.5,346.5 163.0,347.1 163.5,347.7 164.0,348.3 164.5,348.8 165.0,349.3 165.5,349.8 166.0,350.3 166.5,350.8 167.0,351.2 167.5,351.6 168.0,352.0 168.5,352.4 169.0,352.7 169.5,353.1 170.0,353.4 170.5,353.8 171.0,354.1 171.5,354.4 172.0,354.7 172.5,355.0 173.0,355.2 173.5,355.5 174.0,355.8 174.5,356.0 175.0,356.2 175.5,356.5 176.0,356.7 176.5,356.9 177.0,357.1 177.5,357.3 178.0,357.5 178.5,357.7 179.0,357.9 179.5,358.0 180.0,358.2 180.5,358.4 181.0,358.5 181.5,358.7 182.0,358.8 182.5,359.0 183.0,359.1 183.5,359.2 184.0,359.4 184.5,359.5 185.0,359.6 185.5,359.7 186.0,359.9 186.5,360.0 187.0,360.1 187.5,360.2 188.0,360.2 188.5,360.3 189.0,360.4 189.5,360.5 190.0,360.5 190.5,360.6 191.0,360.6 191.5,360.7 192.0,360.8 192.5,360.8 193.0,360.9 193.5,360.9 194.0,361.0 194.5,361.0 195.0,361.1 195.5,361.1 196.0,361.2 196.5,361.2 197.0,361.3 197.5,361.3 198.0,361.4 198.5,361.4 199.0,361.4 199.5,361.5 200.0,361.5 200.5,361.6 201.0,361.6 201.5,361.6 202.0,361.7 202.5,361.7 203.0,361.7 203.5,361.8 204.0,361.8 204.5,361.8 205.0,361.9 205.5,361.9 206.0,361.9 206.5,362.0 207.0,362.0 207.5,362.0 208.0,362.1 208.5,362.1 209.0,362.1 209.5,362.2 210.0,362.2 210.5,362.2 211.0,362.3 211.5,362.3 212.0,362.3 212.5,362.4 213.0,362.4 213.5,362.4 214.0,362.5 214.5,362.5 215.0,362.5 215.5,362.5 216.0,362.6 216.5,362.6 217.0,362.6 217.5,362.6 218.0,362.7 218.5,362.7 219.0,362.7 219.5,362.7 220.0,362.8 220.5,362.8 221.0,362.8 221.5,362.8 222.0,362.9 222.5,362.9 223.0,362.9 223.5,362.9 224.0,362.9 224.5,363.0 225.0,363.0 225.5,363.0 226.0,363.0 226.5,363.0 227.0,363.1 227.5,363.1 228.0,363.1 228.5,363.1 228.5,363.3 228.0,363.3 227.5,363.3 227.0,363.3 226.5,363.2 226.0,363.2 225.5,363.2 225.0,363.2 224.5,363.2 224.0,363.1 223.5,363.1 223.0,363.1 222.5,363.1 222.0,363.1 221.5,363.0 221.0,363.0 220.5,363.0 220.0,363.0 219.5,362.9 219.0,362.9 218.5,362.9 218.0,362.9 217.5,362.8 217.0,362.8 216.5,362.8 216.0,362.8 215.5,362.7 215.0,362.7 214.5,362.7 214.0,362.6 213.5,362.6 213.0,362.6 212.5,362.6 212.0,362.5 211.5,362.5 211.0,362.5 210.5,362.4 210.0,362.4 209.5,362.4 209.0,362.3 208.5,362.3 208.0,362.3 207.5,362.2 207.0,362.2 206.5,362.2 206.0,362.1 205.5,362.1 205.0,362.1 204.5,362.0 204.0,362.0 203.5,362.0 203.0,361.9 202.5,361.9 202.0,361.8 201.5,361.8 201.0,361.7 200.5,361.7 200.0,361.7 199.5,361.6 199.0,361.6 198.5,361.5 198.0,361.5 197.5,361.4 197.0,361.4 196.5,361.3 196.0,361.3 195.5,361.2 195.0,361.2 194.5,361.1 194.0,361.1 193.5,361.0 193.0,361.0 192.5,361.0 192.0,360.9 191.5,360.9 191.0,360.8 190.5,360.8 190.0,360.7 189.5,360.7 189.0,360.6 188.5,360.6 188.0,360.6 187.5,360.5 187.0,360.5 186.5,360.5 186.0,360.4 185.5,360.4 185.0,360.3 184.5,360.3 184.0,360.3 183.5,360.2 183.0,360.2 182.5,360.2 182.0,360.1 181.5,360.1 181.0,360.1 180.5,360.0 180.0,360.0 179.5,360.0 179.0,359.9 178.5,359.9 178.0,359.9 177.5,359.8 177.0,359.8 176.5,359.8 176.0,359.7 175.5,359.7 175.0,359.7 174.5,359.6 174.0,359.6 173.5,359.6 173.0,359.5 172.5,359.5 172.0,359.4 171.5,359.4 171.0,359.3 170.5,359.3 170.0,359.3 169.5,359.2 169.0,359.2 168.5,359.1 168.0,359.1 167.5,359.0 167.0,358.9 166.5,358.9 166.0,358.8 165.5,358.8 165.0,358.7 164.5,358.6 164.0,358.6 163.5,358.5 163.0,358.4 162.5,358.4 162.0,358.3 161.5,358.2 161.0,358.2 160.5,358.1 160.0,358.0 159.5,358.0 159.0,357.9 158.5,357.8 158.0,357.7 157.5,357.7 157.0,357.6 156.5,357.5 156.0,357.4 155.5,357.4 155.0,357.3 154.5,357.2 154.0,357.2 153.5,357.1 153.0,357.0 152.5,356.9 152.0,356.9 151.5,356.8 151.0,356.7 150.5,356.7 150.0,356.6 149.5,356.5 149.0,356.5 148.5,356.4 148.0,356.3 147.5,356.3 147.0,356.2 146.5,356.1 146.0,356.0 145.5,356.0 145.0,355.9 144.5,355.8 144.0,355.8 143.5,355.7 143.0,355.6 142.5,355.6 142.0,355.5 141.5,355.4 141.0,355.3 140.5,355.3 140.0,355.2 139.5,355.1 139.0,355.1 138.5,355.0 138.0,354.9 137.5,354.9 137.0,354.8 136.5,354.7 136.0,354.6 135.5,354.6 135.0,354.5 134.5,354.4 134.0,354.4 133.5,354.3 133.0,354.2 132.5,354.2 132.0,354.1 131.5,354.0 131.0,354.0 130.5,353.9 130.0,353.8 129.5,353.8 129.0,353.7 128.5,353.6 128.0,353.5 127.5,353.5 127.0,353.4 126.5,353.3 126.0,353.3 125.5,353.2 125.0,353.1 124.5,353.0 124.0,353.0 123.5,352.9 123.0,352.8 122.5,352.7 122.0,352.6 121.5,352.5 121.0,352.5 120.5,352.4 120.0,352.3 119.5,352.2 119.0,352.1 118.5,352.0 118.0,351.9 117.5,351.8 117.0,351.8 116.5,351.7 116.0,351.6 115.5,351.5 115.0,351.4 114.5,351.3 114.0,351.2 113.5,351.1 113.0,351.0 112.5,350.9 112.0,350.8 111.5,350.7 111.0,350.6 110.5,350.5 110.0,350.4 109.5,350.3 109.0,350.2 108.5,350.1 108.0,350.0 107.5,349.9 107.0,349.8 106.5,349.6 106.0,349.5 105.5,349.4 105.0,349.3 104.5,349.2 104.0,349.1 103.5,348.9 103.0,348.8 102.5,348.7 102.0,348.5 101.5,348.4 101.0,348.3 100.5,348.1 100.0,348.0 99.5,347.9 99.0,347.7 98.5,347.6 98.0,347.5 97.5,347.3 97.0,347.2 96.5,347.1 96.0,346.9 95.5,346.8 95.0,346.7 94.5,346.5 94.0,346.4 93.5,346.3 93.0,346.2 92.5,346.0 92.0,345.9 91.5,345.8 91.0,345.7 90.5,345.6 90.0,345.5 89.5,345.4 89.0,345.3 88.5,345.2 88.0,345.1 87.5,345.0 87.0,344.9 86.5,344.8 86.0,344.7 85.5,344.6 85.0,344.5 84.5,344.4 84.0,344.4 83.5,344.3 83.0,344.2 82.5,344.1 82.0,344.0 81.5,343.9 81.0,343.8 80.5,343.7 80.0,343.7 79.5,343.6 79.0,343.5 78.5,343.4 78.0,343.3 77.5,343.2 77.0,343.2 76.5,343.1 76.0,343.0 75.5,342.9 75.0,342.8 74.5,342.8 74.0,342.7 73.5,342.6 73.0,342.5 72.5,342.4 72.0,342.4 71.5,342.3 71.0,342.2 70.5,342.1 70.0,342.1 69.5,342.0 69.0,341.9 68.5,341.8 68.0,341.8 67.5,341.7 67.0,341.6 66.5,341.5 66.0,341.5 65.5,341.4 65.0,341.3 64.5,341.2 64.0,341.2 63.5,341.1 63.0,341.0 62.5,340.9 62.0,340.9 61.5,340.8 61.0,340.7 60.5,340.6 60.0,340.6 59.5,340.5 59.0,340.4 58.5,340.3 58.0,340.3 57.5,340.2 57.0,340.1 56.5,340.0 56.0,340.0 55.5,339.9 55.0,339.8 54.5,339.7 54.0,339.6 53.5,339.6 53.0,339.5 52.5,339.4 52.0,339.3 51.5,339.2 51.0,339.2 50.5,339.1 50.0,339.0 49.5,338.9 49.0,338.8 48.5,338.8 48.0,338.7 47.5,338.6 47.0,338.5 46.5,338.4 46.0,338.3 45.5,338.3 45.0,338.2 44.5,338.1 44.0,338.0 43.5,337.9 43.0,337.8 42.5,337.8 42.0,337.7 41.5,337.6 41.0,337.5 40.5,337.4 40.0,337.3 39.5,337.3 39.0,337.2 38.5,337.1 38.0,337.0 37.5,336.9 37.0,336.8 36.5,336.8 36.0,336.7 35.5,336.6 35.0,336.5 34.5,336.4 34.0,336.3 33.5,336.3 33.0,336.2 32.5,336.1 32.0,336.0 31.5,335.9 31.0,335.8 30.5,335.8 30.0,335.7 29.5,335.6 29.0,335.5 28.5,335.4 28.0,335.3 27.5,335.3 27.0,335.2 26.5,335.1 26.0,335.0 25.5,334.9 25.0,334.8 24.5,334.8 24.0,334.7 23.5,334.6 23.0,334.5 22.5,334.4 22.0,334.3 21.5,334.3 21.0,334.2 20.5,334.1 20.0,334.0" fill="#FDA846"/>
<polygon points="20.0,332.5 20.5,332.6 21.0,332.7 21.5,332.8 22.0,332.8 22.5,332.9 23.0,333.0 23.5,333.1 24.0,333.2 24.5,333.3 25.0,333.3 25.5,333.4 26.0,333.5 26.5,333.6 27.0,333.7 27.5,333.7 28.0,333.8 28.5,333.9 29.0,334.0 29.5,334.1 30.0,334.1 30.5,334.2 31.0,334.3 31.5,334.4 32.0,334.5 32.5,334.5 33.0,334.6 33.5,334.7 34.0,334.8 34.5,334.8 35.0,334.9 35.5,335.0 36.0,335.1 36.5,335.1 37.0,335.2 37.5,335.3 38.0,335.4 38.5,335.4 39.0,335.5 39.5,335.6 40.0,335.7 40.5,335.7 41.0,335.8 41.5,335.9 42.0,335.9 42.5,336.0 43.0,336.1 43.5,336.1 44.0,336.2 44.5,336.3 45.0,336.4 45.5,336.4 46.0,336.5 46.5,336.6 47.0,336.6 47.5,336.7 48.0,336.7 48.5,336.8 49.0,336.9 49.5,336.9 50.0,337.0 50.5,337.1 51.0,337.1 51.5,337.2 52.0,337.2 52.5,337.3 53.0,337.4 53.5,337.4 54.0,337.5 54.5,337.5 55.0,337.6 55.5,337.6 56.0,337.7 56.5,337.8 57.0,337.8 57.5,337.9 58.0,337.9 58.5,338.0 59.0,338.0 59.5,338.1 60.0,338.1 60.5,338.2 61.0,338.2 61.5,338.3 62.0,338.3 62.5,338.4 63.0,338.4 63.5,338.5 64.0,338.5 64.5,338.6 65.0,338.6 65.5,338.7 66.0,338.7 66.5,338.8 67.0,338.8 67.5,338.9 68.0,338.9 68.5,338.9 69.0,339.0 69.5,339.0 70.0,339.1 70.5,339.1 71.0,339.2 71.5,339.2 72.0,339.3 72.5,339.3 73.0,339.4 73.5,339.4 74.0,339.5 74.5,339.5 75.0,339.6 75.5,339.6 76.0,339.7 76.5,339.7 77.0,339.8 77.5,339.8 78.0,339.9 78.5,339.9 79.0,340.0 79.5,340.0 80.0,340.1 80.5,340.1 81.0,340.2 81.5,340.2 82.0,340.3 82.5,340.3 83.0,340.4 83.5,340.4 84.0,340.5 84.5,340.5 85.0,340.6 85.5,340.7 86.0,340.7 86.5,340.8 87.0,340.8 87.5,340.9 88.0,341.0 88.5,341.0 89.0,341.1 89.5,341.1 90.0,341.2 90.5,341.3 91.0,341.3 91.5,341.4 92.0,341.5 92.5,341.6 93.0,341.6 93.5,341.7 94.0,341.8 94.5,341.9 95.0,342.0 95.5,342.0 96.0,342.1 96.5,342.2 97.0,342.3 97.5,342.4 98.0,342.5 98.5,342.5 99.0,342.6 99.5,342.7 100.0,342.8 100.5,342.9 101.0,343.0 101.5,343.0 102.0,343.1 102.5,343.2 103.0,343.3 103.5,343.4 104.0,343.4 104.5,343.5 105.0,343.6 105.5,343.6 106.0,343.7 106.5,343.7 107.0,343.8 107.5,343.8 108.0,343.9 108.5,343.9 109.0,344.0 109.5,344.0 110.0,344.1 110.5,344.1 111.0,344.2 111.5,344.2 112.0,344.3 112.5,344.3 113.0,344.4 113.5,344.4 114.0,344.5 114.5,344.5 115.0,344.5 115.5,344.6 116.0,344.6 116.5,344.7 117.0,344.7 117.5,344.7 118.0,344.8 118.5,344.8 119.0,344.8 119.5,344.9 120.0,344.9 120.5,344.9 121.0,344.9 121.5,345.0 122.0,345.0 122.5,345.0 123.0,345.0 123.5,345.0 124.0,345.0 124.5,345.0 125.0,345.0 125.5,345.0 126.0,345.0 126.5,345.0 127.0,345.0 127.5,345.0 128.0,344.9 128.5,344.9 129.0,344.9 129.5,344.9 130.0,344.9 130.5,344.8 131.0,344.8 131.5,344.8 132.0,344.8 132.5,344.7 133.0,344.7 133.5,344.7 134.0,344.7 134.5,344.6 135.0,344.6 135.5,344.6 136.0,344.5 136.5,344.5 137.0,344.4 137.5,344.3 138.0,344.3 138.5,344.2 139.0,344.1 139.5,344.0 140.0,343.9 140.5,343.8 141.0,343.7 141.5,343.6 142.0,343.5 142.5,343.4 143.0,343.2 143.5,343.1 144.0,343.0 144.5,342.9 145.0,342.7 145.5,342.6 146.0,342.4 146.5,342.3 147.0,342.1 147.5,341.9 148.0,341.7 148.5,341.5 149.0,341.3 149.5,341.1 150.0,340.8 150.5,340.6 151.0,340.3 151.5,340.1 152.0,339.8 152.5,339.5 153.0,339.2 153.5,338.8 154.0,338.4 154.5,338.0 155.0,337.6 155.5,337.1 156.0,336.7 156.5,337.0 157.0,337.9 157.5,338.8 158.0,339.6 158.5,340.4 159.0,341.2 159.5,342.0 160.0,342.8 160.5,343.6 161.0,344.4 161.5,345.2 162.0,345.9 162.5,346.5 163.0,347.1 163.5,347.7 164.0,348.3 164.5,348.8 165.0,349.3 165.5,349.8 166.0,350.3 166.5,350.8 167.0,351.2 167.5,351.6 168.0,352.0 168.5,352.4 169.0,352.7 169.5,353.1 170.0,353.4 170.5,353.8 171.0,354.1 171.5,354.4 172.0,354.7 172.5,355.0 173.0,355.2 173.5,355.5 174.0,355.8 174.5,356.0 175.0,356.2 175.5,356.5 176.0,356.7 176.5,356.9 177.0,357.1 177.5,357.3 178.0,357.5 178.5,357.7 179.0,357.9 179.5,358.0 180.0,358.2 180.5,358.4 181.0,358.5 181.5,358.7 182.0,358.8 182.5,359.0 183.0,359.1 183.5,359.2 184.0,359.4 184.5,359.5 185.0,359.6 185.5,359.7 186.0,359.9 186.5,360.0 187.0,360.1 187.5,360.2 188.0,360.2 188.5,360.3 189.0,360.4 189.5,360.5 190.0,360.5 190.5,360.6 191.0,360.6 191.5,360.7 192.0,360.8 192.5,360.8 193.0,360.9 193.5,360.9 194.0,361.0 194.5,361.0 195.0,361.1 195.5,361.1 196.0,361.2 196.5,361.2 197.0,361.3 197.5,361.3 198.0,361.4 198.5,361.4 199.0,361.4 199.5,361.5 200.0,361.5 200.5,361.6 201.0,361.6 201.5,361.6 202.0,361.7 202.5,361.7 203.0,361.7 203.5,361.8 204.0,361.8 204.5,361.8 205.0,361.9 205.5,361.9 206.0,361.9 206.5,362.0 207.0,362.0 207.5,362.0 208.0,362.1 208.5,362.1 209.0,362.1 209.5,362.2 210.0,362.2 210.5,362.2 211.0,362.3 211.5,362.3 212.0,362.3 212.5,362.4 213.0,362.4 213.5,362.4 214.0,362.5 214.5,362.5 215.0,362.5 215.5,362.5 216.0,362.6 216.5,362.6 217.0,362.6 217.5,362.6 218.0,362.7 218.5,362.7 219.0,362.7 219.5,362.7 220.0,362.8 220.5,362.8 221.0,362.8 221.5,362.8 222.0,362.9 222.5,362.9 223.0,362.9 223.5,362.9 224.0,362.9 224.5,363.0 225.0,363.0 225.5,363.0 226.0,363.0 226.5,363.0 227.0,363.1 227.5,363.1 228.0,363.1 228.5,363.1 228.5,363.3 228.0,363.3 227.5,363.3 227.0,363.3 226.5,363.2 226.0,363.2 225.5,363.2 225.0,363.2 224.5,363.2 224.0,363.1 223.5,363.1 223.0,363.1 222.5,363.1 222.0,363.1 221.5,363.0 221.0,363.0 220.5,363.0 220.0,363.0 219.5,362.9 219.0,362.9 218.5,362.9 218.0,362.9 217.5,362.8 217.0,362.8 216.5,362.8 216.0,362.8 215.5,362.7 215.0,362.7 214.5,362.7 214.0,362.6 213.5,362.6 213.0,362.6 212.5,362.6 212.0,362.5 211.5,362.5 211.0,362.5 210.5,362.4 210.0,362.4 209.5,362.4 209.0,362.3 208.5,362.3 208.0,362.3 207.5,362.2 207.0,362.2 206.5,362.2 206.0,362.1 205.5,362.1 205.0,362.1 204.5,362.0 204.0,362.0 203.5,362.0 203.0,361.9 202.5,361.9 202.0,361.8 201.5,361.8 201.0,361.7 200.5,361.7 200.0,361.7 199.5,361.6 199.0,361.6 198.5,361.5 198.0,361.5 197.5,361.4 197.0,361.4 196.5,361.3 196.0,361.3 195.5,361.2 195.0,361.2 194.5,361.1 194.0,361.1 193.5,361.0 193.0,361.0 192.5,361.0 192.0,360.9 191.5,360.9 191.0,360.8 190.5,360.8 190.0,360.7 189.5,360.7 189.0,360.6 188.5,360.6 188.0,360.6 187.5,360.5 187.0,360.5 186.5,360.5 186.0,360.4 185.5,360.4 185.0,360.3 184.5,360.3 184.0,360.3 183.5,360.2 183.0,360.2 182.5,360.2 182.0,360.1 181.5,360.1 181.0,360.1 180.5,360.0 180.0,360.0 179.5,360.0 179.0,359.9 178.5,359.9 178.0,359.9 177.5,359.8 177.0,359.8 176.5,359.8 176.0,359.7 175.5,359.7 175.0,359.7 174.5,359.6 174.0,359.6 173.5,359.6 173.0,359.5 172.5,359.5 172.0,359.4 171.5,359.4 171.0,359.3 170.5,359.3 170.0,359.3 169.5,359.2 169.0,359.2 168.5,359.1 168.0,359.1 167.5,359.0 167.0,358.9 166.5,358.9 166.0,358.8 165.5,358.8 165.0,358.7 164.5,358.6 164.0,358.6 163.5,358.5 163.0,358.4 162.5,358.4 162.0,358.3 161.5,358.2 161.0,358.2 160.5,358.1 160.0,358.0 159.5,358.0 159.0,357.9 158.5,357.8 158.0,357.7 157.5,357.7 157.0,357.6 156.5,357.5 156.0,357.4 155.5,357.4 155.0,357.3 154.5,357.2 154.0,357.2 153.5,357.1 153.0,357.0 152.5,356.9 152.0,356.9 151.5,356.8 151.0,356.7 150.5,356.7 150.0,356.6 149.5,356.5 149.0,356.5 148.5,356.4 148.0,356.3 147.5,356.3 147.0,356.2 146.5,356.1 146.0,356.0 145.5,356.0 145.0,355.9 144.5,355.8 144.0,355.8 143.5,355.7 143.0,355.6 142.5,355.6 142.0,355.5 141.5,355.4 141.0,355.3 140.5,355.3 140.0,355.2 139.5,355.1 139.0,355.1 138.5,355.0 138.0,354.9 137.5,354.9 137.0,354.8 136.5,354.7 136.0,354.6 135.5,354.6 135.0,354.5 134.5,354.4 134.0,354.4 133.5,354.3 133.0,354.2 132.5,354.2 132.0,354.1 131.5,354.0 131.0,354.0 130.5,353.9 130.0,353.8 129.5,353.8 129.0,353.7 128.5,353.6 128.0,353.5 127.5,353.5 127.0,353.4 126.5,353.3 126.0,353.3 125.5,353.2 125.0,353.1 124.5,353.0 124.0,353.0 123.5,352.9 123.0,352.8 122.5,352.7 122.0,352.6 121.5,352.5 121.0,352.5 120.5,352.4 120.0,352.3 119.5,352.2 119.0,352.1 118.5,352.0 118.0,351.9 117.5,351.8 117.0,351.8 116.5,351.7 116.0,351.6 115.5,351.5 115.0,351.4 114.5,351.3 114.0,351.2 113.5,351.1 113.0,351.0 112.5,350.9 112.0,350.8 111.5,350.7 111.0,350.6 110.5,350.5 110.0,350.4 109.5,350.3 109.0,350.2 108.5,350.1 108.0,350.0 107.5,349.9 107.0,349.8 106.5,349.6 106.0,349.5 105.5,349.4 105.0,349.3 104.5,349.2 104.0,349.1 103.5,348.9 103.0,348.8 102.5,348.7 102.0,348.5 101.5,348.4 101.0,348.3 100.5,348.1 100.0,348.0 99.5,347.9 99.0,347.7 98.5,347.6 98.0,347.5 97.5,347.3 97.0,347.2 96.5,347.1 96.0,346.9 95.5,346.8 95.0,346.7 94.5,346.5 94.0,346.4 93.5,346.3 93.0,346.2 92.5,346.0 92.0,345.9 91.5,345.8 91.0,345.7 90.5,345.6 90.0,345.5 89.5,345.4 89.0,345.3 88.5,345.2 88.0,345.1 87.5,345.0 87.0,344.9 86.5,344.8 86.0,344.7 85.5,344.6 85.0,344.5 84.5,344.4 84.0,344.4 83.5,344.3 83.0,344.2 82.5,344.1 82.0,344.0 81.5,343.9 81.0,343.8 80.5,343.7 80.0,343.7 79.5,343.6 79.0,343.5 78.5,343.4 78.0,343.3 77.5,343.2 77.0,343.2 76.5,343.1 76.0,343.0 75.5,342.9 75.0,342.8 74.5,342.8 74.0,342.7 73.5,342.6 73.0,342.5 72.5,342.4 72.0,342.4 71.5,342.3 71.0,342.2 70.5,342.1 70.0,342.1 69.5,342.0 69.0,341.9 68.5,341.8 68.0,341.8 67.5,341.7 67.0,341.6 66.5,341.5 66.0,341.5 65.5,341.4 65.0,341.3 64.5,341.2 64.0,341.2 63.5,341.1 63.0,341.0 62.5,340.9 62.0,340.9 61.5,340.8 61.0,340.7 60.5,340.6 60.0,340.6 59.5,340.5 59.0,340.4 58.5,340.3 58.0,340.3 57.5,340.2 57.0,340.1 56.5,340.0 56.0,340.0 55.5,339.9 55.0,339.8 54.5,339.7 54.0,339.6 53.5,339.6 53.0,339.5 52.5,339.4 52.0,339.3 51.5,339.2 51.0,339.2 50.5,339.1 50.0,339.0 49.5,338.9 49.0,338.8 48.5,338.8 48.0,338.7 47.5,338.6 47.0,338.5 46.5,338.4 46.0,338.3 45.5,338.3 45.0,338.2 44.5,338.1 44.0,338.0 43.5,337.9 43.0,337.8 42.5,337.8 42.0,337.7 41.5,337.6 41.0,337.5 40.5,337.4 40.0,337.3 39.5,337.3 39.0,337.2 38.5,337.1 38.0,337.0 37.5,336.9 37.0,336.8 36.5,336.8 36.0,336.7 35.5,336.6 35.0,336.5 34.5,336.4 34.0,336.3 33.5,336.3 33.0,336.2 32.5,336.1 32.0,336.0 31.5,335.9 31.0,335.8 30.5,335.8 30.0,335.7 29.5,335.6 29.0,335.5 28.5,335.4 28.0,335.3 27.5,335.3 27.0,335.2 26.5,335.1 26.0,335.0 25.5,334.9 25.0,334.8 24.5,334.8 24.0,334.7 23.5,334.6 23.0,334.5 22.5,334.4 22.0,334.3 21.5,334.3 21.0,334.2 20.5,334.1 20.0,334.0" fill="#E37E49"/>
<polyline points="20.0,295.6 20.5,295.6 21.0,295.5 21.5,295.5 22.0,295.4 22.5,295.4 23.0,295.3 23.5,295.3 24.0,295.2 24.5,295.2 25.0,295.1 25.5,295.1 26.0,295.0 26.5,295.0 27.0,294.9 27.5,294.9 28.0,294.9 28.5,294.8 29.0,294.7 29.5,294.7 30.0,294.6 30.5,294.6 31.0,294.5 31.5,294.5 32.0,294.4 32.5,294.4 33.0,294.3 33.5,294.3 34.0,294.2 34.5,294.2 35.0,294.1 35.5,294.1 36.0,294.0 36.5,294.0 37.0,293.9 37.5,293.8 38.0,293.8 38.5,293.7 39.0,293.7 39.5,293.6 40.0,293.6 40.5,293.5 41.0,293.4 41.5,293.4 42.0,293.3 42.5,293.3 43.0,293.2 43.5,293.1 44.0,293.1 44.5,293.0 45.0,293.0 45.5,292.9 46.0,292.8 46.5,292.8 47.0,292.7 47.5,292.7 48.0,292.6 48.5,292.5 49.0,292.5 49.5,292.4 50.0,292.3 50.5,292.3 51.0,292.2 51.5,292.1 52.0,292.1 52.5,292.0 53.0,291.9 53.5,291.8 54.0,291.8 54.5,291.7 55.0,291.6 55.5,291.6 56.0,291.5 56.5,291.4 57.0,291.3 57.5,291.3 58.0,291.2 58.5,291.1 59.0,291.0 59.5,290.9 60.0,290.9 60.5,290.8 61.0,290.7 61.5,290.6 62.0,290.6 62.5,290.5 63.0,290.4 63.5,290.3 64.0,290.3 64.5,290.2 65.0,290.1 65.5,290.0 66.0,289.9 66.5,289.9 67.0,289.8 67.5,289.7 68.0,289.6 68.5,289.6 69.0,289.5 69.5,289.4 70.0,289.3 70.5,289.2 71.0,289.2 71.5,289.1 72.0,289.0 72.5,288.9 73.0,288.9 73.5,288.8 74.0,288.7 74.5,288.6 75.0,288.6 75.5,288.5 76.0,288.4 76.5,288.4 77.0,288.3 77.5,288.2 78.0,288.2 78.5,288.1 79.0,288.0 79.5,288.0 80.0,287.9 80.5,287.8 81.0,287.8 81.5,287.7 82.0,287.7 82.5,287.6 83.0,287.5 83.5,287.5 84.0,287.4 84.5,287.4 85.0,287.3 85.5,287.3 86.0,287.2 86.5,287.1 87.0,287.1 87.5,287.0 88.0,286.9 88.5,286.9 89.0,286.8 89.5,286.7 90.0,286.7 90.5,286.6 91.0,286.5 91.5,286.4 92.0,286.3 92.5,286.3 93.0,286.2 93.5,286.1 94.0,286.0 94.5,285.9 95.0,285.8 95.5,285.7 96.0,285.6 96.5,285.4 97.0,285.3 97.5,285.2 98.0,285.0 98.5,284.8 99.0,284.7 99.5,284.5 100.0,284.3 100.5,284.2 101.0,284.0 101.5,283.8 102.0,283.6 102.5,283.5 103.0,283.3 103.5,283.1 104.0,282.9 104.5,282.7 105.0,282.5 105.5,282.3 106.0,282.1 106.5,281.9 107.0,281.7 107.5,281.5 108.0,281.3 108.5,281.2 109.0,281.0 109.5,280.9 110.0,280.7 110.5,280.6 111.0,280.5 111.5,280.3 112.0,280.2 112.5,280.1 113.0,280.0 113.5,279.8 114.0,279.7 114.5,279.6 115.0,279.6 115.5,279.5 116.0,279.4 116.5,279.4 117.0,279.3 117.5,279.3 118.0,279.2 118.5,279.2 119.0,279.2 119.5,279.2 120.0,279.1 120.5,279.1 121.0,279.1 121.5,279.1 122.0,279.0 122.5,279.0 123.0,279.0 123.5,279.0 124.0,279.0 124.5,279.0 125.0,279.0 125.5,279.0 126.0,279.1 126.5,279.2 127.0,279.2 127.5,279.3 128.0,279.4 128.5,279.6 129.0,279.7 129.5,279.8 130.0,280.0 130.5,280.1 131.0,280.3 131.5,280.5 132.0,280.7 132.5,280.9 133.0,281.2 133.5,281.6 134.0,282.0 134.5,282.5 135.0,283.0 135.5,283.5 136.0,284.1 136.5,284.7 137.0,285.4 137.5,286.3 138.0,287.3 138.5,288.2 139.0,289.2 139.5,290.1 140.0,291.0 140.5,292.0 141.0,293.0 141.5,294.0 142.0,295.3 142.5,296.7 143.0,298.4 143.5,300.2 144.0,302.1 144.5,304.0 145.0,305.9 145.5,307.7 146.0,309.5 146.5,311.4 147.0,313.2 147.5,315.0 148.0,316.7 148.5,318.4 149.0,319.9 149.5,321.4 150.0,322.8 150.5,324.2 151.0,325.5 151.5,326.8 152.0,328.0 152.5,329.2 153.0,330.3 153.5,331.3 154.0,332.3 154.5,333.3 155.0,334.3 155.5,335.2 156.0,336.1 156.5,337.0 157.0,337.9 157.5,338.8 158.0,339.6 158.5,340.4 159.0,341.2 159.5,342.0 160.0,342.8 160.5,343.6 161.0,344.4 161.5,345.2 162.0,345.9 162.5,346.5 163.0,347.1 163.5,347.7 164.0,348.3 164.5,348.8 165.0,349.3 165.5,349.8 166.0,350.3 166.5,350.8 167.0,351.2 167.5,351.6 168.0,352.0 168.5,352.4 169.0,352.7 169.5,353.1 170.0,353.4 170.5,353.8 171.0,354.1 171.5,354.4 172.0,354.7 172.5,355.0 173.0,355.2 173.5,355.5 174.0,355.8 174.5,356.0 175.0,356.2 175.5,356.5 176.0,356.7 176.5,356.9 177.0,357.1 177.5,357.3 178.0,357.5 178.5,357.7 179.0,357.9 179.5,358.0 180.0,358.2 180.5,358.4 181.0,358.5 181.5,358.7 182.0,358.8 182.5,359.0 183.0,359.1 183.5,359.2 184.0,359.4 184.5,359.5 185.0,359.6 185.5,359.7 186.0,359.9 186.5,360.0 187.0,360.1 187.5,360.2 188.0,360.2 188.5,360.3 189.0,360.4 189.5,360.5 190.0,360.5 190.5,360.6 191.0,360.6 191.5,360.7 192.0,360.8 192.5,360.8 193.0,360.9 193.5,360.9 194.0,361.0 194.5,361.0 195.0,361.1 195.5,361.1 196.0,361.2 196.5,361.2 197.0,361.3 197.5,361.3 198.0,361.4 198.5,361.4 199.0,361.4 199.5,361.5 200.0,361.5 200.5,361.6 201.0,361.6 201.5,361.6 202.0,361.7 202.5,361.7 203.0,361.7 203.5,361.8 204.0,361.8 204.5,361.8 205.0,361.9 205.5,361.9 206.0,361.9 206.5,362.0 207.0,362.0 207.5,362.0 208.0,362.1 208.5,362.1 209.0,362.1 209.5,362.2 210.0,362.2 210.5,362.2 211.0,362.3 211.5,362.3 212.0,362.3 212.5,362.4 213.0,362.4 213.5,362.4 214.0,362.5 214.5,362.5 215.0,362.5 215.5,362.5 216.0,362.6 216.5,362.6 217.0,362.6 217.5,362.6 218.0,362.7 218.5,362.7 219.0,362.7 219.5,362.7 220.0,362.8 220.5,362.8 221.0,362.8 221.5,362.8 222.0,362.9 222.5,362.9 223.0,362.9 223.5,362.9 224.0,362.9 224.5,363.0 225.0,363.0 225.5,363.0 226.0,363.0 226.5,363.0 227.0,363.1 227.5,363.1 228.0,363.1 228.5,363.1" fill="none" stroke="#FF8A1C" stroke-width="1.4"/>
<polyline points="20.0,295.0 20.5,295.0 21.0,294.9 21.5,294.9 22.0,294.8 22.5,294.8 23.0,294.8 23.5,294.7 24.0,294.7 24.5,294.6 25.0,294.6 25.5,294.5 26.0,294.5 26.5,294.5 27.0,294.4 27.5,294.4 28.0,294.3 28.5,294.3 29.0,294.2 29.5,294.2 30.0,294.1 30.5,294.1 31.0,294.0 31.5,294.0 32.0,293.9 32.5,293.9 33.0,293.8 33.5,293.8 34.0,293.7 34.5,293.7 35.0,293.6 35.5,293.6 36.0,293.5 36.5,293.4 37.0,293.4 37.5,293.3 38.0,293.3 38.5,293.2 39.0,293.2 39.5,293.1 40.0,293.1 40.5,293.0 41.0,292.9 41.5,292.9 42.0,292.8 42.5,292.8 43.0,292.7 43.5,292.6 44.0,292.6 44.5,292.5 45.0,292.5 45.5,292.4 46.0,292.3 46.5,292.3 47.0,292.2 47.5,292.1 48.0,292.1 48.5,292.0 49.0,292.0 49.5,291.9 50.0,291.8 50.5,291.8 51.0,291.7 51.5,291.6 52.0,291.6 52.5,291.5 53.0,291.4 53.5,291.4 54.0,291.3 54.5,291.2 55.0,291.1 55.5,291.1 56.0,291.0 56.5,290.9 57.0,290.9 57.5,290.8 58.0,290.7 58.5,290.6 59.0,290.6 59.5,290.5 60.0,290.4 60.5,290.3 61.0,290.3 61.5,290.2 62.0,290.1 62.5,290.0 63.0,289.9 63.5,289.9 64.0,289.8 64.5,289.7 65.0,289.6 65.5,289.5 66.0,289.4 66.5,289.4 67.0,289.3 67.5,289.2 68.0,289.1 68.5,289.0 69.0,288.9 69.5,288.8 70.0,288.8 70.5,288.7 71.0,288.6 71.5,288.5 72.0,288.4 72.5,288.3 73.0,288.2 73.5,288.1 74.0,288.0 74.5,287.9 75.0,287.8 75.5,287.7 76.0,287.6 76.5,287.5 77.0,287.4 77.5,287.3 78.0,287.2 78.5,287.2 79.0,287.1 79.5,287.0 80.0,286.9 80.5,286.8 81.0,286.6 81.5,286.5 82.0,286.4 82.5,286.3 83.0,286.2 83.5,286.1 84.0,286.0 84.5,285.9 85.0,285.8 85.5,285.7 86.0,285.6 86.5,285.5 87.0,285.3 87.5,285.2 88.0,285.1 88.5,285.0 89.0,284.9 89.5,284.7 90.0,284.6 90.5,284.5 91.0,284.4 91.5,284.2 92.0,284.1 92.5,284.0 93.0,283.8 93.5,283.7 94.0,283.5 94.5,283.4 95.0,283.2 95.5,283.1 96.0,282.9 96.5,282.8 97.0,282.6 97.5,282.5 98.0,282.3 98.5,282.1 99.0,281.9 99.5,281.7 100.0,281.5 100.5,281.3 101.0,281.1 101.5,280.8 102.0,280.6 102.5,280.3 103.0,280.1 103.5,279.8 104.0,279.5 104.5,279.3 105.0,279.0 105.5,278.8 106.0,278.5 106.5,278.3 107.0,278.0 107.5,277.8 108.0,277.6 108.5,277.4 109.0,277.2 109.5,277.0 110.0,276.8 110.5,276.6 111.0,276.4 111.5,276.3 112.0,276.1 112.5,275.9 113.0,275.7 113.5,275.6 114.0,275.4 114.5,275.3 115.0,275.2 115.5,275.0 116.0,274.9 116.5,274.9 117.0,274.8 117.5,274.8 118.0,274.7 118.5,274.7 119.0,274.6 119.5,274.6 120.0,274.6 120.5,274.5 121.0,274.5 121.5,274.5 122.0,274.5 122.5,274.4 123.0,274.4 123.5,274.4 124.0,274.4 124.5,274.3 125.0,274.3 125.5,274.3 126.0,274.3 126.5,274.3 127.0,274.3 127.5,274.3 128.0,274.3 128.5,274.4 129.0,274.4 129.5,274.5 130.0,274.6 130.5,274.7 131.0,274.8 131.5,275.0 132.0,275.1 132.5,275.3 133.0,275.5 133.5,275.7 134.0,275.9 134.5,276.1 135.0,276.3 135.5,276.6 136.0,276.8 136.5,277.1 137.0,277.4 137.5,277.9 138.0,278.5 138.5,279.1 139.0,279.7 139.5,280.4 140.0,281.2 140.5,281.9 141.0,282.7 141.5,283.7 142.0,284.7 142.5,285.7 143.0,286.9 143.5,288.0 144.0,289.2 144.5,290.5 145.0,291.8 145.5,293.2 146.0,294.5 146.5,295.7 147.0,297.0 147.5,298.2 148.0,299.5 148.5,300.7 149.0,301.9 149.5,303.0 150.0,304.2 150.5,305.3 151.0,306.4 151.5,307.5 152.0,308.6 152.5,309.6 153.0,310.6 153.5,311.5 154.0,312.4 154.5,313.1 155.0,313.8 155.5,314.5 156.0,315.1 156.5,315.7 157.0,316.2 157.5,316.7 158.0,317.1 158.5,317.5 159.0,317.9 159.5,318.3 160.0,318.6 160.5,318.7 161.0,318.8 161.5,318.9 162.0,318.9 162.5,318.9 163.0,319.0 163.5,319.0 164.0,319.0 164.5,319.0 165.0,318.9 165.5,318.6 166.0,318.4 166.5,318.0 167.0,317.7 167.5,317.4 168.0,317.0 168.5,316.7 169.0,316.2 169.5,315.8 170.0,315.3 170.5,314.8 171.0,314.4 171.5,313.9 172.0,313.4 172.5,312.9 173.0,312.4 173.5,311.9 174.0,311.4 174.5,310.8 175.0,310.3 175.5,309.8 176.0,309.3 176.5,308.9 177.0,308.5 177.5,308.1 178.0,307.7 178.5,307.3 179.0,306.9 179.5,306.6 180.0,306.3 180.5,306.1 181.0,306.0 181.5,306.0 182.0,306.1 182.5,306.2 183.0,306.4 183.5,306.7 184.0,306.9 184.5,307.2 185.0,307.5 185.5,307.9 186.0,308.3 186.5,308.9 187.0,309.4 187.5,310.0 188.0,310.7 188.5,311.3 189.0,312.1 189.5,312.9 190.0,313.9 190.5,314.9 191.0,315.9 191.5,317.0 192.0,318.1 192.5,319.2 193.0,320.3 193.5,321.4 194.0,322.4 194.5,323.4 195.0,324.5 195.5,325.5 196.0,326.6 196.5,327.6 197.0,328.7 197.5,329.7 198.0,330.7 198.5,331.6 199.0,332.5 199.5,333.4 200.0,334.2 200.5,335.0 201.0,335.8 201.5,336.5 202.0,337.3 202.5,338.0 203.0,338.7 203.5,339.4 204.0,340.1 204.5,340.8 205.0,341.4 205.5,342.0 206.0,342.5 206.5,343.1 207.0,343.6 207.5,344.1 208.0,344.6 208.5,345.1 209.0,345.6 209.5,346.0 210.0,346.5 210.5,346.9 211.0,347.3 211.5,347.8 212.0,348.2 212.5,348.5 213.0,348.9 213.5,349.3 214.0,349.6 214.5,349.9 215.0,350.2 215.5,350.5 216.0,350.7 216.5,350.9 217.0,351.1 217.5,351.3 218.0,351.5 218.5,351.7 219.0,351.9 219.5,352.0 220.0,352.2 220.5,352.3 221.0,352.5 221.5,352.6 222.0,352.7 222.5,352.9 223.0,353.0 223.5,353.2 224.0,353.4 224.5,353.5 225.0,353.7 225.5,353.9 226.0,354.1 226.5,354.4 227.0,354.6 227.5,354.8 228.0,355.1 228.5,355.3" fill="none" stroke="#F5333A" stroke-width="1.6"/>
<polyline points="156.5,336.2 157.0,335.7 157.5,335.2 158.0,334.7 158.5,334.2 159.0,333.5 159.5,332.9 160.0,332.2 160.5,331.5 161.0,330.8 161.5,330.1 162.0,329.3 162.5,328.5 163.0,327.8 163.5,327.0 164.0,326.2 164.5,325.4 165.0,324.6 165.5,323.8 166.0,322.9 166.5,322.0 167.0,321.2 167.5,320.3 168.0,319.5 168.5,318.7 169.0,317.9 169.5,317.2 170.0,316.5 170.5,315.8 171.0,315.1 171.5,314.5 172.0,313.9 172.5,313.3 173.0,312.7 173.5,312.1 174.0,311.5 174.5,311.0 175.0,310.4 175.5,309.9 176.0,309.3 176.5,308.8 177.0,308.3 177.5,307.9 178.0,307.6 178.5,307.3 179.0,307.1 179.5,306.8 180.0,306.6 180.5,306.5 181.0,306.4 181.5,306.4 182.0,306.5 182.5,306.6 183.0,306.8 183.5,307.1 184.0,307.3 184.5,307.6 185.0,307.9 185.5,308.3 186.0,308.7 186.5,309.3 187.0,309.8 187.5,310.4 188.0,311.1 188.5,311.7 189.0,312.5 189.5,313.3 190.0,314.3 190.5,315.3 191.0,316.3 191.5,317.4 192.0,318.5 192.5,319.6 193.0,320.7 193.5,321.8 194.0,322.8 194.5,323.8 195.0,324.9 195.5,325.9 196.0,327.0 196.5,328.0 197.0,329.1 197.5,330.1 198.0,331.1 198.5,332.0 199.0,332.9 199.5,333.8 200.0,334.6 200.5,335.4 201.0,336.2 201.5,336.9 202.0,337.7 202.5,338.4 203.0,339.1 203.5,339.8 204.0,340.5 204.5,341.2 205.0,341.8 205.5,342.4 206.0,342.9 206.5,343.5 207.0,344.0 207.5,344.5 208.0,345.0 208.5,345.5 209.0,346.0 209.5,346.4 210.0,346.9 210.5,347.3 211.0,347.7 211.5,348.2 212.0,348.6 212.5,348.9 213.0,349.3 213.5,349.7 214.0,350.0 214.5,350.3 215.0,350.6 215.5,350.9 216.0,351.1 216.5,351.3 217.0,351.5 217.5,351.7 218.0,351.9 218.5,352.1 219.0,352.3 219.5,352.4 220.0,352.6 220.5,352.7 221.0,352.9 221.5,353.0 222.0,353.1 222.5,353.3 223.0,353.4 223.5,353.6 224.0,353.8 224.5,353.9 225.0,354.1 225.5,354.3 226.0,354.5 226.5,354.8 227.0,355.0 227.5,355.2 228.0,355.5 228.5,355.7" fill="none" stroke="#3355FF" stroke-width="1.5"/>
<polyline points="20.0,334.0 20.5,334.1 21.0,334.2 21.5,334.3 22.0,334.3 22.5,334.4 23.0,334.5 23.5,334.6 24.0,334.7 24.5,334.8 25.0,334.8 25.5,334.9 26.0,335.0 26.5,335.1 27.0,335.2 27.5,335.3 28.0,335.3 28.5,335.4 29.0,335.5 29.5,335.6 30.0,335.7 30.5,335.8 31.0,335.8 31.5,335.9 32.0,336.0 32.5,336.1 33.0,336.2 33.5,336.3 34.0,336.3 34.5,336.4 35.0,336.5 35.5,336.6 36.0,336.7 36.5,336.8 37.0,336.8 37.5,336.9 38.0,337.0 38.5,337.1 39.0,337.2 39.5,337.3 40.0,337.3 40.5,337.4 41.0,337.5 41.5,337.6 42.0,337.7 42.5,337.8 43.0,337.8 43.5,337.9 44.0,338.0 44.5,338.1 45.0,338.2 45.5,338.3 46.0,338.3 46.5,338.4 47.0,338.5 47.5,338.6 48.0,338.7 48.5,338.8 49.0,338.8 49.5,338.9 50.0,339.0 50.5,339.1 51.0,339.2 51.5,339.2 52.0,339.3 52.5,339.4 53.0,339.5 53.5,339.6 54.0,339.6 54.5,339.7 55.0,339.8 55.5,339.9 56.0,340.0 56.5,340.0 57.0,340.1 57.5,340.2 58.0,340.3 58.5,340.3 59.0,340.4 59.5,340.5 60.0,340.6 60.5,340.6 61.0,340.7 61.5,340.8 62.0,340.9 62.5,340.9 63.0,341.0 63.5,341.1 64.0,341.2 64.5,341.2 65.0,341.3 65.5,341.4 66.0,341.5 66.5,341.5 67.0,341.6 67.5,341.7 68.0,341.8 68.5,341.8 69.0,341.9 69.5,342.0 70.0,342.1 70.5,342.1 71.0,342.2 71.5,342.3 72.0,342.4 72.5,342.4 73.0,342.5 73.5,342.6 74.0,342.7 74.5,342.8 75.0,342.8 75.5,342.9 76.0,343.0 76.5,343.1 77.0,343.2 77.5,343.2 78.0,343.3 78.5,343.4 79.0,343.5 79.5,343.6 80.0,343.7 80.5,343.7 81.0,343.8 81.5,343.9 82.0,344.0 82.5,344.1 83.0,344.2 83.5,344.3 84.0,344.4 84.5,344.4 85.0,344.5 85.5,344.6 86.0,344.7 86.5,344.8 87.0,344.9 87.5,345.0 88.0,345.1 88.5,345.2 89.0,345.3 89.5,345.4 90.0,345.5 90.5,345.6 91.0,345.7 91.5,345.8 92.0,345.9 92.5,346.0 93.0,346.2 93.5,346.3 94.0,346.4 94.5,346.5 95.0,346.7 95.5,346.8 96.0,346.9 96.5,347.1 97.0,347.2 97.5,347.3 98.0,347.5 98.5,347.6 99.0,347.7 99.5,347.9 100.0,348.0 100.5,348.1 101.0,348.3 101.5,348.4 102.0,348.5 102.5,348.7 103.0,348.8 103.5,348.9 104.0,349.1 104.5,349.2 105.0,349.3 105.5,349.4 106.0,349.5 106.5,349.6 107.0,349.8 107.5,349.9 108.0,350.0 108.5,350.1 109.0,350.2 109.5,350.3 110.0,350.4 110.5,350.5 111.0,350.6 111.5,350.7 112.0,350.8 112.5,350.9 113.0,351.0 113.5,351.1 114.0,351.2 114.5,351.3 115.0,351.4 115.5,351.5 116.0,351.6 116.5,351.7 117.0,351.8 117.5,351.8 118.0,351.9 118.5,352.0 119.0,352.1 119.5,352.2 120.0,352.3 120.5,352.4 121.0,352.5 121.5,352.5 122.0,352.6 122.5,352.7 123.0,352.8 123.5,352.9 124.0,353.0 124.5,353.0 125.0,353.1 125.5,353.2 126.0,353.3 126.5,353.3 127.0,353.4 127.5,353.5 128.0,353.5 128.5,353.6 129.0,353.7 129.5,353.8 130.0,353.8 130.5,353.9 131.0,354.0 131.5,354.0 132.0,354.1 132.5,354.2 133.0,354.2 133.5,354.3 134.0,354.4 134.5,354.4 135.0,354.5 135.5,354.6 136.0,354.6 136.5,354.7 137.0,354.8 137.5,354.9 138.0,354.9 138.5,355.0 139.0,355.1 139.5,355.1 140.0,355.2 140.5,355.3 141.0,355.3 141.5,355.4 142.0,355.5 142.5,355.6 143.0,355.6 143.5,355.7 144.0,355.8 144.5,355.8 145.0,355.9 145.5,356.0 146.0,356.0 146.5,356.1 147.0,356.2 147.5,356.3 148.0,356.3 148.5,356.4 149.0,356.5 149.5,356.5 150.0,356.6 150.5,356.7 151.0,356.7 151.5,356.8 152.0,356.9 152.5,356.9 153.0,357.0 153.5,357.1 154.0,357.2 154.5,357.2 155.0,357.3 155.5,357.4 156.0,357.4 156.5,357.5 157.0,357.6 157.5,357.7 158.0,357.7 158.5,357.8 159.0,357.9 159.5,358.0 160.0,358.0 160.5,358.1 161.0,358.2 161.5,358.2 162.0,358.3 162.5,358.4 163.0,358.4 163.5,358.5 164.0,358.6 164.5,358.6 165.0,358.7 165.5,358.8 166.0,358.8 166.5,358.9 167.0,358.9 167.5,359.0 168.0,359.1 168.5,359.1 169.0,359.2 169.5,359.2 170.0,359.3 170.5,359.3 171.0,359.3 171.5,359.4 172.0,359.4 172.5,359.5 173.0,359.5 173.5,359.6 174.0,359.6 174.5,359.6 175.0,359.7 175.5,359.7 176.0,359.7 176.5,359.8 177.0,359.8 177.5,359.8 178.0,359.9 178.5,359.9 179.0,359.9 179.5,360.0 180.0,360.0 180.5,360.0 181.0,360.1 181.5,360.1 182.0,360.1 182.5,360.2 183.0,360.2 183.5,360.2 184.0,360.3 184.5,360.3 185.0,360.3 185.5,360.4 186.0,360.4 186.5,360.5 187.0,360.5 187.5,360.5 188.0,360.6 188.5,360.6 189.0,360.6 189.5,360.7 190.0,360.7 190.5,360.8 191.0,360.8 191.5,360.9 192.0,360.9 192.5,361.0 193.0,361.0 193.5,361.0 194.0,361.1 194.5,361.1 195.0,361.2 195.5,361.2 196.0,361.3 196.5,361.3 197.0,361.4 197.5,361.4 198.0,361.5 198.5,361.5 199.0,361.6 199.5,361.6 200.0,361.7 200.5,361.7 201.0,361.7 201.5,361.8 202.0,361.8 202.5,361.9 203.0,361.9 203.5,362.0 204.0,362.0 204.5,362.0 205.0,362.1 205.5,362.1 206.0,362.1 206.5,362.2 207.0,362.2 207.5,362.2 208.0,362.3 208.5,362.3 209.0,362.3 209.5,362.4 210.0,362.4 210.5,362.4 211.0,362.5 211.5,362.5 212.0,362.5 212.5,362.6 213.0,362.6 213.5,362.6 214.0,362.6 214.5,362.7 215.0,362.7 215.5,362.7 216.0,362.8 216.5,362.8 217.0,362.8 217.5,362.8 218.0,362.9 218.5,362.9 219.0,362.9 219.5,362.9 220.0,363.0 220.5,363.0 221.0,363.0 221.5,363.0 222.0,363.1 222.5,363.1 223.0,363.1 223.5,363.1 224.0,363.1 224.5,363.2 225.0,363.2 225.5,363.2 226.0,363.2 226.5,363.2 227.0,363.3 227.5,363.3 228.0,363.3 228.5,363.3" fill="none" stroke="#E0601C" stroke-width="1.8"/>
<g fill="none" stroke-width="1.9" stroke-linejoin="round">
<polyline points="20.0,49.6 21.3,50.0 22.7,50.6 24.0,50.5 25.2,51.2 26.5,51.5 26.8,46.9 27.2,52.0 28.6,52.2 30.0,52.9 31.2,52.6 32.5,53.0 33.8,52.2 35.0,52.5 36.5,52.3 38.0,51.5 39.0,51.3 41.0,53.0 42.2,54.9 43.5,56.2 44.8,56.1 46.1,55.9 47.4,55.9 48.7,55.8 50.0,56.0 51.2,55.8 52.5,55.6 53.8,55.4 55.0,55.2 56.2,55.5 57.5,55.1 58.8,54.8 60.0,54.5 62.3,54.0 62.6,30.0 63.0,54.5 64.7,54.5 66.3,53.7 68.0,52.0 69.3,51.1 70.7,50.4 72.0,50.0 74.0,49.0 75.5,50.0 76.2,42.0 77.0,45.0 78.2,67.0 79.5,66.9 80.8,66.1 82.1,65.9 83.4,66.1 84.8,65.9 86.1,66.0 87.4,65.6 88.7,65.2 90.0,65.0 91.2,64.8 92.5,64.3 93.8,63.9 95.0,63.8 96.2,64.0 97.5,63.4 98.8,63.3 100.0,63.2 101.2,62.5 102.5,63.1 103.8,62.3 105.0,62.1 106.2,62.5 107.5,61.9 108.8,62.0 110.0,61.5 111.2,61.4 112.5,61.2 113.8,60.4 115.0,60.5 116.2,60.3 117.5,60.3 118.8,59.6 120.0,59.5 121.2,59.3 122.5,58.6 123.8,58.6 125.0,58.3 126.2,57.9 127.5,58.3 128.8,57.6 130.0,57.5 131.3,57.6 132.6,56.8 133.9,56.5 135.2,56.1 136.6,55.8 137.9,54.9 139.2,54.8 140.5,54.5 142.6,52.8 144.0,58.0 146.3,66.0 146.3,4.0 146.6,73.0 148.4,76.7 149.8,76.6 151.2,77.0 151.6,60.5 152.1,77.5 153.6,77.6 155.0,77.8 156.3,77.5 157.6,78.3 158.9,77.7 160.2,78.0 160.6,73.4 161.0,78.5 162.3,78.9 163.7,78.9 165.0,79.3 166.3,79.7 167.7,79.5 169.0,79.1 170.3,79.7 171.6,79.8 173.0,79.8 174.3,79.5 174.7,64.1 175.2,80.5 176.5,80.6 177.8,80.3 179.2,80.4 180.5,80.7 180.9,74.9 181.3,80.5 182.8,81.0 184.2,80.7 184.6,72.6 185.0,81.0 186.5,85.6 188.2,85.6 190.0,85.5 191.2,85.2 192.4,85.9 193.6,85.7 194.8,85.7 196.0,85.5 197.2,85.6 198.4,85.4 199.6,85.3 200.8,86.1 202.0,85.7 203.2,85.8 204.4,85.8 204.7,75.9 205.1,86.0 206.3,85.9 207.5,86.4 208.7,85.8 209.9,86.2 211.1,86.0 212.3,86.5 212.7,74.6 213.1,87.0 214.5,86.9 215.9,87.8 217.2,87.7 218.6,87.7 220.0,88.0 221.2,88.1 222.5,88.6 223.8,88.2 225.0,88.5 225.4,83.0 225.8,89.0 228.0,90.0" stroke="#10108C"/>
<polyline points="20.0,90.0 21.3,90.3 22.7,90.7 24.0,90.8 25.4,91.0 26.9,91.5 27.2,87.8 27.6,92.5 30.0,94.3 31.2,94.0 32.5,94.0 33.8,93.8 35.0,93.2 37.2,92.6 39.0,94.0 40.2,95.1 41.5,96.9 43.2,97.6 45.0,97.5 45.4,85.4 45.9,98.6 47.3,98.1 48.6,98.6 50.0,98.3 51.2,98.4 52.5,97.5 53.8,97.6 55.0,97.7 56.2,96.7 57.5,97.1 58.8,97.0 60.0,96.5 61.2,96.3 62.4,96.2 63.6,95.5 64.8,95.2 66.0,95.2 67.4,94.7 68.8,94.1 70.1,93.8 71.5,93.5 72.8,93.7 74.0,93.0 76.2,91.0 76.6,85.4 77.2,90.0 78.4,106.0 79.7,106.0 81.0,105.7 82.3,105.6 83.6,106.2 84.8,105.7 86.1,106.1 87.4,105.6 88.7,105.6 90.0,105.5 91.2,105.6 92.5,105.3 93.8,104.9 95.0,104.6 96.2,104.8 97.5,104.1 98.8,104.4 100.0,103.8 101.2,103.2 102.5,103.4 103.8,103.3 105.0,103.5 106.2,102.6 107.5,103.0 108.8,102.6 110.0,102.3 111.2,102.3 112.5,102.1 113.8,102.2 115.0,101.5 116.2,101.4 117.5,101.1 118.8,100.8 120.0,101.0 121.2,100.6 122.5,101.0 123.8,100.7 125.0,99.9 126.2,100.2 127.5,99.9 128.8,99.8 130.0,99.5 131.3,99.5 132.5,99.1 133.8,99.5 135.1,99.0 136.4,99.0 137.6,98.9 138.9,98.6 140.3,96.5 141.7,94.9 143.5,100.0 145.6,110.0 146.2,22.0 146.5,111.6 147.6,114.5 149.4,114.1 151.2,114.5 151.5,110.6 151.9,115.0 153.2,114.9 154.6,115.2 155.9,115.2 157.3,115.1 158.7,114.5 160.0,114.8 160.3,110.6 160.7,115.0 162.1,115.3 163.6,115.1 165.0,114.8 166.9,114.4 167.2,108.2 167.6,114.6 168.9,115.0 170.2,114.8 171.6,115.2 172.9,114.5 174.2,115.0 174.5,104.5 174.9,116.0 176.1,115.8 177.4,116.0 178.6,116.4 179.9,116.6 181.1,117.0 181.4,110.7 181.8,117.5 184.1,118.0 184.4,102.0 184.8,118.5 186.5,123.0 187.7,122.7 189.0,123.1 190.2,122.6 191.5,123.1 192.7,122.7 194.0,123.2 195.2,122.6 196.5,122.8 197.7,123.4 199.0,123.0 200.2,123.3 201.5,123.1 202.7,123.0 203.0,115.6 203.4,123.5 204.7,123.7 205.9,123.4 207.2,123.8 208.5,123.4 209.8,124.1 211.0,124.3 212.3,124.0 212.6,116.8 213.0,124.5 214.4,125.0 215.8,124.5 217.2,125.0 218.6,125.1 220.0,125.5 221.4,125.4 222.8,126.1 224.3,126.5 225.7,126.5 226.0,121.7 226.4,127.0 228.5,128.0" stroke="#1E78E6"/>
<polyline points="20.0,135.5 21.3,135.7 22.7,136.5 24.0,136.5 26.4,137.0 26.7,132.6 27.1,139.0 28.0,139.5 29.4,139.6 30.8,138.8 32.2,139.1 33.6,139.0 35.0,138.5 36.4,138.0 37.7,138.2 39.1,137.9 40.7,140.4 42.3,142.7 43.6,142.9 44.9,142.6 46.1,143.2 47.4,143.4 48.7,143.7 50.0,143.5 51.2,143.4 52.5,142.6 53.8,142.6 55.0,142.0 56.6,141.8 58.2,141.2 59.8,140.3 61.0,140.3 62.3,141.0 62.7,116.0 63.1,141.5 64.6,141.9 65.9,140.4 67.3,139.8 68.7,138.3 70.0,137.5 71.7,136.6 73.4,135.5 74.8,134.7 76.2,133.0 76.6,126.7 77.0,134.0 79.0,153.0 80.2,152.8 81.4,152.7 82.7,152.8 83.9,152.9 85.1,152.4 86.3,152.6 87.6,152.3 88.8,152.7 90.0,152.5 91.2,152.6 92.5,151.9 93.8,151.7 95.0,151.6 96.2,151.1 97.5,150.8 98.8,150.7 100.0,150.6 101.2,150.2 102.5,149.6 103.8,149.9 105.0,149.4 106.2,148.8 107.5,148.3 108.8,148.6 110.0,148.0 111.2,147.4 112.5,147.2 113.8,146.9 115.0,146.6 116.2,147.1 117.5,146.3 118.8,146.1 120.0,146.0 121.2,146.0 122.5,145.6 123.8,145.0 125.0,144.9 126.2,145.1 127.5,144.4 128.8,144.4 130.0,144.0 131.4,143.4 132.7,143.8 134.1,143.6 135.4,143.5 136.8,143.0 139.2,140.0 139.4,134.1 139.8,141.0 140.7,143.0 142.1,138.0 142.8,137.5 144.4,152.7 145.4,156.0 145.6,112.5 145.9,157.8 147.6,160.0 149.2,160.3 150.8,160.3 151.1,145.9 151.5,161.5 152.5,162.5 153.8,162.5 155.0,162.8 156.2,162.6 157.5,163.2 158.8,163.6 160.0,163.5 160.3,158.6 160.7,164.0 162.1,164.1 163.6,164.5 165.0,165.0 166.2,165.2 167.5,165.5 168.8,165.7 170.0,165.5 171.4,165.4 172.8,165.7 174.2,166.2 174.5,150.0 174.9,166.5 176.1,166.9 177.3,166.8 178.5,167.0 179.7,167.3 180.9,167.0 181.2,159.8 181.6,167.2 182.8,167.7 184.1,167.5 184.4,158.0 184.8,168.0 186.5,172.0 187.7,172.3 189.0,172.3 190.2,172.0 191.5,172.2 192.7,171.8 194.0,172.3 195.2,172.3 196.5,172.3 197.7,172.1 199.0,172.0 200.2,172.1 201.5,171.8 202.7,172.2 203.0,163.4 203.4,172.5 204.7,172.9 205.9,172.6 207.2,172.5 208.5,172.7 209.8,172.9 211.0,172.7 212.3,172.8 212.6,161.0 213.0,173.0 214.4,173.4 215.8,173.5 217.2,173.1 218.6,172.9 220.0,173.3 221.4,173.6 222.8,173.8 224.3,173.1 225.7,173.5 226.0,169.6 226.4,174.0 228.5,174.4" stroke="#26C8CC"/>
</g>
<g stroke="#F03C3C" stroke-width="1.8" stroke-dasharray="4 2.5">
<line x1="139.7" y1="34.5" x2="139.7" y2="167.5"/>
<line x1="166.9" y1="34.5" x2="166.9" y2="167.5"/>
<line x1="203.1" y1="33.5" x2="203.1" y2="167.5"/>
</g>
<!-- frames -->
<g fill="none" stroke="#111">
<polyline stroke-width="1.4" points="20.2,174.4 20.2,4.4 228.5,4.4"/>
<polyline stroke-width="1.2" points="20.2,174.4 228.5,174.4 228.5,4.4"/>
<polyline stroke-width="1.9" points="20.1,365.2 20.1,196.1 228.4,196.1"/>
<polyline stroke-width="1.2" points="20.1,365.2 228.4,365.2 228.4,196.1"/>
<polyline stroke-width="1.8" points="268.3,246.8 268.3,5.1 538,5.1 538,246.8"/>
<polyline stroke-width="1.8" points="270,246.8 270,370.1 539.4,370.1 539.4,246.8"/>
</g>
<!-- ticks -->
<g stroke="#111" stroke-width="1.2">
<line x1="42.8" y1="174.5" x2="42.8" y2="177.5"/>
<line x1="74.0" y1="174.5" x2="74.0" y2="177.5"/>
<line x1="105.0" y1="174.5" x2="105.0" y2="177.5"/>
<line x1="135.8" y1="174.5" x2="135.8" y2="177.5"/>
<line x1="166.9" y1="174.5" x2="166.9" y2="177.5"/>
<line x1="197.8" y1="174.5" x2="197.8" y2="177.5"/>
<line x1="228.4" y1="174.5" x2="228.4" y2="177.5"/>
<line x1="48.0" y1="365" x2="48.0" y2="368"/>
<line x1="76.2" y1="365" x2="76.2" y2="368"/>
<line x1="104.4" y1="365" x2="104.4" y2="368"/>
<line x1="132.4" y1="365" x2="132.4" y2="368"/>
<line x1="160.4" y1="365" x2="160.4" y2="368"/>
<line x1="189.0" y1="365" x2="189.0" y2="368"/>
<line x1="217.5" y1="365" x2="217.5" y2="368"/>
<line x1="294.2" y1="370.6" x2="294.2" y2="373.5"/>
<line x1="319.0" y1="370.6" x2="319.0" y2="373.5"/>
<line x1="343.8" y1="370.6" x2="343.8" y2="373.5"/>
<line x1="368.4" y1="370.6" x2="368.4" y2="373.5"/>
<line x1="392.9" y1="370.6" x2="392.9" y2="373.5"/>
<line x1="417.2" y1="370.6" x2="417.2" y2="373.5"/>
<line x1="441.5" y1="370.6" x2="441.5" y2="373.5"/>
<line x1="466.3" y1="370.6" x2="466.3" y2="373.5"/>
<line x1="491.2" y1="370.6" x2="491.2" y2="373.5"/>
<line x1="515.3" y1="370.6" x2="515.3" y2="373.5"/>
<line x1="539.5" y1="370.6" x2="539.5" y2="373.5"/>
</g>
<!-- texts -->
<text x="22.56" y="43.00" font-size="11.00" text-anchor="start">before MGP adsorption</text>
<text x="21.34" y="79.70" font-size="11.11" text-anchor="start">after MGP adsorbed MB</text>
<text x="21.54" y="125.90" font-size="11.13" text-anchor="start">after MGP adsorbed Cr(VI)</text>
<text x="116.14" y="28.80" font-size="11.50" text-anchor="start">Cr 2p</text>
<text x="157.09" y="25.00" font-size="11.11" text-anchor="start">N 1s</text>
<text x="191.00" y="25.00" font-size="11.37" text-anchor="start">S 2p</text>
<text x="211.45" y="16.60" font-size="12.43" text-anchor="start">(a)</text>
<text x="31.97" y="188.80" font-size="10.80" text-anchor="start">1200</text>
<text x="96.93" y="188.80" font-size="10.80" text-anchor="start">800</text>
<text x="159.03" y="188.80" font-size="10.80" text-anchor="start">400</text>
<text x="225.80" y="188.80" font-size="10.80" text-anchor="start">0</text>
<text transform="translate(11.90,88.95) rotate(-90)" font-size="11.26" x="-35.13">Intensity (a.u.)</text>
<text x="119.20" y="210.30" font-size="12.38" text-anchor="start">Cr 2p</text>
<text x="210.21" y="209.20" font-size="13.50" text-anchor="start">(c)</text>
<text x="41.63" y="230.10" font-size="11.45" text-anchor="start">after MGP</text>
<text x="30.64" y="244.00" font-size="11.19" text-anchor="start">adsorbed Cr(VI)</text>
<text x="92.96" y="265.00" font-size="11.13" text-anchor="start">78.60%</text>
<text x="152.36" y="244.70" font-size="11.16" text-anchor="start">Cr(VI)</text>
<text x="192.37" y="265.40" font-size="10.91" text-anchor="start">Cr(III)</text>
<text x="190.74" y="315.30" font-size="11.01" text-anchor="start">21.40%</text>
<text x="39.81" y="379.80" font-size="10.90" text-anchor="start">585</text>
<text x="96.21" y="379.80" font-size="10.90" text-anchor="start">580</text>
<text x="152.21" y="379.80" font-size="10.90" text-anchor="start">575</text>
<text x="209.81" y="379.80" font-size="10.90" text-anchor="start">570</text>
<text x="61.16" y="401.40" font-size="14.19" text-anchor="start">Binding Energy (eV)</text>
<text transform="translate(11.90,280.35) rotate(-90)" font-size="11.06" x="-34.52">Intensity (a.u.)</text>
<text x="270.77" y="31.60" font-size="9.86" text-anchor="start">before MGP adsorption</text>
<text x="369.97" y="18.40" font-size="10.85" text-anchor="start">O 1s</text>
<text x="519.50" y="19.10" font-size="11.46" text-anchor="start">(b)</text>
<text x="447.77" y="29.10" font-size="10.41" text-anchor="start">—OH</text>
<text x="449.60" y="41.80" font-size="9.96" text-anchor="start">531.52eV</text>
<text x="326.76" y="55.00" font-size="11.11" text-anchor="start">C—O</text>
<text x="381.47" y="137.50" font-size="10.85" text-anchor="start">O 1s</text>
<text x="278.58" y="153.30" font-size="9.95" text-anchor="start">after MGP adsorbed MB</text>
<text x="442.57" y="137.50" font-size="10.21" text-anchor="start">—OH</text>
<text x="442.12" y="149.50" font-size="9.57" text-anchor="start">531.70eV</text>
<text x="311.47" y="217.00" font-size="10.82" text-anchor="start">C—O</text>
<text x="361.97" y="260.50" font-size="10.85" text-anchor="start">O 1s</text>
<text x="291.19" y="281.50" font-size="9.77" text-anchor="start">after MGP</text>
<text x="281.28" y="294.00" font-size="9.90" text-anchor="start">adsorbed Cr(VI)</text>
<text x="417.77" y="258.50" font-size="10.17" text-anchor="start">—OH</text>
<text x="418.10" y="268.90" font-size="9.88" text-anchor="start">532.89eV</text>
<text x="479.08" y="336.60" font-size="10.57" text-anchor="start">C—O</text>
<text x="286.91" y="382.50" font-size="9.70" text-anchor="start">535</text>
<text x="336.42" y="382.50" font-size="9.70" text-anchor="start">534</text>
<text x="385.60" y="382.50" font-size="9.70" text-anchor="start">533</text>
<text x="434.24" y="382.50" font-size="9.70" text-anchor="start">532</text>
<text x="483.98" y="382.50" font-size="9.70" text-anchor="start">531</text>
<text x="532.22" y="382.50" font-size="9.70" text-anchor="start">530</text>
<text x="361.84" y="399.30" font-size="9.94" text-anchor="start">Binding Energy(eV)</text>
<line x1="150.9" y1="246.9" x2="134.6" y2="274.8" stroke="#000" stroke-width="1.6"/>
<polygon points="129.8,283.0 132.2,272.2 138.0,275.7" fill="#000"/>
<line x1="202.5" y1="271.1" x2="186.5" y2="298.8" stroke="#000" stroke-width="1.6"/>
<polygon points="181.7,307.0 184.0,296.2 189.9,299.6" fill="#000"/>
<line x1="354.5" y1="57.5" x2="375.0" y2="67.2" stroke="#000" stroke-width="1.7"/>
<polygon points="383.1,71.1 372.7,69.7 375.4,63.9" fill="#000"/>
<line x1="448.0" y1="32.0" x2="429.4" y2="47.7" stroke="#000" stroke-width="1.7"/>
<polygon points="422.5,53.5 428.1,44.6 432.2,49.5" fill="#000"/>
<line x1="443.5" y1="138.2" x2="425.4" y2="141.4" stroke="#000" stroke-width="1.7"/>
<polygon points="416.5,143.0 425.8,138.1 426.9,144.4" fill="#000"/>
<line x1="324.7" y1="218.2" x2="350.7" y2="228.4" stroke="#000" stroke-width="1.7"/>
<polygon points="359.1,231.7 348.6,231.0 351.0,225.1" fill="#000"/>
<line x1="415.0" y1="252.0" x2="403.8" y2="256.6" stroke="#000" stroke-width="1.7"/>
<polygon points="395.5,260.0 403.5,253.2 406.0,259.2" fill="#000"/>
<line x1="487.3" y1="339.5" x2="478.3" y2="356.0" stroke="#000" stroke-width="1.7"/>
<polygon points="474.0,363.9 476.0,353.6 481.6,356.7" fill="#000"/>
</svg>
</body></html>
